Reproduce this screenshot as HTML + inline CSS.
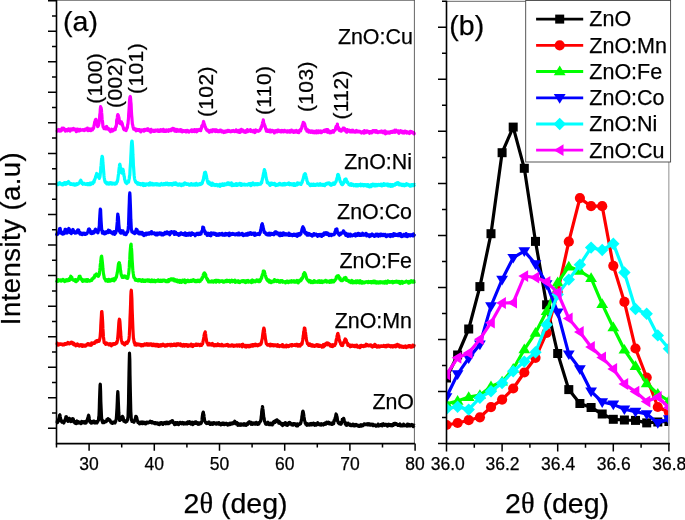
<!DOCTYPE html>
<html><head><meta charset="utf-8"><title>XRD</title>
<style>html,body{margin:0;padding:0;background:#fff;overflow:hidden}svg text{stroke:#000;stroke-width:0.25px}</style></head>
<body>
<svg width="685" height="520" viewBox="0 0 685 520" style="display:block">
<rect width="685" height="520" fill="#fff"/>
<g font-family="Liberation Sans, Arial, Helvetica, sans-serif" fill="#000">
<g fill="none" stroke-width="3.2" stroke-linejoin="round" stroke-linecap="butt">
<path d="M56.5,422.1 L56.8,422.1 L57.0,421.6 L57.3,422.7 L57.5,422.6 L57.8,422.2 L58.1,420.9 L58.3,421.6 L58.6,419.5 L58.8,418.6 L59.1,417.7 L59.4,416.2 L59.6,415.1 L59.9,414.8 L60.2,416.6 L60.4,417.5 L60.7,419.1 L60.9,420.8 L61.2,420.9 L61.5,421.5 L61.7,421.6 L62.0,422.2 L62.2,422.2 L62.5,421.1 L62.8,422.0 L63.0,422.4 L63.3,421.4 L63.5,422.6 L63.8,423.0 L64.1,422.1 L64.3,422.1 L64.6,421.1 L64.8,420.4 L65.1,420.8 L65.4,418.7 L65.6,419.5 L65.9,416.8 L66.1,417.4 L66.4,416.8 L66.7,418.4 L66.9,418.8 L67.2,420.3 L67.5,420.4 L67.7,419.9 L68.0,421.4 L68.2,419.6 L68.5,420.4 L68.8,419.4 L69.0,418.4 L69.3,418.8 L69.5,418.5 L69.8,418.8 L70.1,418.8 L70.3,420.4 L70.6,420.1 L70.8,421.7 L71.1,420.4 L71.4,420.9 L71.6,421.3 L71.9,420.5 L72.1,418.9 L72.4,419.4 L72.7,418.6 L72.9,418.6 L73.2,418.9 L73.5,419.9 L73.7,420.8 L74.0,422.2 L74.2,421.3 L74.5,422.0 L74.8,422.1 L75.0,423.1 L75.3,421.6 L75.5,422.5 L75.8,422.2 L76.1,422.5 L76.3,423.7 L76.6,422.1 L76.8,422.3 L77.1,421.0 L77.4,422.8 L77.6,422.4 L77.9,423.0 L78.1,421.6 L78.4,422.4 L78.7,422.9 L78.9,422.7 L79.2,422.3 L79.5,422.3 L79.7,422.1 L80.0,422.7 L80.2,422.4 L80.5,423.0 L80.8,423.7 L81.0,422.7 L81.3,422.4 L81.5,422.6 L81.8,421.5 L82.1,422.5 L82.3,421.5 L82.6,422.8 L82.8,422.8 L83.1,421.9 L83.4,422.5 L83.6,421.9 L83.9,422.8 L84.1,421.5 L84.4,422.3 L84.7,422.6 L84.9,423.1 L85.2,423.0 L85.4,423.1 L85.7,422.1 L86.0,422.4 L86.2,422.9 L86.5,420.7 L86.8,420.6 L87.0,421.0 L87.3,420.1 L87.5,419.1 L87.8,417.9 L88.1,417.7 L88.3,416.0 L88.6,415.2 L88.8,415.9 L89.1,417.4 L89.4,419.1 L89.6,420.0 L89.9,422.1 L90.1,422.2 L90.4,422.0 L90.7,422.2 L90.9,421.7 L91.2,423.2 L91.4,422.8 L91.7,422.7 L92.0,421.7 L92.2,423.0 L92.5,421.9 L92.8,421.6 L93.0,421.8 L93.3,421.3 L93.5,421.9 L93.8,422.6 L94.1,421.0 L94.3,422.2 L94.6,422.6 L94.8,422.5 L95.1,423.0 L95.4,422.2 L95.6,422.6 L95.9,421.9 L96.1,422.8 L96.4,422.3 L96.7,421.6 L96.9,423.0 L97.2,422.3 L97.4,421.3 L97.7,421.8 L98.0,421.3 L98.2,420.3 L98.5,420.3 L98.7,417.3 L99.0,415.7 L99.3,408.4 L99.5,400.4 L99.8,392.1 L100.1,385.0 L100.3,384.2 L100.6,391.5 L100.8,401.1 L101.1,407.7 L101.4,414.4 L101.6,417.6 L101.9,420.9 L102.1,420.0 L102.4,422.1 L102.7,422.6 L102.9,421.4 L103.2,420.7 L103.4,422.0 L103.7,421.7 L104.0,422.4 L104.2,422.5 L104.5,422.1 L104.7,422.1 L105.0,421.7 L105.3,421.9 L105.5,421.9 L105.8,421.5 L106.1,421.7 L106.3,421.5 L106.6,421.1 L106.8,419.6 L107.1,419.9 L107.4,419.2 L107.6,419.2 L107.9,419.1 L108.1,418.7 L108.4,419.3 L108.7,419.9 L108.9,419.2 L109.2,420.3 L109.4,420.1 L109.7,419.8 L110.0,420.2 L110.2,421.0 L110.5,421.2 L110.7,422.2 L111.0,422.1 L111.3,422.1 L111.5,423.0 L111.8,422.0 L112.1,423.0 L112.3,423.2 L112.6,423.4 L112.8,423.0 L113.1,422.8 L113.4,422.3 L113.6,422.6 L113.9,422.1 L114.1,422.0 L114.4,422.6 L114.7,421.9 L114.9,423.0 L115.2,422.3 L115.4,421.3 L115.7,421.6 L116.0,419.7 L116.2,419.7 L116.5,416.2 L116.7,413.1 L117.0,408.0 L117.3,401.6 L117.5,395.9 L117.8,391.7 L118.0,394.4 L118.3,401.2 L118.6,408.1 L118.8,412.7 L119.1,416.9 L119.4,419.0 L119.6,420.5 L119.9,420.4 L120.1,420.2 L120.4,419.8 L120.7,419.3 L120.9,419.6 L121.2,418.9 L121.4,418.7 L121.7,417.7 L122.0,417.0 L122.2,417.2 L122.5,416.3 L122.7,416.9 L123.0,417.2 L123.3,418.3 L123.5,419.6 L123.8,421.1 L124.0,421.0 L124.3,421.2 L124.6,420.5 L124.8,421.7 L125.1,421.7 L125.4,422.1 L125.6,421.9 L125.9,421.7 L126.1,421.8 L126.4,421.5 L126.7,421.0 L126.9,421.4 L127.2,420.0 L127.4,420.2 L127.7,418.4 L128.0,417.2 L128.2,411.5 L128.5,403.5 L128.7,390.3 L129.0,373.9 L129.3,360.4 L129.5,353.2 L129.8,359.8 L130.0,375.3 L130.3,390.3 L130.6,403.4 L130.8,411.5 L131.1,415.9 L131.3,419.8 L131.6,419.4 L131.9,421.4 L132.1,421.1 L132.4,421.2 L132.7,421.3 L132.9,421.5 L133.2,421.9 L133.4,421.2 L133.7,421.6 L134.0,422.2 L134.2,421.2 L134.5,420.5 L134.7,420.6 L135.0,420.1 L135.3,418.4 L135.5,418.8 L135.8,416.3 L136.0,416.3 L136.3,416.5 L136.6,417.7 L136.8,417.7 L137.1,419.7 L137.3,420.2 L137.6,421.2 L137.9,422.5 L138.1,422.6 L138.4,421.8 L138.7,422.8 L138.9,422.7 L139.2,422.4 L139.4,423.8 L139.7,422.9 L140.0,423.7 L140.2,423.3 L140.5,422.8 L140.7,422.1 L141.0,423.3 L141.3,423.2 L141.5,423.1 L141.8,422.1 L142.0,423.6 L142.3,422.1 L142.6,422.1 L142.8,423.7 L143.1,423.2 L143.3,422.7 L143.6,423.3 L143.9,422.4 L144.1,423.1 L144.4,422.3 L144.7,422.7 L144.9,422.9 L145.2,422.9 L145.4,423.8 L145.7,423.4 L146.0,423.1 L146.2,423.8 L146.5,423.0 L146.7,422.2 L147.0,422.7 L147.3,422.2 L147.5,422.8 L147.8,422.6 L148.0,422.6 L148.3,422.8 L148.6,422.1 L148.8,422.8 L149.1,422.4 L149.3,422.4 L149.6,422.1 L149.9,421.9 L150.1,422.3 L150.4,421.2 L150.6,422.1 L150.9,422.4 L151.2,422.1 L151.4,422.6 L151.7,422.9 L152.0,421.6 L152.2,422.3 L152.5,422.8 L152.7,422.4 L153.0,422.2 L153.3,422.4 L153.5,422.8 L153.8,422.9 L154.0,423.3 L154.3,423.4 L154.6,422.7 L154.8,423.4 L155.1,423.8 L155.3,422.6 L155.6,423.7 L155.9,423.6 L156.1,422.8 L156.4,423.5 L156.6,423.7 L156.9,423.8 L157.2,423.1 L157.4,423.0 L157.7,423.9 L158.0,423.3 L158.2,423.3 L158.5,424.3 L158.7,424.0 L159.0,423.4 L159.3,423.5 L159.5,424.6 L159.8,423.1 L160.0,422.9 L160.3,423.7 L160.6,423.5 L160.8,423.4 L161.1,422.6 L161.3,422.9 L161.6,423.1 L161.9,423.5 L162.1,423.3 L162.4,424.0 L162.6,422.9 L162.9,424.5 L163.2,423.4 L163.4,424.0 L163.7,423.2 L163.9,423.5 L164.2,422.7 L164.5,423.0 L164.7,422.9 L165.0,423.2 L165.3,422.5 L165.5,422.8 L165.8,423.0 L166.0,423.8 L166.3,422.7 L166.6,422.1 L166.8,423.0 L167.1,423.5 L167.3,423.4 L167.6,422.3 L167.9,423.6 L168.1,423.4 L168.4,423.3 L168.6,423.7 L168.9,423.4 L169.2,423.2 L169.4,422.9 L169.7,423.0 L169.9,421.9 L170.2,422.6 L170.5,422.5 L170.7,422.1 L171.0,421.5 L171.3,421.8 L171.5,420.9 L171.8,420.8 L172.0,421.0 L172.3,421.2 L172.6,420.8 L172.8,421.5 L173.1,422.5 L173.3,422.1 L173.6,422.5 L173.9,423.1 L174.1,423.2 L174.4,424.5 L174.6,423.2 L174.9,423.3 L175.2,424.5 L175.4,422.7 L175.7,422.8 L175.9,423.4 L176.2,424.3 L176.5,422.7 L176.7,424.2 L177.0,423.2 L177.3,424.0 L177.5,422.5 L177.8,424.2 L178.0,423.9 L178.3,423.5 L178.6,424.7 L178.8,423.2 L179.1,423.8 L179.3,423.8 L179.6,423.3 L179.9,423.2 L180.1,422.4 L180.4,423.3 L180.6,423.4 L180.9,422.8 L181.2,423.7 L181.4,423.0 L181.7,423.8 L181.9,423.2 L182.2,423.3 L182.5,422.5 L182.7,422.7 L183.0,422.5 L183.2,422.5 L183.5,422.8 L183.8,424.0 L184.0,422.9 L184.3,423.2 L184.6,422.9 L184.8,423.0 L185.1,423.7 L185.3,423.9 L185.6,423.2 L185.9,423.2 L186.1,423.1 L186.4,423.0 L186.6,422.7 L186.9,423.5 L187.2,424.0 L187.4,422.6 L187.7,423.6 L187.9,421.8 L188.2,423.4 L188.5,423.2 L188.7,423.4 L189.0,422.9 L189.2,423.2 L189.5,423.0 L189.8,421.7 L190.0,423.1 L190.3,422.6 L190.6,423.4 L190.8,424.0 L191.1,422.7 L191.3,423.8 L191.6,423.9 L191.9,423.0 L192.1,423.7 L192.4,422.2 L192.6,424.7 L192.9,423.0 L193.2,423.4 L193.4,423.9 L193.7,422.9 L193.9,423.1 L194.2,423.4 L194.5,423.5 L194.7,422.1 L195.0,422.3 L195.2,423.0 L195.5,423.4 L195.8,422.6 L196.0,421.9 L196.3,423.4 L196.5,423.1 L196.8,423.6 L197.1,423.6 L197.3,423.5 L197.6,423.0 L197.9,422.8 L198.1,424.3 L198.4,423.5 L198.6,424.2 L198.9,424.0 L199.2,423.1 L199.4,424.1 L199.7,422.8 L199.9,422.8 L200.2,423.8 L200.5,423.2 L200.7,423.7 L201.0,422.5 L201.2,423.3 L201.5,422.5 L201.8,421.0 L202.0,419.5 L202.3,416.6 L202.5,415.3 L202.8,413.1 L203.1,413.2 L203.3,412.1 L203.6,414.1 L203.9,414.9 L204.1,416.9 L204.4,419.0 L204.6,420.5 L204.9,421.3 L205.2,421.8 L205.4,422.4 L205.7,422.2 L205.9,422.9 L206.2,423.0 L206.5,423.5 L206.7,423.2 L207.0,423.3 L207.2,423.0 L207.5,423.0 L207.8,423.3 L208.0,423.4 L208.3,422.6 L208.5,422.2 L208.8,422.0 L209.1,422.5 L209.3,422.2 L209.6,422.6 L209.9,423.4 L210.1,424.4 L210.4,423.5 L210.6,424.5 L210.9,423.5 L211.2,423.8 L211.4,423.2 L211.7,423.0 L211.9,424.0 L212.2,423.0 L212.5,423.8 L212.7,424.4 L213.0,424.4 L213.2,423.7 L213.5,423.6 L213.8,423.8 L214.0,422.5 L214.3,422.8 L214.5,423.4 L214.8,423.2 L215.1,423.1 L215.3,423.7 L215.6,423.4 L215.8,423.3 L216.1,424.2 L216.4,423.9 L216.6,424.0 L216.9,422.8 L217.2,423.3 L217.4,423.4 L217.7,423.9 L217.9,423.8 L218.2,424.0 L218.5,423.4 L218.7,424.0 L219.0,422.5 L219.2,423.8 L219.5,423.2 L219.8,423.9 L220.0,424.0 L220.3,423.7 L220.5,424.6 L220.8,424.9 L221.1,423.6 L221.3,423.4 L221.6,423.4 L221.8,424.0 L222.1,423.9 L222.4,424.0 L222.6,424.3 L222.9,423.2 L223.2,424.1 L223.4,423.1 L223.7,423.8 L223.9,423.6 L224.2,424.6 L224.5,423.4 L224.7,424.3 L225.0,423.9 L225.2,424.3 L225.5,424.1 L225.8,424.1 L226.0,423.4 L226.3,423.9 L226.5,423.9 L226.8,423.5 L227.1,423.8 L227.3,424.7 L227.6,425.1 L227.8,424.5 L228.1,425.0 L228.4,423.8 L228.6,424.3 L228.9,424.4 L229.1,424.0 L229.4,423.4 L229.7,423.8 L229.9,423.5 L230.2,424.5 L230.5,423.4 L230.7,424.5 L231.0,423.1 L231.2,423.6 L231.5,423.5 L231.8,423.6 L232.0,423.8 L232.3,422.8 L232.5,423.1 L232.8,423.8 L233.1,423.3 L233.3,422.7 L233.6,422.4 L233.8,422.4 L234.1,421.9 L234.4,422.9 L234.6,422.6 L234.9,421.2 L235.1,423.4 L235.4,423.6 L235.7,423.8 L235.9,423.9 L236.2,422.6 L236.5,422.7 L236.7,423.7 L237.0,422.6 L237.2,424.1 L237.5,423.3 L237.8,425.3 L238.0,424.1 L238.3,424.3 L238.5,424.9 L238.8,423.7 L239.1,424.2 L239.3,424.7 L239.6,425.1 L239.8,424.8 L240.1,424.3 L240.4,425.3 L240.6,424.8 L240.9,423.8 L241.1,425.0 L241.4,424.4 L241.7,425.0 L241.9,424.1 L242.2,424.2 L242.5,424.6 L242.7,424.5 L243.0,424.0 L243.2,424.0 L243.5,425.1 L243.8,424.2 L244.0,424.2 L244.3,423.8 L244.5,424.0 L244.8,425.1 L245.1,425.1 L245.3,424.8 L245.6,424.8 L245.8,424.1 L246.1,425.4 L246.4,423.8 L246.6,424.2 L246.9,424.2 L247.1,423.9 L247.4,424.6 L247.7,424.4 L247.9,422.9 L248.2,422.7 L248.4,423.1 L248.7,423.2 L249.0,422.0 L249.2,421.8 L249.5,422.4 L249.8,422.9 L250.0,422.7 L250.3,422.7 L250.5,422.5 L250.8,422.2 L251.1,424.3 L251.3,422.8 L251.6,422.9 L251.8,423.2 L252.1,423.8 L252.4,423.1 L252.6,424.3 L252.9,422.9 L253.1,423.0 L253.4,423.2 L253.7,423.9 L253.9,423.5 L254.2,423.3 L254.4,423.5 L254.7,423.0 L255.0,424.1 L255.2,423.5 L255.5,424.2 L255.8,424.1 L256.0,423.4 L256.3,422.4 L256.5,423.1 L256.8,423.5 L257.1,423.6 L257.3,423.1 L257.6,424.5 L257.8,424.1 L258.1,424.0 L258.4,423.9 L258.6,424.1 L258.9,422.7 L259.1,423.7 L259.4,422.4 L259.7,422.4 L259.9,422.2 L260.2,421.7 L260.4,421.4 L260.7,420.6 L261.0,419.1 L261.2,416.8 L261.5,415.1 L261.7,411.8 L262.0,409.7 L262.3,407.9 L262.5,406.5 L262.8,408.7 L263.1,410.3 L263.3,412.7 L263.6,415.5 L263.8,417.8 L264.1,418.0 L264.4,421.0 L264.6,421.2 L264.9,421.8 L265.1,422.5 L265.4,423.5 L265.7,424.1 L265.9,424.2 L266.2,423.5 L266.4,423.3 L266.7,423.3 L267.0,424.3 L267.2,423.1 L267.5,423.3 L267.7,422.6 L268.0,422.2 L268.3,423.6 L268.5,423.7 L268.8,424.5 L269.1,423.7 L269.3,423.5 L269.6,424.5 L269.8,423.8 L270.1,423.6 L270.4,423.3 L270.6,424.7 L270.9,423.7 L271.1,423.7 L271.4,423.4 L271.7,424.7 L271.9,423.3 L272.2,425.0 L272.4,423.0 L272.7,422.9 L273.0,424.1 L273.2,422.5 L273.5,421.8 L273.7,422.2 L274.0,421.5 L274.3,422.2 L274.5,422.3 L274.8,421.2 L275.1,421.9 L275.3,422.3 L275.6,421.4 L275.8,420.6 L276.1,421.3 L276.4,420.1 L276.6,420.5 L276.9,419.8 L277.1,421.3 L277.4,421.5 L277.7,420.6 L277.9,421.1 L278.2,421.8 L278.4,422.0 L278.7,423.0 L279.0,422.4 L279.2,421.4 L279.5,422.9 L279.7,422.0 L280.0,423.0 L280.3,423.6 L280.5,423.0 L280.8,423.1 L281.0,423.8 L281.3,424.3 L281.6,424.6 L281.8,424.0 L282.1,423.5 L282.4,423.9 L282.6,425.6 L282.9,424.4 L283.1,423.6 L283.4,424.0 L283.7,424.7 L283.9,424.2 L284.2,423.7 L284.4,423.9 L284.7,424.0 L285.0,422.8 L285.2,422.7 L285.5,424.0 L285.7,423.4 L286.0,425.0 L286.3,424.2 L286.5,423.2 L286.8,423.7 L287.0,423.7 L287.3,425.5 L287.6,424.0 L287.8,424.1 L288.1,424.9 L288.4,424.0 L288.6,424.0 L288.9,422.6 L289.1,423.9 L289.4,423.4 L289.7,423.1 L289.9,422.5 L290.2,423.8 L290.4,423.5 L290.7,423.3 L291.0,423.7 L291.2,423.7 L291.5,423.6 L291.7,424.9 L292.0,424.3 L292.3,424.6 L292.5,424.4 L292.8,425.2 L293.0,424.5 L293.3,423.6 L293.6,424.2 L293.8,423.7 L294.1,424.0 L294.3,423.7 L294.6,424.7 L294.9,424.2 L295.1,424.5 L295.4,424.4 L295.7,424.6 L295.9,424.0 L296.2,425.8 L296.4,425.8 L296.7,424.4 L297.0,424.2 L297.2,424.6 L297.5,423.8 L297.7,426.0 L298.0,425.1 L298.3,424.8 L298.5,424.4 L298.8,424.5 L299.0,424.4 L299.3,424.2 L299.6,424.3 L299.8,424.2 L300.1,424.1 L300.3,423.2 L300.6,423.6 L300.9,422.4 L301.1,421.9 L301.4,419.9 L301.7,418.9 L301.9,416.4 L302.2,415.2 L302.4,413.2 L302.7,411.6 L303.0,411.1 L303.2,411.8 L303.5,413.3 L303.7,414.5 L304.0,417.0 L304.3,418.5 L304.5,420.4 L304.8,421.1 L305.0,421.8 L305.3,423.5 L305.6,422.8 L305.8,424.3 L306.1,424.1 L306.3,423.6 L306.6,423.5 L306.9,425.3 L307.1,424.9 L307.4,423.7 L307.7,424.2 L307.9,424.7 L308.2,424.5 L308.4,424.6 L308.7,424.8 L309.0,424.4 L309.2,425.2 L309.5,423.9 L309.7,424.3 L310.0,424.8 L310.3,424.6 L310.5,423.7 L310.8,424.3 L311.0,424.2 L311.3,423.4 L311.6,424.8 L311.8,424.4 L312.1,424.7 L312.3,423.8 L312.6,424.5 L312.9,423.3 L313.1,424.3 L313.4,424.4 L313.6,423.1 L313.9,424.6 L314.2,424.4 L314.4,424.7 L314.7,425.2 L315.0,424.2 L315.2,423.8 L315.5,424.0 L315.7,423.7 L316.0,424.5 L316.3,425.1 L316.5,424.9 L316.8,424.4 L317.0,424.1 L317.3,423.7 L317.6,423.7 L317.8,422.7 L318.1,423.6 L318.3,423.3 L318.6,424.3 L318.9,423.8 L319.1,424.7 L319.4,424.8 L319.6,424.3 L319.9,424.0 L320.2,424.6 L320.4,424.4 L320.7,424.5 L321.0,425.2 L321.2,424.9 L321.5,423.7 L321.7,424.8 L322.0,423.9 L322.3,424.0 L322.5,424.4 L322.8,424.7 L323.0,424.2 L323.3,425.1 L323.6,424.7 L323.8,423.7 L324.1,424.2 L324.3,424.3 L324.6,424.4 L324.9,424.4 L325.1,424.3 L325.4,422.8 L325.6,423.7 L325.9,424.0 L326.2,423.4 L326.4,422.7 L326.7,422.2 L326.9,423.2 L327.2,422.8 L327.5,423.0 L327.7,423.2 L328.0,423.4 L328.3,423.4 L328.5,423.5 L328.8,422.2 L329.0,423.2 L329.3,423.8 L329.6,423.2 L329.8,423.2 L330.1,423.6 L330.3,423.3 L330.6,423.6 L330.9,424.0 L331.1,423.2 L331.4,424.1 L331.6,424.4 L331.9,423.8 L332.2,424.3 L332.4,424.3 L332.7,424.0 L332.9,422.7 L333.2,423.8 L333.5,422.8 L333.7,423.7 L334.0,420.6 L334.3,421.2 L334.5,420.7 L334.8,419.6 L335.0,418.4 L335.3,417.4 L335.6,417.0 L335.8,415.1 L336.1,414.0 L336.3,415.6 L336.6,414.9 L336.9,417.1 L337.1,416.9 L337.4,419.4 L337.6,421.3 L337.9,421.1 L338.2,422.7 L338.4,423.0 L338.7,423.2 L338.9,423.4 L339.2,422.8 L339.5,423.8 L339.7,423.1 L340.0,423.0 L340.3,423.8 L340.5,423.2 L340.8,423.7 L341.0,424.3 L341.3,423.8 L341.6,422.7 L341.8,421.7 L342.1,421.9 L342.3,419.4 L342.6,419.9 L342.9,420.0 L343.1,419.3 L343.4,419.4 L343.6,418.3 L343.9,418.9 L344.2,420.4 L344.4,421.0 L344.7,421.5 L344.9,422.5 L345.2,424.0 L345.5,423.0 L345.7,423.3 L346.0,425.1 L346.2,423.0 L346.5,423.6 L346.8,424.4 L347.0,425.3 L347.3,424.2 L347.6,424.7 L347.8,423.3 L348.1,423.2 L348.3,424.6 L348.6,424.4 L348.9,424.4 L349.1,423.9 L349.4,424.9 L349.6,424.7 L349.9,425.3 L350.2,424.6 L350.4,424.3 L350.7,424.7 L350.9,425.7 L351.2,424.8 L351.5,425.3 L351.7,425.1 L352.0,424.8 L352.2,425.6 L352.5,425.5 L352.8,425.2 L353.0,424.2 L353.3,425.2 L353.6,424.7 L353.8,424.4 L354.1,426.0 L354.3,425.2 L354.6,425.3 L354.9,425.3 L355.1,425.8 L355.4,425.0 L355.6,424.9 L355.9,425.3 L356.2,424.4 L356.4,425.2 L356.7,424.8 L356.9,424.9 L357.2,425.1 L357.5,425.9 L357.7,425.2 L358.0,426.1 L358.2,425.3 L358.5,425.6 L358.8,425.5 L359.0,426.3 L359.3,425.7 L359.5,426.4 L359.8,426.2 L360.1,425.7 L360.3,426.2 L360.6,425.0 L360.9,424.7 L361.1,425.1 L361.4,425.4 L361.6,424.8 L361.9,426.0 L362.2,424.9 L362.4,425.1 L362.7,425.2 L362.9,424.9 L363.2,425.5 L363.5,424.7 L363.7,425.1 L364.0,424.5 L364.2,423.8 L364.5,424.4 L364.8,424.6 L365.0,424.1 L365.3,424.3 L365.5,424.2 L365.8,424.6 L366.1,424.4 L366.3,424.1 L366.6,423.8 L366.9,423.8 L367.1,423.9 L367.4,424.6 L367.6,424.8 L367.9,423.9 L368.2,423.6 L368.4,425.0 L368.7,423.8 L368.9,424.7 L369.2,424.5 L369.5,424.0 L369.7,424.5 L370.0,425.2 L370.2,424.1 L370.5,425.1 L370.8,424.4 L371.0,424.7 L371.3,424.4 L371.5,424.7 L371.8,424.2 L372.1,425.1 L372.3,424.6 L372.6,425.5 L372.9,424.8 L373.1,424.3 L373.4,425.7 L373.6,424.7 L373.9,425.1 L374.2,425.4 L374.4,424.9 L374.7,425.5 L374.9,425.6 L375.2,425.0 L375.5,425.1 L375.7,425.2 L376.0,425.5 L376.2,426.2 L376.5,426.1 L376.8,426.0 L377.0,425.9 L377.3,425.1 L377.5,425.3 L377.8,425.9 L378.1,424.2 L378.3,424.8 L378.6,425.1 L378.8,426.0 L379.1,425.2 L379.4,425.5 L379.6,425.6 L379.9,425.6 L380.2,425.4 L380.4,424.9 L380.7,425.1 L380.9,424.6 L381.2,424.5 L381.5,425.2 L381.7,424.5 L382.0,425.3 L382.2,425.9 L382.5,424.2 L382.8,425.2 L383.0,424.7 L383.3,424.7 L383.5,423.7 L383.8,425.1 L384.1,424.7 L384.3,425.0 L384.6,425.4 L384.8,424.9 L385.1,424.8 L385.4,424.4 L385.6,424.7 L385.9,424.4 L386.2,425.1 L386.4,424.8 L386.7,424.5 L386.9,425.1 L387.2,424.8 L387.5,426.2 L387.7,425.7 L388.0,425.5 L388.2,424.8 L388.5,424.3 L388.8,424.6 L389.0,425.4 L389.3,424.5 L389.5,424.4 L389.8,425.3 L390.1,424.6 L390.3,425.6 L390.6,424.6 L390.8,424.6 L391.1,424.6 L391.4,425.3 L391.6,425.5 L391.9,425.9 L392.1,425.1 L392.4,424.6 L392.7,424.3 L392.9,425.1 L393.2,425.4 L393.5,424.6 L393.7,424.4 L394.0,423.5 L394.2,423.4 L394.5,423.9 L394.8,424.5 L395.0,424.4 L395.3,423.3 L395.5,424.1 L395.8,423.4 L396.1,423.5 L396.3,423.8 L396.6,424.6 L396.8,424.3 L397.1,424.1 L397.4,424.9 L397.6,424.9 L397.9,425.4 L398.1,425.2 L398.4,424.5 L398.7,424.5 L398.9,425.4 L399.2,424.7 L399.5,424.8 L399.7,424.6 L400.0,423.9 L400.2,425.9 L400.5,424.7 L400.8,425.3 L401.0,425.3 L401.3,425.1 L401.5,425.8 L401.8,425.5 L402.1,425.2 L402.3,425.3 L402.6,425.8 L402.8,424.8 L403.1,425.2 L403.4,425.0 L403.6,424.1 L403.9,425.2 L404.1,425.8 L404.4,425.0 L404.7,425.0 L404.9,425.5 L405.2,425.6 L405.5,425.5 L405.7,425.6 L406.0,425.2 L406.2,425.7 L406.5,424.8 L406.8,425.1 L407.0,426.2 L407.3,425.5 L407.5,424.1 L407.8,425.9 L408.1,425.3 L408.3,425.5 L408.6,425.7 L408.8,424.3 L409.1,425.7 L409.4,424.7 L409.6,426.0 L409.9,424.7 L410.1,425.0 L410.4,425.4 L410.7,425.7 L410.9,424.9 L411.2,425.0 L411.4,424.7 L411.7,424.5 L412.0,425.5 L412.2,424.7 L412.5,424.9 L412.8,425.5 L413.0,425.4 L413.3,426.6 L413.5,425.0 L413.8,425.1 L414.1,425.6 L414.3,425.4 L414.6,425.3" stroke="#000000"/>
<path d="M56.5,344.9 L56.8,345.0 L57.0,344.8 L57.3,343.1 L57.5,344.0 L57.8,343.8 L58.1,345.2 L58.3,344.9 L58.6,344.6 L58.8,344.9 L59.1,344.5 L59.4,344.4 L59.6,343.8 L59.9,344.3 L60.2,344.0 L60.4,344.0 L60.7,344.3 L60.9,343.9 L61.2,344.5 L61.5,344.6 L61.7,344.4 L62.0,344.0 L62.2,344.0 L62.5,344.0 L62.8,344.7 L63.0,345.0 L63.3,344.2 L63.5,344.1 L63.8,344.4 L64.1,344.9 L64.3,344.5 L64.6,343.7 L64.8,344.2 L65.1,344.5 L65.4,344.4 L65.6,344.4 L65.9,343.6 L66.1,343.5 L66.4,343.8 L66.7,344.0 L66.9,343.7 L67.2,343.9 L67.5,343.7 L67.7,343.2 L68.0,342.4 L68.2,343.6 L68.5,342.9 L68.8,343.5 L69.0,343.7 L69.3,343.3 L69.5,343.5 L69.8,343.7 L70.1,342.8 L70.3,343.4 L70.6,343.1 L70.8,342.5 L71.1,342.6 L71.4,342.5 L71.6,343.1 L71.9,342.2 L72.1,342.7 L72.4,342.4 L72.7,343.8 L72.9,344.0 L73.2,342.9 L73.5,344.5 L73.7,343.2 L74.0,344.8 L74.2,344.4 L74.5,344.5 L74.8,344.7 L75.0,344.6 L75.3,344.5 L75.5,345.2 L75.8,345.8 L76.1,345.4 L76.3,344.9 L76.6,344.9 L76.8,344.0 L77.1,345.5 L77.4,344.6 L77.6,344.0 L77.9,345.4 L78.1,344.7 L78.4,345.3 L78.7,345.8 L78.9,344.8 L79.2,346.0 L79.5,346.1 L79.7,345.6 L80.0,345.4 L80.2,345.0 L80.5,344.7 L80.8,344.8 L81.0,345.1 L81.3,345.2 L81.5,345.0 L81.8,344.7 L82.1,344.8 L82.3,346.5 L82.6,344.8 L82.8,345.7 L83.1,345.7 L83.4,345.8 L83.6,346.0 L83.9,345.2 L84.1,345.2 L84.4,345.8 L84.7,345.9 L84.9,346.0 L85.2,345.4 L85.4,345.4 L85.7,346.0 L86.0,344.9 L86.2,345.3 L86.5,344.9 L86.8,344.5 L87.0,344.2 L87.3,345.1 L87.5,344.3 L87.8,343.7 L88.1,344.5 L88.3,344.6 L88.6,344.9 L88.8,343.8 L89.1,344.8 L89.4,344.6 L89.6,344.9 L89.9,345.1 L90.1,344.7 L90.4,344.3 L90.7,343.9 L90.9,344.1 L91.2,345.3 L91.4,344.7 L91.7,342.8 L92.0,344.3 L92.2,344.0 L92.5,343.7 L92.8,343.1 L93.0,343.3 L93.3,342.9 L93.5,343.4 L93.8,343.3 L94.1,342.5 L94.3,342.5 L94.6,343.0 L94.8,343.2 L95.1,341.8 L95.4,342.2 L95.6,342.5 L95.9,341.2 L96.1,342.0 L96.4,341.4 L96.7,340.7 L96.9,341.3 L97.2,341.5 L97.4,341.7 L97.7,341.4 L98.0,341.1 L98.2,340.3 L98.5,341.3 L98.7,340.6 L99.0,341.3 L99.3,340.6 L99.5,339.8 L99.8,338.8 L100.1,337.1 L100.3,334.6 L100.6,330.8 L100.8,325.6 L101.1,320.4 L101.4,315.7 L101.6,311.5 L101.9,311.6 L102.1,313.8 L102.4,317.9 L102.7,323.0 L102.9,328.4 L103.2,332.6 L103.4,336.7 L103.7,338.8 L104.0,341.2 L104.2,342.7 L104.5,342.3 L104.7,343.1 L105.0,343.4 L105.3,343.0 L105.5,344.2 L105.8,344.4 L106.1,343.3 L106.3,344.1 L106.6,343.0 L106.8,343.6 L107.1,343.2 L107.4,343.6 L107.6,343.9 L107.9,343.7 L108.1,343.9 L108.4,344.2 L108.7,344.8 L108.9,344.3 L109.2,344.0 L109.4,344.8 L109.7,343.9 L110.0,344.8 L110.2,343.7 L110.5,345.1 L110.7,344.4 L111.0,344.0 L111.3,345.8 L111.5,344.4 L111.8,344.4 L112.1,344.8 L112.3,343.9 L112.6,344.8 L112.8,344.8 L113.1,344.4 L113.4,344.2 L113.6,343.7 L113.9,343.6 L114.1,343.7 L114.4,344.1 L114.7,344.4 L114.9,344.3 L115.2,343.3 L115.4,343.3 L115.7,343.7 L116.0,343.7 L116.2,343.7 L116.5,342.2 L116.7,342.0 L117.0,342.7 L117.3,341.1 L117.5,339.7 L117.8,337.1 L118.0,334.9 L118.3,331.0 L118.6,326.6 L118.8,323.3 L119.1,320.5 L119.4,319.2 L119.6,319.6 L119.9,321.7 L120.1,324.4 L120.4,329.0 L120.7,332.5 L120.9,336.5 L121.2,339.2 L121.4,340.2 L121.7,341.2 L122.0,342.1 L122.2,343.2 L122.5,343.3 L122.7,343.4 L123.0,343.1 L123.3,343.0 L123.5,343.8 L123.8,344.3 L124.0,343.7 L124.3,343.6 L124.6,343.8 L124.8,344.9 L125.1,344.0 L125.4,343.5 L125.6,343.4 L125.9,343.6 L126.1,342.4 L126.4,342.7 L126.7,343.4 L126.9,343.2 L127.2,343.3 L127.4,343.0 L127.7,341.5 L128.0,341.8 L128.2,341.8 L128.5,341.0 L128.7,340.3 L129.0,338.9 L129.3,335.7 L129.5,331.5 L129.8,325.5 L130.0,318.9 L130.3,312.1 L130.6,304.1 L130.8,296.7 L131.1,291.2 L131.3,290.2 L131.6,294.2 L131.9,299.7 L132.1,308.3 L132.4,316.1 L132.7,323.5 L132.9,328.8 L133.2,334.5 L133.4,337.9 L133.7,339.4 L134.0,341.6 L134.2,342.5 L134.5,343.3 L134.7,342.6 L135.0,345.0 L135.3,343.2 L135.5,343.5 L135.8,344.5 L136.0,344.8 L136.3,345.1 L136.6,344.3 L136.8,344.9 L137.1,344.4 L137.3,343.9 L137.6,344.5 L137.9,344.8 L138.1,344.9 L138.4,344.1 L138.7,344.8 L138.9,344.7 L139.2,344.6 L139.4,345.0 L139.7,344.4 L140.0,344.8 L140.2,344.6 L140.5,344.6 L140.7,345.0 L141.0,344.5 L141.3,346.0 L141.5,344.6 L141.8,345.1 L142.0,344.7 L142.3,345.1 L142.6,345.2 L142.8,345.5 L143.1,344.7 L143.3,345.6 L143.6,344.8 L143.9,345.1 L144.1,345.1 L144.4,344.7 L144.7,343.9 L144.9,344.5 L145.2,344.4 L145.4,344.7 L145.7,344.4 L146.0,345.0 L146.2,344.5 L146.5,344.6 L146.7,344.3 L147.0,343.6 L147.3,344.2 L147.5,344.0 L147.8,344.7 L148.0,345.3 L148.3,344.4 L148.6,343.9 L148.8,344.2 L149.1,344.9 L149.3,345.0 L149.6,344.7 L149.9,344.6 L150.1,344.0 L150.4,344.3 L150.6,344.2 L150.9,344.4 L151.2,345.1 L151.4,344.5 L151.7,344.0 L152.0,345.2 L152.2,345.6 L152.5,345.0 L152.7,345.2 L153.0,345.2 L153.3,344.1 L153.5,344.6 L153.8,345.5 L154.0,345.3 L154.3,345.0 L154.6,344.9 L154.8,345.7 L155.1,344.4 L155.3,345.3 L155.6,345.9 L155.9,345.6 L156.1,344.7 L156.4,345.9 L156.6,345.9 L156.9,344.3 L157.2,345.1 L157.4,345.1 L157.7,344.7 L158.0,345.7 L158.2,344.7 L158.5,346.4 L158.7,345.1 L159.0,344.7 L159.3,345.9 L159.5,345.2 L159.8,345.2 L160.0,346.1 L160.3,345.7 L160.6,345.1 L160.8,344.8 L161.1,345.0 L161.3,345.2 L161.6,344.7 L161.9,345.8 L162.1,345.2 L162.4,344.3 L162.6,344.8 L162.9,345.0 L163.2,344.2 L163.4,345.0 L163.7,345.3 L163.9,345.1 L164.2,344.9 L164.5,344.9 L164.7,344.9 L165.0,346.2 L165.3,345.2 L165.5,345.4 L165.8,345.0 L166.0,345.5 L166.3,344.9 L166.6,345.6 L166.8,345.8 L167.1,344.7 L167.3,344.8 L167.6,345.3 L167.9,345.3 L168.1,344.5 L168.4,345.1 L168.6,344.6 L168.9,344.9 L169.2,344.9 L169.4,345.2 L169.7,345.3 L169.9,344.5 L170.2,345.3 L170.5,345.9 L170.7,345.2 L171.0,344.5 L171.3,345.6 L171.5,344.3 L171.8,344.5 L172.0,344.9 L172.3,345.5 L172.6,344.6 L172.8,345.0 L173.1,345.4 L173.3,344.5 L173.6,344.3 L173.9,345.2 L174.1,345.4 L174.4,344.1 L174.6,344.6 L174.9,344.5 L175.2,345.1 L175.4,345.2 L175.7,345.6 L175.9,345.0 L176.2,345.7 L176.5,344.6 L176.7,343.9 L177.0,345.2 L177.3,344.4 L177.5,344.6 L177.8,343.8 L178.0,344.6 L178.3,344.8 L178.6,343.9 L178.8,344.6 L179.1,344.4 L179.3,344.6 L179.6,345.1 L179.9,344.8 L180.1,345.2 L180.4,343.8 L180.6,345.6 L180.9,345.1 L181.2,344.5 L181.4,344.6 L181.7,345.3 L181.9,345.6 L182.2,345.4 L182.5,346.1 L182.7,345.8 L183.0,345.1 L183.2,344.6 L183.5,344.7 L183.8,344.4 L184.0,345.5 L184.3,346.2 L184.6,345.7 L184.8,345.4 L185.1,345.0 L185.3,344.6 L185.6,345.0 L185.9,345.1 L186.1,345.0 L186.4,345.7 L186.6,344.9 L186.9,345.8 L187.2,345.8 L187.4,344.9 L187.7,346.3 L187.9,346.4 L188.2,345.1 L188.5,345.5 L188.7,346.2 L189.0,344.9 L189.2,345.1 L189.5,345.7 L189.8,345.7 L190.0,345.6 L190.3,344.9 L190.6,345.5 L190.8,345.6 L191.1,346.0 L191.3,344.2 L191.6,346.2 L191.9,344.6 L192.1,345.6 L192.4,344.9 L192.6,345.6 L192.9,346.5 L193.2,344.9 L193.4,345.7 L193.7,345.0 L193.9,345.2 L194.2,344.9 L194.5,345.2 L194.7,345.0 L195.0,345.3 L195.2,344.8 L195.5,345.3 L195.8,345.3 L196.0,344.0 L196.3,344.1 L196.5,345.0 L196.8,345.2 L197.1,345.4 L197.3,345.2 L197.6,344.4 L197.9,344.4 L198.1,344.8 L198.4,344.9 L198.6,344.4 L198.9,344.4 L199.2,344.9 L199.4,344.6 L199.7,345.6 L199.9,344.8 L200.2,345.3 L200.5,345.3 L200.7,345.2 L201.0,344.2 L201.2,344.9 L201.5,345.4 L201.8,344.5 L202.0,344.4 L202.3,344.2 L202.5,344.0 L202.8,342.8 L203.1,341.4 L203.3,339.9 L203.6,339.0 L203.9,337.0 L204.1,335.3 L204.4,334.2 L204.6,333.2 L204.9,333.0 L205.2,331.8 L205.4,333.3 L205.7,334.8 L205.9,337.4 L206.2,338.6 L206.5,340.5 L206.7,341.7 L207.0,342.9 L207.2,343.0 L207.5,343.5 L207.8,343.9 L208.0,344.9 L208.3,344.4 L208.5,344.3 L208.8,344.6 L209.1,344.4 L209.3,344.7 L209.6,343.5 L209.9,344.5 L210.1,344.8 L210.4,344.3 L210.6,344.1 L210.9,344.2 L211.2,343.9 L211.4,344.3 L211.7,345.1 L211.9,344.4 L212.2,343.9 L212.5,343.5 L212.7,345.2 L213.0,344.2 L213.2,345.0 L213.5,344.8 L213.8,345.6 L214.0,345.9 L214.3,345.8 L214.5,345.6 L214.8,344.7 L215.1,344.9 L215.3,345.3 L215.6,345.6 L215.8,344.6 L216.1,344.9 L216.4,344.8 L216.6,345.6 L216.9,344.8 L217.2,344.8 L217.4,345.5 L217.7,344.5 L217.9,344.0 L218.2,344.4 L218.5,344.5 L218.7,345.3 L219.0,345.1 L219.2,345.7 L219.5,344.7 L219.8,345.4 L220.0,344.7 L220.3,344.8 L220.5,344.9 L220.8,345.7 L221.1,345.2 L221.3,345.8 L221.6,344.4 L221.8,344.3 L222.1,344.9 L222.4,345.1 L222.6,344.9 L222.9,345.6 L223.2,345.9 L223.4,345.3 L223.7,345.6 L223.9,345.4 L224.2,345.2 L224.5,345.3 L224.7,345.7 L225.0,345.4 L225.2,345.4 L225.5,345.6 L225.8,344.8 L226.0,345.4 L226.3,345.3 L226.5,344.6 L226.8,344.7 L227.1,345.1 L227.3,345.5 L227.6,344.5 L227.8,345.0 L228.1,345.9 L228.4,346.1 L228.6,344.9 L228.9,346.1 L229.1,345.7 L229.4,345.4 L229.7,345.9 L229.9,345.8 L230.2,345.8 L230.5,346.0 L230.7,345.6 L231.0,345.4 L231.2,345.8 L231.5,345.0 L231.8,345.5 L232.0,345.3 L232.3,344.9 L232.5,345.8 L232.8,345.3 L233.1,345.8 L233.3,345.9 L233.6,345.5 L233.8,346.3 L234.1,346.0 L234.4,345.5 L234.6,346.2 L234.9,345.4 L235.1,345.8 L235.4,345.4 L235.7,345.5 L235.9,345.7 L236.2,345.8 L236.5,345.2 L236.7,344.9 L237.0,345.7 L237.2,345.4 L237.5,346.0 L237.8,345.5 L238.0,345.1 L238.3,345.9 L238.5,345.2 L238.8,345.5 L239.1,344.8 L239.3,346.0 L239.6,346.2 L239.8,345.6 L240.1,345.5 L240.4,345.6 L240.6,345.6 L240.9,345.5 L241.1,345.3 L241.4,346.0 L241.7,344.5 L241.9,345.0 L242.2,346.8 L242.5,345.8 L242.7,344.6 L243.0,344.2 L243.2,345.4 L243.5,345.7 L243.8,346.1 L244.0,346.0 L244.3,345.7 L244.5,345.6 L244.8,346.5 L245.1,346.6 L245.3,346.8 L245.6,346.2 L245.8,345.4 L246.1,346.3 L246.4,347.1 L246.6,346.4 L246.9,345.6 L247.1,346.2 L247.4,346.2 L247.7,345.6 L247.9,345.3 L248.2,345.4 L248.4,346.2 L248.7,346.2 L249.0,346.8 L249.2,345.9 L249.5,345.8 L249.8,346.7 L250.0,345.3 L250.3,346.1 L250.5,345.2 L250.8,345.8 L251.1,345.1 L251.3,345.5 L251.6,345.5 L251.8,346.2 L252.1,345.0 L252.4,345.1 L252.6,345.4 L252.9,344.6 L253.1,346.1 L253.4,344.9 L253.7,344.7 L253.9,345.7 L254.2,344.7 L254.4,344.8 L254.7,345.7 L255.0,345.1 L255.2,345.4 L255.5,344.2 L255.8,345.5 L256.0,345.0 L256.3,344.5 L256.5,345.2 L256.8,345.2 L257.1,345.4 L257.3,344.8 L257.6,345.8 L257.8,345.7 L258.1,344.8 L258.4,345.0 L258.6,345.2 L258.9,345.0 L259.1,344.5 L259.4,345.1 L259.7,344.4 L259.9,344.1 L260.2,344.8 L260.4,344.3 L260.7,344.3 L261.0,344.0 L261.2,342.6 L261.5,342.7 L261.7,340.9 L262.0,339.7 L262.3,338.4 L262.5,336.4 L262.8,334.0 L263.1,332.0 L263.3,330.9 L263.6,329.0 L263.8,328.0 L264.1,328.7 L264.4,329.9 L264.6,332.4 L264.9,334.6 L265.1,336.0 L265.4,338.6 L265.7,340.3 L265.9,341.4 L266.2,343.3 L266.4,343.8 L266.7,343.8 L267.0,344.2 L267.2,344.6 L267.5,345.1 L267.7,345.2 L268.0,345.1 L268.3,345.0 L268.5,344.6 L268.8,345.2 L269.1,344.8 L269.3,344.8 L269.6,345.2 L269.8,344.4 L270.1,346.0 L270.4,345.4 L270.6,344.8 L270.9,344.3 L271.1,345.4 L271.4,345.0 L271.7,345.5 L271.9,345.2 L272.2,344.6 L272.4,344.9 L272.7,344.7 L273.0,345.7 L273.2,345.3 L273.5,344.9 L273.7,346.0 L274.0,344.9 L274.3,345.7 L274.5,344.9 L274.8,345.1 L275.1,345.2 L275.3,345.7 L275.6,344.9 L275.8,345.1 L276.1,345.1 L276.4,345.0 L276.6,344.9 L276.9,346.2 L277.1,345.0 L277.4,344.6 L277.7,345.3 L277.9,346.3 L278.2,345.8 L278.4,345.1 L278.7,346.2 L279.0,345.4 L279.2,345.8 L279.5,346.6 L279.7,346.0 L280.0,345.6 L280.3,345.8 L280.5,346.0 L280.8,345.8 L281.0,346.2 L281.3,345.5 L281.6,346.2 L281.8,346.1 L282.1,346.0 L282.4,346.7 L282.6,344.7 L282.9,345.5 L283.1,345.1 L283.4,345.8 L283.7,346.5 L283.9,346.8 L284.2,346.0 L284.4,346.3 L284.7,346.5 L285.0,346.4 L285.2,346.6 L285.5,346.1 L285.7,345.6 L286.0,346.6 L286.3,346.9 L286.5,345.2 L286.8,346.3 L287.0,346.2 L287.3,345.8 L287.6,345.6 L287.8,345.7 L288.1,346.3 L288.4,345.6 L288.6,346.6 L288.9,346.3 L289.1,346.4 L289.4,345.5 L289.7,345.7 L289.9,345.2 L290.2,345.6 L290.4,345.0 L290.7,345.5 L291.0,345.7 L291.2,345.3 L291.5,345.8 L291.7,344.7 L292.0,346.0 L292.3,344.6 L292.5,344.9 L292.8,345.3 L293.0,345.3 L293.3,345.3 L293.6,345.3 L293.8,345.4 L294.1,345.5 L294.3,345.2 L294.6,344.8 L294.9,345.4 L295.1,345.0 L295.4,345.6 L295.7,345.7 L295.9,344.9 L296.2,345.1 L296.4,344.4 L296.7,344.6 L297.0,344.5 L297.2,345.1 L297.5,345.0 L297.7,346.0 L298.0,346.2 L298.3,346.1 L298.5,344.8 L298.8,345.3 L299.0,344.6 L299.3,345.4 L299.6,345.6 L299.8,345.4 L300.1,346.1 L300.3,344.5 L300.6,344.3 L300.9,344.7 L301.1,344.2 L301.4,344.6 L301.7,343.2 L301.9,344.3 L302.2,343.3 L302.4,341.6 L302.7,340.6 L303.0,338.3 L303.2,335.9 L303.5,334.6 L303.7,331.6 L304.0,331.6 L304.3,328.2 L304.5,328.4 L304.8,328.1 L305.0,329.2 L305.3,331.5 L305.6,333.0 L305.8,335.3 L306.1,337.9 L306.3,338.9 L306.6,340.7 L306.9,341.6 L307.1,341.8 L307.4,343.7 L307.7,343.7 L307.9,343.9 L308.2,344.4 L308.4,344.9 L308.7,345.3 L309.0,345.1 L309.2,345.1 L309.5,345.4 L309.7,343.8 L310.0,344.7 L310.3,345.2 L310.5,345.6 L310.8,345.0 L311.0,345.6 L311.3,345.8 L311.6,345.4 L311.8,346.0 L312.1,344.7 L312.3,344.8 L312.6,345.6 L312.9,345.6 L313.1,346.0 L313.4,345.2 L313.6,345.3 L313.9,345.3 L314.2,345.4 L314.4,346.4 L314.7,345.8 L315.0,346.1 L315.2,345.4 L315.5,346.1 L315.7,345.4 L316.0,345.0 L316.3,345.3 L316.5,345.8 L316.8,345.9 L317.0,344.7 L317.3,345.0 L317.6,345.1 L317.8,345.7 L318.1,346.2 L318.3,345.9 L318.6,345.0 L318.9,345.1 L319.1,345.5 L319.4,346.4 L319.6,345.4 L319.9,345.4 L320.2,345.9 L320.4,345.6 L320.7,345.4 L321.0,345.7 L321.2,345.8 L321.5,346.7 L321.7,346.6 L322.0,347.1 L322.3,346.5 L322.5,346.7 L322.8,346.0 L323.0,346.9 L323.3,344.7 L323.6,346.8 L323.8,345.6 L324.1,345.6 L324.3,345.4 L324.6,345.9 L324.9,344.0 L325.1,345.1 L325.4,344.9 L325.6,344.4 L325.9,344.6 L326.2,344.6 L326.4,343.2 L326.7,343.0 L326.9,343.2 L327.2,343.5 L327.5,344.8 L327.7,343.1 L328.0,343.4 L328.3,343.1 L328.5,344.4 L328.8,344.0 L329.0,343.6 L329.3,344.1 L329.6,345.1 L329.8,344.7 L330.1,345.9 L330.3,345.6 L330.6,345.5 L330.9,344.9 L331.1,346.4 L331.4,345.6 L331.6,346.3 L331.9,344.9 L332.2,344.8 L332.4,344.6 L332.7,346.6 L332.9,345.1 L333.2,345.2 L333.5,346.0 L333.7,345.2 L334.0,345.7 L334.3,344.7 L334.5,345.0 L334.8,345.4 L335.0,344.2 L335.3,344.2 L335.6,344.0 L335.8,343.0 L336.1,340.4 L336.3,339.6 L336.6,338.8 L336.9,337.2 L337.1,335.8 L337.4,335.0 L337.6,333.8 L337.9,333.4 L338.2,334.5 L338.4,334.9 L338.7,335.9 L338.9,337.0 L339.2,340.6 L339.5,339.9 L339.7,341.7 L340.0,341.5 L340.3,342.4 L340.5,343.7 L340.8,344.2 L341.0,344.4 L341.3,345.3 L341.6,344.7 L341.8,344.4 L342.1,344.9 L342.3,345.3 L342.6,345.5 L342.9,344.5 L343.1,343.5 L343.4,343.2 L343.6,342.4 L343.9,342.4 L344.2,341.5 L344.4,341.0 L344.7,339.9 L344.9,339.9 L345.2,339.0 L345.5,339.2 L345.7,339.7 L346.0,340.5 L346.2,340.0 L346.5,341.5 L346.8,343.0 L347.0,343.0 L347.3,343.3 L347.6,343.1 L347.8,345.4 L348.1,345.2 L348.3,344.6 L348.6,345.4 L348.9,344.8 L349.1,345.5 L349.4,344.8 L349.6,345.4 L349.9,345.9 L350.2,346.8 L350.4,346.1 L350.7,346.1 L350.9,345.3 L351.2,346.0 L351.5,346.1 L351.7,345.3 L352.0,346.3 L352.2,345.1 L352.5,345.4 L352.8,346.1 L353.0,345.4 L353.3,345.7 L353.6,346.5 L353.8,346.5 L354.1,346.0 L354.3,346.1 L354.6,346.5 L354.9,345.5 L355.1,346.6 L355.4,345.9 L355.6,346.4 L355.9,346.3 L356.2,345.9 L356.4,345.2 L356.7,345.2 L356.9,346.3 L357.2,346.5 L357.5,347.2 L357.7,346.4 L358.0,346.1 L358.2,346.9 L358.5,346.3 L358.8,346.7 L359.0,346.7 L359.3,346.2 L359.5,345.9 L359.8,347.6 L360.1,346.8 L360.3,345.9 L360.6,345.8 L360.9,345.5 L361.1,346.2 L361.4,346.4 L361.6,345.4 L361.9,346.5 L362.2,345.6 L362.4,345.7 L362.7,346.3 L362.9,345.9 L363.2,346.1 L363.5,346.1 L363.7,346.5 L364.0,345.8 L364.2,346.0 L364.5,345.3 L364.8,345.2 L365.0,346.2 L365.3,345.6 L365.5,345.9 L365.8,346.1 L366.1,345.1 L366.3,344.2 L366.6,345.2 L366.9,345.1 L367.1,345.6 L367.4,344.7 L367.6,345.2 L367.9,345.3 L368.2,345.5 L368.4,345.8 L368.7,345.3 L368.9,345.3 L369.2,345.2 L369.5,345.2 L369.7,345.4 L370.0,345.7 L370.2,345.9 L370.5,346.0 L370.8,345.0 L371.0,345.6 L371.3,345.5 L371.5,345.3 L371.8,345.7 L372.1,346.5 L372.3,347.0 L372.6,346.5 L372.9,345.8 L373.1,345.7 L373.4,346.0 L373.6,346.6 L373.9,345.6 L374.2,345.6 L374.4,345.4 L374.7,344.4 L374.9,346.4 L375.2,345.7 L375.5,345.6 L375.7,345.0 L376.0,345.4 L376.2,345.5 L376.5,346.1 L376.8,346.3 L377.0,347.0 L377.3,346.7 L377.5,347.0 L377.8,346.3 L378.1,345.9 L378.3,346.6 L378.6,346.0 L378.8,347.0 L379.1,347.1 L379.4,346.7 L379.6,346.9 L379.9,346.8 L380.2,346.5 L380.4,345.9 L380.7,346.0 L380.9,346.1 L381.2,346.4 L381.5,345.9 L381.7,346.2 L382.0,345.9 L382.2,346.2 L382.5,346.1 L382.8,346.3 L383.0,345.8 L383.3,346.2 L383.5,345.9 L383.8,345.4 L384.1,346.4 L384.3,346.1 L384.6,346.0 L384.8,346.4 L385.1,346.7 L385.4,346.0 L385.6,345.8 L385.9,346.3 L386.2,346.2 L386.4,346.8 L386.7,345.4 L386.9,346.0 L387.2,345.8 L387.5,346.0 L387.7,345.4 L388.0,345.9 L388.2,345.5 L388.5,346.1 L388.8,345.2 L389.0,345.5 L389.3,346.2 L389.5,346.1 L389.8,346.5 L390.1,346.6 L390.3,345.8 L390.6,346.0 L390.8,346.9 L391.1,345.7 L391.4,345.8 L391.6,346.6 L391.9,346.1 L392.1,345.7 L392.4,346.1 L392.7,346.1 L392.9,347.0 L393.2,345.9 L393.5,346.7 L393.7,346.6 L394.0,345.6 L394.2,346.0 L394.5,345.8 L394.8,345.5 L395.0,346.1 L395.3,345.6 L395.5,345.1 L395.8,346.9 L396.1,345.9 L396.3,345.9 L396.6,345.6 L396.8,345.6 L397.1,345.5 L397.4,344.3 L397.6,346.2 L397.9,346.1 L398.1,346.1 L398.4,345.5 L398.7,346.1 L398.9,346.3 L399.2,345.1 L399.5,347.1 L399.7,346.7 L400.0,346.9 L400.2,346.5 L400.5,346.4 L400.8,346.4 L401.0,346.9 L401.3,346.0 L401.5,346.1 L401.8,347.2 L402.1,346.7 L402.3,346.3 L402.6,346.8 L402.8,347.2 L403.1,347.3 L403.4,346.4 L403.6,346.5 L403.9,346.7 L404.1,347.3 L404.4,346.7 L404.7,346.3 L404.9,346.3 L405.2,347.0 L405.5,346.0 L405.7,346.5 L406.0,347.3 L406.2,347.6 L406.5,346.5 L406.8,346.4 L407.0,347.1 L407.3,346.6 L407.5,346.4 L407.8,346.3 L408.1,346.1 L408.3,346.2 L408.6,345.8 L408.8,346.8 L409.1,346.1 L409.4,345.6 L409.6,345.9 L409.9,345.5 L410.1,345.5 L410.4,346.0 L410.7,347.1 L410.9,346.1 L411.2,346.1 L411.4,347.2 L411.7,346.0 L412.0,346.1 L412.2,346.1 L412.5,346.9 L412.8,345.2 L413.0,345.7 L413.3,346.1 L413.5,346.2 L413.8,346.3 L414.1,346.1 L414.3,345.7 L414.6,346.2" stroke="#ff0000"/>
<path d="M56.5,280.4 L56.8,281.3 L57.0,281.0 L57.3,280.5 L57.5,281.0 L57.8,280.1 L58.1,281.3 L58.3,279.7 L58.6,280.4 L58.8,280.0 L59.1,280.1 L59.4,280.7 L59.6,280.4 L59.9,280.6 L60.2,280.2 L60.4,280.5 L60.7,280.8 L60.9,279.8 L61.2,281.2 L61.5,280.1 L61.7,280.0 L62.0,280.0 L62.2,280.0 L62.5,280.0 L62.8,280.7 L63.0,279.4 L63.3,280.7 L63.5,280.1 L63.8,280.9 L64.1,280.1 L64.3,280.1 L64.6,280.8 L64.8,281.5 L65.1,280.8 L65.4,280.2 L65.6,280.5 L65.9,280.6 L66.1,280.9 L66.4,279.8 L66.7,279.6 L66.9,280.5 L67.2,280.7 L67.5,280.0 L67.7,280.6 L68.0,280.2 L68.2,280.7 L68.5,280.6 L68.8,279.6 L69.0,278.9 L69.3,280.5 L69.5,279.1 L69.8,278.5 L70.1,277.6 L70.3,277.5 L70.6,276.9 L70.8,276.2 L71.1,276.6 L71.4,278.0 L71.6,277.6 L71.9,277.4 L72.1,279.5 L72.4,279.2 L72.7,279.5 L72.9,279.8 L73.2,279.6 L73.5,280.1 L73.7,279.9 L74.0,280.4 L74.2,280.5 L74.5,280.4 L74.8,280.1 L75.0,280.7 L75.3,281.2 L75.5,279.6 L75.8,280.3 L76.1,281.7 L76.3,280.1 L76.6,279.9 L76.8,280.7 L77.1,280.7 L77.4,280.7 L77.6,279.7 L77.9,279.3 L78.1,279.7 L78.4,279.2 L78.7,277.9 L78.9,277.8 L79.2,276.3 L79.5,276.4 L79.7,276.4 L80.0,276.1 L80.2,277.3 L80.5,277.4 L80.8,279.0 L81.0,279.0 L81.3,279.6 L81.5,279.7 L81.8,280.1 L82.1,279.2 L82.3,280.8 L82.6,281.4 L82.8,281.2 L83.1,280.3 L83.4,280.1 L83.6,280.4 L83.9,280.2 L84.1,281.0 L84.4,280.2 L84.7,280.9 L84.9,279.8 L85.2,279.8 L85.4,280.5 L85.7,281.0 L86.0,280.7 L86.2,279.8 L86.5,280.5 L86.8,280.0 L87.0,281.3 L87.3,280.6 L87.5,280.4 L87.8,279.6 L88.1,280.5 L88.3,280.6 L88.6,280.8 L88.8,280.5 L89.1,281.1 L89.4,281.1 L89.6,280.9 L89.9,280.7 L90.1,280.9 L90.4,280.3 L90.7,280.6 L90.9,280.4 L91.2,280.3 L91.4,280.1 L91.7,280.4 L92.0,278.8 L92.2,279.6 L92.5,278.9 L92.8,278.7 L93.0,278.2 L93.3,277.9 L93.5,277.5 L93.8,277.5 L94.1,278.0 L94.3,276.5 L94.6,276.8 L94.8,275.2 L95.1,275.2 L95.4,275.3 L95.6,275.6 L95.9,275.5 L96.1,274.3 L96.4,274.0 L96.7,275.0 L96.9,274.5 L97.2,275.5 L97.4,275.2 L97.7,275.0 L98.0,274.8 L98.2,276.3 L98.5,276.2 L98.7,275.0 L99.0,275.2 L99.3,274.4 L99.5,272.1 L99.8,270.2 L100.1,267.7 L100.3,264.7 L100.6,263.0 L100.8,260.6 L101.1,258.1 L101.4,256.4 L101.6,256.1 L101.9,258.2 L102.1,260.0 L102.4,262.7 L102.7,265.6 L102.9,268.8 L103.2,271.4 L103.4,273.4 L103.7,274.7 L104.0,276.3 L104.2,277.9 L104.5,278.5 L104.7,278.6 L105.0,279.3 L105.3,279.6 L105.5,279.4 L105.8,280.9 L106.1,280.0 L106.3,280.4 L106.6,280.1 L106.8,280.8 L107.1,279.7 L107.4,280.3 L107.6,280.7 L107.9,281.3 L108.1,281.1 L108.4,281.2 L108.7,280.6 L108.9,279.4 L109.2,280.7 L109.4,280.4 L109.7,280.9 L110.0,279.8 L110.2,279.9 L110.5,281.0 L110.7,279.8 L111.0,280.6 L111.3,280.5 L111.5,279.6 L111.8,279.4 L112.1,280.5 L112.3,279.3 L112.6,279.7 L112.8,280.3 L113.1,279.8 L113.4,279.0 L113.6,279.7 L113.9,279.1 L114.1,280.9 L114.4,278.6 L114.7,279.0 L114.9,279.4 L115.2,279.5 L115.4,279.3 L115.7,277.6 L116.0,277.5 L116.2,277.6 L116.5,276.8 L116.7,275.3 L117.0,274.0 L117.3,272.7 L117.5,271.6 L117.8,269.4 L118.0,267.7 L118.3,265.1 L118.6,263.7 L118.8,263.3 L119.1,262.6 L119.4,262.8 L119.6,263.9 L119.9,265.0 L120.1,266.7 L120.4,269.8 L120.7,271.0 L120.9,273.1 L121.2,274.7 L121.4,274.9 L121.7,276.2 L122.0,276.4 L122.2,277.3 L122.5,277.2 L122.7,277.0 L123.0,277.1 L123.3,276.8 L123.5,277.4 L123.8,277.1 L124.0,276.6 L124.3,275.9 L124.6,276.1 L124.8,276.0 L125.1,276.1 L125.4,276.2 L125.6,277.3 L125.9,277.3 L126.1,277.5 L126.4,277.0 L126.7,277.8 L126.9,278.2 L127.2,277.3 L127.4,277.7 L127.7,278.3 L128.0,277.3 L128.2,275.6 L128.5,274.4 L128.7,273.4 L129.0,270.4 L129.3,267.4 L129.5,262.0 L129.8,259.4 L130.0,253.9 L130.3,250.1 L130.6,246.3 L130.8,244.8 L131.1,244.2 L131.3,247.2 L131.6,249.8 L131.9,254.7 L132.1,259.5 L132.4,263.7 L132.7,268.5 L132.9,270.9 L133.2,273.2 L133.4,274.3 L133.7,276.8 L134.0,277.7 L134.2,277.7 L134.5,277.9 L134.7,278.3 L135.0,279.0 L135.3,280.0 L135.5,279.8 L135.8,279.2 L136.0,280.3 L136.3,279.7 L136.6,280.2 L136.8,279.9 L137.1,279.9 L137.3,280.3 L137.6,280.2 L137.9,280.8 L138.1,280.8 L138.4,280.6 L138.7,279.6 L138.9,279.8 L139.2,280.7 L139.4,280.6 L139.7,280.2 L140.0,279.6 L140.2,280.8 L140.5,280.5 L140.7,280.5 L141.0,280.4 L141.3,280.9 L141.5,280.1 L141.8,281.4 L142.0,279.9 L142.3,280.7 L142.6,280.5 L142.8,279.7 L143.1,280.9 L143.3,281.2 L143.6,280.1 L143.9,281.1 L144.1,281.3 L144.4,280.5 L144.7,280.3 L144.9,280.1 L145.2,280.1 L145.4,281.3 L145.7,280.9 L146.0,280.7 L146.2,281.0 L146.5,280.7 L146.7,280.5 L147.0,280.7 L147.3,279.8 L147.5,280.8 L147.8,280.2 L148.0,281.2 L148.3,280.8 L148.6,281.1 L148.8,280.5 L149.1,279.9 L149.3,281.4 L149.6,280.6 L149.9,281.4 L150.1,280.3 L150.4,281.2 L150.6,280.6 L150.9,281.6 L151.2,280.5 L151.4,280.7 L151.7,280.9 L152.0,280.0 L152.2,280.9 L152.5,281.4 L152.7,280.9 L153.0,281.5 L153.3,281.2 L153.5,280.5 L153.8,281.2 L154.0,280.5 L154.3,280.3 L154.6,281.1 L154.8,281.5 L155.1,280.7 L155.3,281.5 L155.6,281.7 L155.9,280.6 L156.1,280.6 L156.4,281.1 L156.6,281.1 L156.9,280.7 L157.2,280.8 L157.4,280.3 L157.7,280.2 L158.0,281.2 L158.2,279.9 L158.5,281.0 L158.7,281.0 L159.0,281.4 L159.3,281.3 L159.5,280.5 L159.8,280.9 L160.0,280.8 L160.3,280.7 L160.6,280.3 L160.8,281.5 L161.1,281.1 L161.3,281.1 L161.6,280.5 L161.9,280.9 L162.1,281.3 L162.4,280.2 L162.6,280.8 L162.9,280.9 L163.2,280.8 L163.4,281.0 L163.7,280.9 L163.9,280.2 L164.2,280.7 L164.5,280.2 L164.7,280.7 L165.0,280.7 L165.3,281.2 L165.5,280.6 L165.8,281.2 L166.0,281.6 L166.3,281.1 L166.6,281.1 L166.8,281.2 L167.1,281.5 L167.3,280.9 L167.6,280.5 L167.9,281.7 L168.1,281.0 L168.4,280.4 L168.6,279.6 L168.9,281.3 L169.2,280.3 L169.4,280.4 L169.7,280.1 L169.9,279.8 L170.2,280.0 L170.5,279.2 L170.7,279.4 L171.0,279.4 L171.3,278.8 L171.5,279.4 L171.8,278.8 L172.0,280.0 L172.3,279.2 L172.6,280.1 L172.8,280.1 L173.1,279.6 L173.3,279.8 L173.6,279.0 L173.9,280.2 L174.1,279.1 L174.4,280.8 L174.6,281.0 L174.9,281.0 L175.2,280.5 L175.4,280.9 L175.7,280.0 L175.9,281.1 L176.2,280.8 L176.5,281.2 L176.7,280.0 L177.0,280.6 L177.3,281.5 L177.5,280.0 L177.8,282.0 L178.0,281.2 L178.3,280.9 L178.6,281.3 L178.8,281.0 L179.1,280.7 L179.3,280.5 L179.6,282.3 L179.9,280.7 L180.1,280.5 L180.4,281.3 L180.6,282.0 L180.9,282.4 L181.2,281.2 L181.4,282.5 L181.7,281.5 L181.9,280.9 L182.2,281.0 L182.5,281.5 L182.7,280.2 L183.0,280.9 L183.2,281.2 L183.5,281.2 L183.8,281.7 L184.0,281.1 L184.3,281.5 L184.6,280.6 L184.8,280.0 L185.1,281.5 L185.3,282.7 L185.6,282.3 L185.9,281.6 L186.1,281.9 L186.4,280.6 L186.6,281.6 L186.9,281.3 L187.2,281.5 L187.4,281.2 L187.7,280.6 L187.9,280.2 L188.2,280.5 L188.5,281.4 L188.7,281.5 L189.0,281.1 L189.2,281.0 L189.5,281.6 L189.8,281.5 L190.0,280.7 L190.3,280.7 L190.6,281.3 L190.8,280.3 L191.1,281.3 L191.3,281.3 L191.6,281.1 L191.9,281.0 L192.1,280.6 L192.4,280.1 L192.6,280.0 L192.9,281.2 L193.2,280.1 L193.4,279.7 L193.7,280.3 L193.9,280.2 L194.2,280.1 L194.5,280.5 L194.7,280.5 L195.0,281.1 L195.2,281.7 L195.5,280.6 L195.8,280.5 L196.0,280.9 L196.3,281.5 L196.5,280.8 L196.8,280.8 L197.1,281.5 L197.3,280.9 L197.6,280.4 L197.9,280.2 L198.1,281.0 L198.4,281.3 L198.6,281.3 L198.9,281.5 L199.2,280.5 L199.4,281.5 L199.7,281.6 L199.9,280.4 L200.2,281.3 L200.5,280.1 L200.7,279.7 L201.0,280.2 L201.2,279.8 L201.5,279.7 L201.8,278.8 L202.0,278.0 L202.3,278.6 L202.5,277.3 L202.8,277.4 L203.1,276.0 L203.3,274.8 L203.6,274.2 L203.9,274.0 L204.1,273.0 L204.4,272.9 L204.6,273.4 L204.9,273.4 L205.2,274.0 L205.4,275.0 L205.7,274.7 L205.9,276.7 L206.2,277.6 L206.5,277.9 L206.7,278.7 L207.0,278.8 L207.2,279.6 L207.5,279.0 L207.8,280.6 L208.0,280.1 L208.3,280.7 L208.5,282.0 L208.8,281.0 L209.1,281.0 L209.3,281.7 L209.6,281.4 L209.9,281.7 L210.1,281.5 L210.4,282.0 L210.6,282.0 L210.9,281.3 L211.2,281.8 L211.4,281.8 L211.7,281.8 L211.9,281.0 L212.2,281.2 L212.5,281.6 L212.7,281.4 L213.0,281.6 L213.2,281.0 L213.5,282.1 L213.8,281.2 L214.0,281.7 L214.3,281.4 L214.5,280.9 L214.8,281.4 L215.1,281.4 L215.3,281.3 L215.6,280.3 L215.8,280.8 L216.1,282.2 L216.4,281.7 L216.6,281.0 L216.9,280.3 L217.2,281.4 L217.4,280.7 L217.7,280.9 L217.9,281.3 L218.2,281.4 L218.5,280.7 L218.7,280.5 L219.0,281.5 L219.2,282.0 L219.5,281.6 L219.8,281.7 L220.0,281.3 L220.3,281.2 L220.5,281.3 L220.8,280.9 L221.1,281.0 L221.3,280.9 L221.6,281.4 L221.8,281.1 L222.1,280.9 L222.4,280.9 L222.6,281.3 L222.9,281.0 L223.2,282.0 L223.4,281.2 L223.7,281.1 L223.9,281.3 L224.2,282.0 L224.5,281.1 L224.7,281.1 L225.0,280.9 L225.2,281.2 L225.5,280.9 L225.8,280.9 L226.0,280.6 L226.3,281.6 L226.5,280.4 L226.8,281.1 L227.1,280.5 L227.3,281.5 L227.6,280.9 L227.8,281.5 L228.1,280.5 L228.4,281.1 L228.6,281.2 L228.9,281.4 L229.1,281.3 L229.4,281.3 L229.7,280.5 L229.9,280.6 L230.2,282.2 L230.5,281.5 L230.7,280.8 L231.0,281.3 L231.2,281.1 L231.5,281.4 L231.8,281.0 L232.0,280.2 L232.3,281.4 L232.5,281.7 L232.8,280.7 L233.1,281.2 L233.3,281.4 L233.6,281.2 L233.8,280.6 L234.1,281.0 L234.4,281.3 L234.6,280.6 L234.9,280.1 L235.1,282.4 L235.4,281.1 L235.7,281.3 L235.9,280.9 L236.2,281.4 L236.5,281.9 L236.7,281.5 L237.0,281.9 L237.2,281.3 L237.5,281.2 L237.8,282.1 L238.0,280.8 L238.3,281.2 L238.5,280.9 L238.8,282.3 L239.1,281.6 L239.3,281.9 L239.6,282.0 L239.8,282.5 L240.1,281.9 L240.4,281.6 L240.6,281.6 L240.9,281.2 L241.1,281.2 L241.4,281.0 L241.7,281.1 L241.9,280.9 L242.2,280.7 L242.5,281.7 L242.7,280.9 L243.0,281.6 L243.2,281.3 L243.5,280.6 L243.8,281.0 L244.0,281.3 L244.3,281.6 L244.5,280.9 L244.8,282.1 L245.1,281.1 L245.3,281.5 L245.6,282.5 L245.8,281.0 L246.1,282.4 L246.4,281.3 L246.6,281.6 L246.9,280.5 L247.1,280.5 L247.4,281.6 L247.7,281.9 L247.9,281.1 L248.2,280.4 L248.4,282.2 L248.7,281.5 L249.0,282.0 L249.2,281.8 L249.5,281.2 L249.8,281.8 L250.0,281.6 L250.3,281.8 L250.5,281.4 L250.8,281.7 L251.1,282.4 L251.3,280.7 L251.6,282.6 L251.8,281.1 L252.1,280.1 L252.4,281.1 L252.6,281.4 L252.9,280.2 L253.1,281.6 L253.4,281.9 L253.7,281.0 L253.9,281.7 L254.2,281.5 L254.4,280.8 L254.7,281.5 L255.0,281.1 L255.2,281.4 L255.5,281.8 L255.8,281.2 L256.0,281.1 L256.3,281.0 L256.5,280.8 L256.8,279.8 L257.1,281.0 L257.3,280.8 L257.6,281.1 L257.8,281.4 L258.1,280.9 L258.4,281.5 L258.6,280.9 L258.9,281.0 L259.1,281.5 L259.4,279.9 L259.7,281.6 L259.9,280.5 L260.2,281.0 L260.4,280.2 L260.7,279.1 L261.0,278.9 L261.2,279.1 L261.5,277.1 L261.7,277.9 L262.0,276.3 L262.3,274.8 L262.5,274.5 L262.8,273.9 L263.1,273.0 L263.3,271.0 L263.6,271.3 L263.8,271.1 L264.1,271.1 L264.4,271.6 L264.6,272.9 L264.9,273.4 L265.1,274.8 L265.4,275.9 L265.7,276.0 L265.9,277.4 L266.2,278.3 L266.4,278.0 L266.7,279.2 L267.0,280.1 L267.2,279.9 L267.5,280.4 L267.7,280.7 L268.0,281.1 L268.3,281.1 L268.5,280.6 L268.8,279.9 L269.1,282.1 L269.3,280.9 L269.6,281.2 L269.8,281.3 L270.1,280.6 L270.4,281.1 L270.6,281.2 L270.9,281.1 L271.1,282.7 L271.4,282.1 L271.7,281.9 L271.9,282.1 L272.2,281.6 L272.4,281.4 L272.7,281.5 L273.0,281.6 L273.2,280.8 L273.5,281.3 L273.7,281.2 L274.0,281.7 L274.3,281.1 L274.5,279.6 L274.8,280.8 L275.1,280.9 L275.3,280.7 L275.6,280.6 L275.8,281.0 L276.1,280.7 L276.4,281.5 L276.6,280.7 L276.9,280.9 L277.1,280.3 L277.4,280.5 L277.7,280.7 L277.9,280.9 L278.2,280.5 L278.4,281.3 L278.7,281.1 L279.0,282.0 L279.2,281.0 L279.5,281.5 L279.7,281.5 L280.0,281.5 L280.3,281.2 L280.5,282.2 L280.8,280.7 L281.0,281.7 L281.3,281.4 L281.6,281.5 L281.8,280.7 L282.1,281.0 L282.4,280.8 L282.6,281.5 L282.9,282.3 L283.1,281.7 L283.4,281.8 L283.7,281.8 L283.9,281.6 L284.2,281.8 L284.4,281.8 L284.7,281.8 L285.0,281.7 L285.2,281.7 L285.5,282.9 L285.7,281.8 L286.0,282.2 L286.3,282.2 L286.5,282.2 L286.8,282.0 L287.0,281.2 L287.3,282.2 L287.6,281.2 L287.8,281.2 L288.1,281.5 L288.4,282.6 L288.6,282.1 L288.9,282.3 L289.1,281.9 L289.4,282.2 L289.7,282.0 L289.9,281.0 L290.2,281.9 L290.4,281.7 L290.7,281.7 L291.0,281.9 L291.2,282.1 L291.5,281.3 L291.7,280.7 L292.0,281.6 L292.3,281.3 L292.5,281.6 L292.8,282.0 L293.0,282.0 L293.3,281.9 L293.6,281.0 L293.8,281.7 L294.1,280.8 L294.3,282.2 L294.6,281.7 L294.9,281.2 L295.1,282.0 L295.4,281.1 L295.7,282.1 L295.9,281.3 L296.2,280.9 L296.4,282.2 L296.7,281.0 L297.0,280.4 L297.2,281.2 L297.5,281.5 L297.7,280.8 L298.0,280.9 L298.3,282.9 L298.5,281.1 L298.8,280.6 L299.0,281.3 L299.3,280.8 L299.6,280.3 L299.8,280.8 L300.1,280.6 L300.3,281.1 L300.6,280.5 L300.9,280.1 L301.1,280.4 L301.4,278.7 L301.7,279.5 L301.9,279.0 L302.2,277.9 L302.4,278.4 L302.7,277.6 L303.0,276.5 L303.2,276.5 L303.5,274.0 L303.7,273.9 L304.0,273.9 L304.3,274.5 L304.5,272.5 L304.8,274.0 L305.0,273.2 L305.3,274.2 L305.6,274.8 L305.8,276.0 L306.1,276.5 L306.3,277.6 L306.6,278.4 L306.9,279.3 L307.1,279.4 L307.4,279.8 L307.7,280.4 L307.9,280.5 L308.2,280.9 L308.4,280.8 L308.7,280.8 L309.0,281.8 L309.2,280.4 L309.5,281.8 L309.7,281.3 L310.0,281.7 L310.3,281.6 L310.5,280.8 L310.8,282.1 L311.0,282.5 L311.3,281.9 L311.6,282.2 L311.8,281.3 L312.1,281.5 L312.3,281.5 L312.6,281.5 L312.9,282.7 L313.1,281.9 L313.4,281.4 L313.6,282.0 L313.9,282.1 L314.2,280.7 L314.4,282.2 L314.7,282.3 L315.0,281.0 L315.2,282.1 L315.5,282.0 L315.7,281.7 L316.0,281.7 L316.3,282.0 L316.5,281.9 L316.8,281.8 L317.0,282.1 L317.3,282.1 L317.6,281.6 L317.8,281.1 L318.1,282.3 L318.3,281.4 L318.6,282.0 L318.9,281.8 L319.1,282.1 L319.4,280.7 L319.6,282.4 L319.9,282.2 L320.2,281.5 L320.4,282.1 L320.7,281.8 L321.0,282.2 L321.2,280.9 L321.5,281.6 L321.7,281.9 L322.0,281.7 L322.3,282.6 L322.5,282.3 L322.8,281.8 L323.0,281.2 L323.3,281.6 L323.6,281.9 L323.8,281.5 L324.1,281.9 L324.3,281.7 L324.6,281.0 L324.9,281.4 L325.1,280.8 L325.4,281.4 L325.6,280.3 L325.9,281.3 L326.2,281.1 L326.4,280.8 L326.7,282.1 L326.9,281.5 L327.2,281.8 L327.5,281.3 L327.7,281.7 L328.0,281.3 L328.3,281.6 L328.5,281.4 L328.8,281.9 L329.0,281.7 L329.3,282.1 L329.6,282.4 L329.8,281.2 L330.1,280.8 L330.3,281.8 L330.6,281.6 L330.9,281.2 L331.1,281.6 L331.4,282.2 L331.6,280.4 L331.9,280.3 L332.2,280.8 L332.4,281.4 L332.7,281.9 L332.9,281.8 L333.2,281.7 L333.5,280.8 L333.7,281.9 L334.0,281.2 L334.3,280.6 L334.5,280.1 L334.8,280.8 L335.0,280.1 L335.3,279.7 L335.6,279.5 L335.8,279.1 L336.1,279.0 L336.3,276.9 L336.6,277.5 L336.9,276.6 L337.1,276.8 L337.4,275.8 L337.6,276.3 L337.9,276.3 L338.2,275.9 L338.4,275.7 L338.7,276.3 L338.9,276.8 L339.2,276.9 L339.5,278.4 L339.7,279.2 L340.0,277.7 L340.3,279.0 L340.5,279.5 L340.8,280.4 L341.0,280.5 L341.3,280.0 L341.6,280.2 L341.8,280.4 L342.1,280.3 L342.3,280.7 L342.6,280.2 L342.9,280.2 L343.1,280.2 L343.4,280.0 L343.6,278.8 L343.9,279.4 L344.2,278.6 L344.4,277.8 L344.7,277.9 L344.9,277.9 L345.2,277.7 L345.5,277.5 L345.7,277.8 L346.0,277.8 L346.2,279.0 L346.5,280.5 L346.8,279.8 L347.0,280.3 L347.3,280.2 L347.6,280.1 L347.8,280.7 L348.1,281.1 L348.3,280.8 L348.6,281.1 L348.9,281.2 L349.1,281.8 L349.4,280.8 L349.6,281.6 L349.9,281.2 L350.2,281.1 L350.4,281.8 L350.7,281.5 L350.9,282.6 L351.2,282.0 L351.5,281.4 L351.7,281.6 L352.0,280.5 L352.2,281.7 L352.5,281.7 L352.8,282.9 L353.0,282.1 L353.3,282.6 L353.6,281.6 L353.8,281.5 L354.1,282.4 L354.3,281.7 L354.6,281.7 L354.9,281.5 L355.1,282.6 L355.4,281.5 L355.6,282.1 L355.9,281.7 L356.2,281.0 L356.4,282.4 L356.7,282.8 L356.9,281.9 L357.2,281.4 L357.5,281.7 L357.7,280.8 L358.0,281.6 L358.2,281.2 L358.5,281.7 L358.8,281.8 L359.0,282.1 L359.3,282.9 L359.5,281.6 L359.8,282.2 L360.1,281.4 L360.3,280.7 L360.6,281.9 L360.9,281.7 L361.1,282.5 L361.4,282.1 L361.6,283.1 L361.9,282.9 L362.2,283.0 L362.4,282.6 L362.7,281.7 L362.9,282.0 L363.2,282.0 L363.5,282.5 L363.7,282.9 L364.0,282.3 L364.2,282.6 L364.5,282.3 L364.8,282.7 L365.0,282.0 L365.3,282.0 L365.5,282.0 L365.8,282.0 L366.1,281.6 L366.3,281.8 L366.6,281.8 L366.9,282.2 L367.1,282.2 L367.4,281.8 L367.6,282.3 L367.9,282.1 L368.2,282.6 L368.4,281.8 L368.7,282.2 L368.9,281.5 L369.2,281.7 L369.5,282.4 L369.7,282.4 L370.0,281.8 L370.2,281.9 L370.5,281.5 L370.8,281.5 L371.0,282.0 L371.3,281.6 L371.5,282.9 L371.8,282.3 L372.1,281.6 L372.3,282.7 L372.6,282.2 L372.9,281.3 L373.1,281.5 L373.4,281.4 L373.6,282.6 L373.9,281.0 L374.2,281.8 L374.4,282.1 L374.7,282.5 L374.9,281.9 L375.2,282.8 L375.5,281.4 L375.7,282.5 L376.0,282.3 L376.2,282.8 L376.5,282.9 L376.8,282.3 L377.0,283.0 L377.3,282.9 L377.5,281.9 L377.8,282.2 L378.1,282.7 L378.3,282.1 L378.6,283.0 L378.8,282.7 L379.1,281.8 L379.4,282.4 L379.6,282.2 L379.9,282.1 L380.2,282.5 L380.4,281.7 L380.7,282.8 L380.9,282.0 L381.2,282.6 L381.5,282.1 L381.7,282.2 L382.0,282.1 L382.2,282.7 L382.5,282.5 L382.8,282.8 L383.0,281.8 L383.3,282.6 L383.5,281.9 L383.8,282.7 L384.1,281.9 L384.3,282.1 L384.6,283.2 L384.8,281.8 L385.1,281.7 L385.4,282.1 L385.6,281.4 L385.9,281.6 L386.2,282.0 L386.4,282.5 L386.7,282.9 L386.9,283.1 L387.2,282.3 L387.5,282.1 L387.7,281.7 L388.0,281.0 L388.2,281.5 L388.5,281.6 L388.8,282.0 L389.0,281.4 L389.3,281.7 L389.5,281.6 L389.8,282.4 L390.1,282.4 L390.3,282.2 L390.6,282.0 L390.8,281.9 L391.1,281.6 L391.4,281.7 L391.6,281.7 L391.9,281.7 L392.1,282.2 L392.4,281.9 L392.7,281.5 L392.9,283.0 L393.2,281.7 L393.5,282.1 L393.7,282.0 L394.0,282.4 L394.2,281.6 L394.5,281.7 L394.8,281.9 L395.0,282.0 L395.3,281.7 L395.5,282.2 L395.8,281.5 L396.1,281.2 L396.3,281.5 L396.6,282.0 L396.8,281.8 L397.1,281.3 L397.4,282.1 L397.6,281.8 L397.9,282.2 L398.1,281.7 L398.4,281.8 L398.7,281.7 L398.9,281.4 L399.2,282.8 L399.5,282.6 L399.7,282.9 L400.0,281.6 L400.2,283.6 L400.5,282.5 L400.8,282.4 L401.0,282.3 L401.3,282.7 L401.5,282.9 L401.8,282.2 L402.1,281.4 L402.3,282.7 L402.6,283.2 L402.8,281.8 L403.1,282.6 L403.4,282.5 L403.6,282.1 L403.9,282.3 L404.1,282.3 L404.4,282.4 L404.7,281.8 L404.9,281.8 L405.2,281.7 L405.5,282.1 L405.7,281.9 L406.0,281.4 L406.2,281.6 L406.5,281.3 L406.8,281.8 L407.0,281.4 L407.3,281.5 L407.5,282.0 L407.8,282.2 L408.1,282.3 L408.3,281.9 L408.6,283.1 L408.8,281.8 L409.1,281.4 L409.4,281.7 L409.6,282.4 L409.9,282.8 L410.1,282.2 L410.4,281.5 L410.7,281.9 L410.9,281.9 L411.2,281.8 L411.4,280.7 L411.7,281.9 L412.0,282.0 L412.2,281.2 L412.5,281.0 L412.8,281.1 L413.0,281.7 L413.3,282.1 L413.5,281.3 L413.8,280.9 L414.1,282.1 L414.3,281.9 L414.6,281.5" stroke="#00ff00"/>
<path d="M56.5,233.5 L56.8,234.6 L57.0,233.7 L57.3,233.5 L57.5,233.1 L57.8,234.1 L58.1,233.1 L58.3,233.3 L58.6,233.3 L58.8,231.9 L59.1,230.6 L59.4,229.5 L59.6,228.6 L59.9,229.1 L60.2,228.5 L60.4,230.2 L60.7,231.1 L60.9,232.0 L61.2,232.9 L61.5,233.4 L61.7,233.1 L62.0,233.6 L62.2,233.2 L62.5,233.0 L62.8,234.1 L63.0,232.3 L63.3,233.6 L63.5,233.4 L63.8,233.2 L64.1,233.7 L64.3,233.6 L64.6,231.9 L64.8,231.3 L65.1,229.3 L65.4,229.5 L65.6,229.7 L65.9,229.4 L66.1,229.6 L66.4,230.0 L66.7,231.7 L66.9,231.8 L67.2,233.0 L67.5,232.2 L67.7,230.9 L68.0,231.8 L68.2,230.4 L68.5,229.5 L68.8,228.5 L69.0,228.7 L69.3,229.1 L69.5,230.4 L69.8,231.2 L70.1,232.6 L70.3,232.5 L70.6,232.8 L70.8,232.3 L71.1,232.5 L71.4,233.6 L71.6,232.3 L71.9,231.4 L72.1,231.5 L72.4,230.8 L72.7,229.6 L72.9,229.4 L73.2,230.6 L73.5,230.3 L73.7,232.5 L74.0,232.0 L74.2,231.7 L74.5,232.5 L74.8,232.8 L75.0,233.0 L75.3,231.9 L75.5,232.9 L75.8,232.2 L76.1,232.3 L76.3,231.8 L76.6,232.9 L76.8,232.0 L77.1,231.8 L77.4,230.9 L77.6,230.1 L77.9,231.3 L78.1,229.9 L78.4,231.1 L78.7,230.1 L78.9,231.0 L79.2,232.3 L79.5,233.4 L79.7,232.6 L80.0,232.4 L80.2,234.2 L80.5,233.2 L80.8,233.2 L81.0,233.6 L81.3,233.8 L81.5,234.2 L81.8,233.4 L82.1,233.4 L82.3,234.7 L82.6,233.4 L82.8,233.4 L83.1,233.3 L83.4,234.2 L83.6,233.2 L83.9,233.4 L84.1,233.8 L84.4,233.3 L84.7,234.4 L84.9,233.6 L85.2,233.5 L85.4,234.1 L85.7,233.7 L86.0,234.2 L86.2,233.6 L86.5,233.7 L86.8,233.7 L87.0,233.3 L87.3,233.0 L87.5,232.5 L87.8,232.1 L88.1,230.9 L88.3,230.1 L88.6,229.2 L88.8,229.0 L89.1,228.9 L89.4,229.3 L89.6,229.5 L89.9,230.1 L90.1,231.2 L90.4,231.2 L90.7,233.4 L90.9,233.0 L91.2,232.0 L91.4,233.6 L91.7,231.9 L92.0,232.8 L92.2,232.4 L92.5,232.8 L92.8,233.2 L93.0,232.8 L93.3,231.7 L93.5,233.2 L93.8,232.3 L94.1,231.8 L94.3,232.4 L94.6,230.9 L94.8,231.5 L95.1,229.7 L95.4,229.8 L95.6,229.2 L95.9,231.7 L96.1,229.9 L96.4,231.1 L96.7,230.9 L96.9,231.2 L97.2,230.8 L97.4,230.9 L97.7,232.8 L98.0,232.8 L98.2,231.6 L98.5,230.6 L98.7,230.4 L99.0,227.3 L99.3,226.2 L99.5,221.4 L99.8,216.0 L100.1,211.7 L100.3,209.1 L100.6,209.9 L100.8,215.0 L101.1,221.4 L101.4,225.6 L101.6,228.5 L101.9,230.3 L102.1,231.5 L102.4,233.1 L102.7,232.5 L102.9,232.4 L103.2,233.2 L103.4,233.3 L103.7,231.7 L104.0,233.1 L104.2,232.6 L104.5,233.9 L104.7,232.6 L105.0,232.4 L105.3,232.5 L105.5,233.6 L105.8,233.5 L106.1,231.8 L106.3,232.8 L106.6,231.8 L106.8,232.6 L107.1,232.5 L107.4,232.3 L107.6,231.8 L107.9,231.7 L108.1,232.6 L108.4,230.2 L108.7,231.5 L108.9,231.1 L109.2,231.1 L109.4,231.1 L109.7,231.9 L110.0,230.7 L110.2,232.1 L110.5,232.5 L110.7,232.6 L111.0,231.8 L111.3,231.8 L111.5,232.7 L111.8,232.7 L112.1,233.2 L112.3,233.3 L112.6,233.7 L112.8,232.5 L113.1,232.9 L113.4,232.7 L113.6,233.9 L113.9,232.9 L114.1,231.6 L114.4,233.6 L114.7,234.3 L114.9,232.2 L115.2,233.3 L115.4,231.9 L115.7,233.2 L116.0,231.7 L116.2,231.6 L116.5,230.1 L116.7,228.1 L117.0,225.0 L117.3,221.7 L117.5,217.5 L117.8,214.0 L118.0,215.8 L118.3,216.6 L118.6,220.7 L118.8,224.1 L119.1,226.9 L119.4,229.6 L119.6,231.7 L119.9,231.4 L120.1,232.5 L120.4,232.4 L120.7,231.6 L120.9,233.2 L121.2,231.1 L121.4,232.2 L121.7,230.7 L122.0,230.9 L122.2,230.9 L122.5,231.0 L122.7,231.0 L123.0,230.9 L123.3,232.4 L123.5,232.1 L123.8,233.6 L124.0,234.2 L124.3,233.2 L124.6,232.9 L124.8,233.8 L125.1,233.3 L125.4,233.7 L125.6,234.7 L125.9,233.3 L126.1,234.6 L126.4,233.2 L126.7,233.4 L126.9,232.3 L127.2,232.6 L127.4,232.0 L127.7,231.9 L128.0,230.4 L128.2,228.6 L128.5,225.4 L128.7,220.0 L129.0,210.1 L129.3,202.6 L129.5,195.8 L129.8,192.9 L130.0,195.6 L130.3,203.4 L130.6,211.4 L130.8,219.2 L131.1,224.6 L131.3,228.8 L131.6,230.3 L131.9,231.9 L132.1,231.6 L132.4,231.5 L132.7,231.9 L132.9,232.5 L133.2,232.4 L133.4,232.8 L133.7,232.3 L134.0,232.2 L134.2,232.9 L134.5,232.8 L134.7,233.7 L135.0,232.3 L135.3,232.0 L135.5,231.6 L135.8,232.2 L136.0,230.4 L136.3,229.2 L136.6,230.0 L136.8,230.5 L137.1,229.8 L137.3,230.8 L137.6,233.1 L137.9,232.4 L138.1,232.3 L138.4,231.9 L138.7,232.1 L138.9,232.4 L139.2,234.0 L139.4,233.0 L139.7,233.6 L140.0,233.2 L140.2,232.2 L140.5,234.0 L140.7,232.5 L141.0,233.0 L141.3,233.3 L141.5,232.7 L141.8,232.9 L142.0,232.3 L142.3,233.5 L142.6,233.0 L142.8,234.8 L143.1,233.0 L143.3,233.8 L143.6,233.5 L143.9,235.6 L144.1,233.6 L144.4,234.5 L144.7,233.8 L144.9,234.7 L145.2,234.4 L145.4,234.0 L145.7,234.1 L146.0,234.9 L146.2,233.2 L146.5,234.6 L146.7,234.3 L147.0,234.0 L147.3,234.1 L147.5,233.2 L147.8,233.7 L148.0,233.5 L148.3,234.2 L148.6,234.1 L148.8,233.6 L149.1,233.0 L149.3,234.2 L149.6,233.9 L149.9,233.2 L150.1,232.7 L150.4,233.1 L150.6,233.2 L150.9,233.0 L151.2,231.9 L151.4,233.8 L151.7,231.6 L152.0,233.0 L152.2,233.3 L152.5,232.9 L152.7,233.6 L153.0,233.1 L153.3,233.2 L153.5,233.1 L153.8,233.4 L154.0,232.9 L154.3,232.8 L154.6,232.9 L154.8,234.0 L155.1,234.3 L155.3,233.4 L155.6,233.8 L155.9,234.8 L156.1,234.4 L156.4,233.2 L156.6,235.0 L156.9,233.6 L157.2,235.0 L157.4,233.2 L157.7,234.5 L158.0,233.8 L158.2,234.3 L158.5,233.9 L158.7,233.3 L159.0,233.4 L159.3,233.6 L159.5,234.1 L159.8,233.0 L160.0,233.8 L160.3,233.0 L160.6,233.4 L160.8,233.2 L161.1,233.2 L161.3,233.2 L161.6,234.9 L161.9,233.6 L162.1,233.4 L162.4,234.8 L162.6,234.3 L162.9,234.6 L163.2,234.9 L163.4,233.6 L163.7,233.6 L163.9,234.4 L164.2,233.5 L164.5,232.9 L164.7,233.3 L165.0,232.3 L165.3,232.5 L165.5,233.9 L165.8,233.6 L166.0,232.9 L166.3,233.4 L166.6,233.1 L166.8,233.4 L167.1,231.8 L167.3,233.1 L167.6,233.6 L167.9,232.3 L168.1,233.4 L168.4,233.5 L168.6,232.6 L168.9,232.6 L169.2,232.7 L169.4,232.3 L169.7,234.9 L169.9,233.3 L170.2,232.7 L170.5,232.8 L170.7,232.3 L171.0,232.8 L171.3,233.0 L171.5,231.7 L171.8,232.3 L172.0,231.9 L172.3,232.7 L172.6,232.3 L172.8,232.4 L173.1,232.3 L173.3,232.4 L173.6,232.9 L173.9,231.9 L174.1,231.6 L174.4,234.5 L174.6,232.6 L174.9,234.1 L175.2,233.1 L175.4,232.8 L175.7,232.2 L175.9,234.2 L176.2,233.4 L176.5,233.9 L176.7,233.8 L177.0,234.2 L177.3,233.9 L177.5,233.6 L177.8,233.7 L178.0,234.6 L178.3,233.8 L178.6,234.8 L178.8,235.3 L179.1,233.9 L179.3,233.9 L179.6,234.6 L179.9,234.8 L180.1,233.8 L180.4,233.1 L180.6,233.3 L180.9,232.9 L181.2,233.8 L181.4,233.0 L181.7,233.5 L181.9,233.6 L182.2,233.4 L182.5,234.4 L182.7,234.2 L183.0,234.3 L183.2,233.9 L183.5,233.6 L183.8,234.3 L184.0,234.1 L184.3,235.0 L184.6,234.2 L184.8,233.7 L185.1,232.8 L185.3,234.7 L185.6,234.8 L185.9,234.3 L186.1,235.4 L186.4,233.5 L186.6,234.1 L186.9,234.3 L187.2,234.2 L187.4,235.1 L187.7,233.7 L187.9,234.9 L188.2,234.3 L188.5,235.0 L188.7,233.4 L189.0,233.1 L189.2,234.8 L189.5,233.6 L189.8,233.4 L190.0,233.9 L190.3,234.3 L190.6,233.5 L190.8,235.3 L191.1,234.0 L191.3,234.6 L191.6,233.9 L191.9,232.9 L192.1,234.3 L192.4,234.4 L192.6,234.1 L192.9,234.4 L193.2,233.5 L193.4,234.0 L193.7,233.7 L193.9,234.3 L194.2,234.5 L194.5,234.6 L194.7,234.9 L195.0,234.7 L195.2,235.8 L195.5,235.3 L195.8,234.4 L196.0,234.6 L196.3,233.8 L196.5,234.8 L196.8,233.3 L197.1,234.2 L197.3,233.9 L197.6,234.1 L197.9,234.4 L198.1,233.3 L198.4,233.8 L198.6,234.5 L198.9,234.0 L199.2,233.1 L199.4,234.4 L199.7,234.5 L199.9,234.3 L200.2,234.0 L200.5,232.8 L200.7,232.6 L201.0,234.0 L201.2,232.6 L201.5,232.3 L201.8,231.1 L202.0,230.8 L202.3,230.5 L202.5,230.0 L202.8,227.0 L203.1,227.9 L203.3,228.3 L203.6,227.5 L203.9,229.4 L204.1,230.8 L204.4,230.4 L204.6,231.7 L204.9,231.1 L205.2,233.6 L205.4,232.9 L205.7,233.9 L205.9,233.5 L206.2,234.0 L206.5,232.9 L206.7,234.1 L207.0,234.2 L207.2,235.4 L207.5,234.1 L207.8,234.6 L208.0,234.0 L208.3,233.7 L208.5,233.4 L208.8,234.6 L209.1,233.5 L209.3,235.4 L209.6,233.9 L209.9,234.2 L210.1,234.8 L210.4,234.7 L210.6,234.2 L210.9,235.8 L211.2,232.9 L211.4,233.9 L211.7,234.1 L211.9,233.4 L212.2,233.1 L212.5,233.6 L212.7,233.6 L213.0,233.6 L213.2,233.8 L213.5,234.1 L213.8,233.2 L214.0,234.2 L214.3,233.2 L214.5,234.3 L214.8,234.4 L215.1,234.1 L215.3,234.2 L215.6,233.4 L215.8,234.1 L216.1,235.1 L216.4,233.8 L216.6,234.1 L216.9,235.4 L217.2,234.4 L217.4,234.3 L217.7,234.2 L217.9,234.4 L218.2,235.2 L218.5,233.9 L218.7,234.7 L219.0,235.2 L219.2,234.5 L219.5,234.9 L219.8,233.6 L220.0,234.8 L220.3,233.9 L220.5,234.5 L220.8,234.7 L221.1,234.7 L221.3,234.1 L221.6,234.6 L221.8,234.1 L222.1,233.3 L222.4,235.1 L222.6,234.2 L222.9,234.3 L223.2,235.2 L223.4,234.2 L223.7,234.1 L223.9,234.4 L224.2,234.4 L224.5,234.6 L224.7,234.9 L225.0,235.3 L225.2,234.2 L225.5,233.4 L225.8,234.2 L226.0,234.3 L226.3,233.7 L226.5,234.3 L226.8,234.9 L227.1,233.7 L227.3,234.2 L227.6,233.9 L227.8,234.0 L228.1,234.8 L228.4,234.9 L228.6,233.9 L228.9,235.1 L229.1,235.7 L229.4,233.1 L229.7,234.4 L229.9,234.2 L230.2,234.6 L230.5,235.0 L230.7,233.8 L231.0,233.9 L231.2,234.1 L231.5,233.7 L231.8,234.1 L232.0,234.4 L232.3,234.2 L232.5,234.0 L232.8,233.4 L233.1,234.2 L233.3,234.1 L233.6,234.3 L233.8,233.9 L234.1,234.1 L234.4,234.0 L234.6,234.6 L234.9,234.4 L235.1,234.9 L235.4,234.0 L235.7,233.9 L235.9,234.3 L236.2,234.6 L236.5,234.7 L236.7,233.7 L237.0,233.8 L237.2,234.8 L237.5,234.8 L237.8,234.9 L238.0,234.2 L238.3,234.0 L238.5,233.1 L238.8,234.6 L239.1,233.7 L239.3,233.2 L239.6,234.9 L239.8,234.1 L240.1,234.4 L240.4,234.6 L240.6,234.2 L240.9,234.3 L241.1,234.5 L241.4,234.1 L241.7,234.1 L241.9,234.6 L242.2,233.4 L242.5,234.6 L242.7,234.4 L243.0,233.9 L243.2,235.6 L243.5,235.1 L243.8,234.7 L244.0,234.3 L244.3,235.3 L244.5,234.6 L244.8,235.0 L245.1,234.9 L245.3,234.4 L245.6,235.0 L245.8,234.0 L246.1,234.7 L246.4,233.7 L246.6,234.7 L246.9,235.1 L247.1,234.7 L247.4,233.8 L247.7,235.2 L247.9,234.1 L248.2,233.2 L248.4,234.1 L248.7,233.7 L249.0,233.6 L249.2,234.5 L249.5,234.0 L249.8,232.9 L250.0,233.6 L250.3,233.0 L250.5,232.7 L250.8,233.7 L251.1,234.0 L251.3,233.2 L251.6,234.4 L251.8,234.0 L252.1,233.5 L252.4,234.1 L252.6,233.5 L252.9,233.8 L253.1,233.4 L253.4,234.1 L253.7,234.4 L253.9,233.1 L254.2,234.8 L254.4,233.5 L254.7,235.4 L255.0,234.5 L255.2,233.2 L255.5,234.8 L255.8,234.3 L256.0,234.0 L256.3,234.8 L256.5,234.4 L256.8,234.6 L257.1,234.1 L257.3,234.2 L257.6,234.3 L257.8,234.0 L258.1,233.8 L258.4,233.5 L258.6,234.2 L258.9,233.8 L259.1,233.8 L259.4,234.7 L259.7,233.4 L259.9,233.3 L260.2,233.1 L260.4,231.8 L260.7,229.8 L261.0,229.2 L261.2,227.3 L261.5,226.1 L261.7,224.6 L262.0,224.3 L262.3,223.6 L262.5,225.4 L262.8,225.5 L263.1,227.0 L263.3,228.2 L263.6,229.0 L263.8,230.6 L264.1,232.5 L264.4,232.5 L264.6,232.6 L264.9,232.6 L265.1,232.2 L265.4,233.0 L265.7,233.6 L265.9,234.1 L266.2,234.0 L266.4,234.5 L266.7,234.1 L267.0,234.6 L267.2,234.1 L267.5,234.3 L267.7,234.0 L268.0,233.9 L268.3,235.0 L268.5,233.3 L268.8,233.4 L269.1,234.8 L269.3,233.5 L269.6,233.3 L269.8,234.3 L270.1,235.0 L270.4,233.9 L270.6,234.5 L270.9,234.3 L271.1,233.4 L271.4,234.0 L271.7,234.2 L271.9,233.8 L272.2,234.2 L272.4,234.1 L272.7,233.7 L273.0,234.3 L273.2,233.9 L273.5,234.1 L273.7,233.3 L274.0,234.8 L274.3,232.8 L274.5,232.8 L274.8,232.3 L275.1,232.9 L275.3,231.8 L275.6,232.7 L275.8,232.6 L276.1,233.1 L276.4,232.0 L276.6,233.1 L276.9,233.8 L277.1,232.6 L277.4,233.2 L277.7,232.9 L277.9,233.0 L278.2,233.1 L278.4,233.7 L278.7,233.8 L279.0,235.2 L279.2,233.6 L279.5,234.2 L279.7,235.1 L280.0,235.7 L280.3,233.1 L280.5,234.9 L280.8,234.3 L281.0,234.6 L281.3,233.8 L281.6,234.1 L281.8,233.9 L282.1,233.4 L282.4,235.4 L282.6,233.2 L282.9,234.6 L283.1,234.4 L283.4,234.0 L283.7,233.8 L283.9,233.0 L284.2,235.0 L284.4,233.6 L284.7,233.9 L285.0,234.1 L285.2,234.6 L285.5,233.8 L285.7,234.1 L286.0,233.6 L286.3,234.8 L286.5,234.0 L286.8,234.1 L287.0,234.9 L287.3,234.9 L287.6,234.6 L287.8,233.9 L288.1,233.8 L288.4,234.0 L288.6,235.3 L288.9,233.1 L289.1,234.8 L289.4,234.5 L289.7,234.1 L289.9,234.7 L290.2,235.4 L290.4,234.0 L290.7,234.8 L291.0,234.9 L291.2,235.1 L291.5,234.6 L291.7,234.6 L292.0,235.5 L292.3,235.7 L292.5,235.2 L292.8,234.8 L293.0,235.4 L293.3,234.3 L293.6,234.6 L293.8,234.2 L294.1,235.4 L294.3,235.4 L294.6,234.8 L294.9,234.4 L295.1,235.5 L295.4,234.5 L295.7,234.7 L295.9,235.7 L296.2,234.9 L296.4,235.3 L296.7,235.1 L297.0,234.1 L297.2,236.3 L297.5,234.4 L297.7,234.2 L298.0,235.2 L298.3,235.0 L298.5,235.4 L298.8,234.7 L299.0,233.6 L299.3,234.4 L299.6,235.2 L299.8,233.9 L300.1,234.3 L300.3,234.7 L300.6,234.2 L300.9,233.9 L301.1,232.7 L301.4,231.7 L301.7,231.0 L301.9,229.7 L302.2,228.6 L302.4,228.4 L302.7,227.2 L303.0,226.8 L303.2,227.8 L303.5,227.9 L303.7,228.2 L304.0,228.9 L304.3,229.8 L304.5,232.5 L304.8,233.0 L305.0,233.1 L305.3,232.9 L305.6,232.7 L305.8,234.0 L306.1,232.4 L306.3,233.9 L306.6,233.5 L306.9,234.2 L307.1,235.1 L307.4,234.9 L307.7,234.2 L307.9,233.5 L308.2,235.0 L308.4,235.1 L308.7,234.0 L309.0,233.5 L309.2,234.7 L309.5,234.1 L309.7,234.2 L310.0,235.0 L310.3,234.2 L310.5,234.5 L310.8,234.8 L311.0,235.3 L311.3,234.7 L311.6,235.6 L311.8,234.7 L312.1,235.1 L312.3,236.1 L312.6,235.2 L312.9,235.3 L313.1,235.3 L313.4,235.3 L313.6,235.1 L313.9,233.5 L314.2,234.3 L314.4,233.9 L314.7,235.1 L315.0,234.6 L315.2,234.7 L315.5,234.5 L315.7,234.9 L316.0,234.1 L316.3,234.5 L316.5,234.9 L316.8,235.1 L317.0,234.8 L317.3,235.7 L317.6,236.3 L317.8,234.9 L318.1,234.6 L318.3,235.9 L318.6,234.7 L318.9,235.2 L319.1,235.0 L319.4,234.5 L319.6,235.4 L319.9,235.1 L320.2,235.8 L320.4,235.8 L320.7,235.7 L321.0,234.5 L321.2,235.4 L321.5,236.1 L321.7,236.3 L322.0,234.5 L322.3,234.2 L322.5,235.3 L322.8,234.4 L323.0,235.5 L323.3,235.4 L323.6,234.9 L323.8,233.7 L324.1,234.5 L324.3,232.8 L324.6,234.5 L324.9,233.3 L325.1,233.3 L325.4,232.9 L325.6,232.9 L325.9,233.1 L326.2,232.8 L326.4,233.3 L326.7,233.2 L326.9,234.4 L327.2,233.3 L327.5,233.0 L327.7,233.4 L328.0,234.1 L328.3,234.5 L328.5,234.5 L328.8,234.0 L329.0,235.6 L329.3,234.2 L329.6,234.1 L329.8,234.8 L330.1,234.5 L330.3,234.8 L330.6,234.8 L330.9,235.1 L331.1,235.0 L331.4,235.6 L331.6,234.3 L331.9,235.0 L332.2,234.7 L332.4,234.7 L332.7,234.7 L332.9,234.9 L333.2,234.7 L333.5,234.2 L333.7,234.6 L334.0,234.5 L334.3,234.6 L334.5,233.5 L334.8,232.9 L335.0,231.6 L335.3,231.2 L335.6,230.6 L335.8,229.3 L336.1,229.5 L336.3,229.8 L336.6,229.5 L336.9,228.9 L337.1,231.1 L337.4,232.9 L337.6,232.0 L337.9,233.4 L338.2,233.1 L338.4,234.1 L338.7,234.1 L338.9,233.8 L339.2,234.7 L339.5,235.2 L339.7,234.3 L340.0,233.8 L340.3,234.6 L340.5,233.1 L340.8,234.0 L341.0,234.1 L341.3,233.1 L341.6,233.3 L341.8,233.2 L342.1,232.9 L342.3,232.8 L342.6,232.3 L342.9,232.1 L343.1,231.7 L343.4,230.8 L343.6,232.7 L343.9,231.2 L344.2,232.8 L344.4,233.3 L344.7,233.5 L344.9,233.0 L345.2,233.4 L345.5,233.7 L345.7,235.4 L346.0,234.2 L346.2,233.4 L346.5,235.3 L346.8,235.2 L347.0,235.3 L347.3,234.4 L347.6,234.8 L347.8,236.4 L348.1,236.2 L348.3,234.1 L348.6,235.4 L348.9,235.7 L349.1,234.8 L349.4,234.7 L349.6,234.9 L349.9,236.1 L350.2,236.2 L350.4,234.1 L350.7,234.7 L350.9,234.7 L351.2,235.1 L351.5,234.7 L351.7,235.3 L352.0,235.8 L352.2,235.9 L352.5,235.4 L352.8,235.5 L353.0,235.2 L353.3,235.0 L353.6,235.3 L353.8,234.8 L354.1,234.4 L354.3,235.0 L354.6,234.8 L354.9,234.1 L355.1,235.2 L355.4,235.1 L355.6,236.0 L355.9,233.8 L356.2,234.7 L356.4,234.5 L356.7,234.5 L356.9,234.4 L357.2,234.9 L357.5,234.5 L357.7,235.4 L358.0,234.1 L358.2,233.4 L358.5,234.3 L358.8,233.9 L359.0,234.5 L359.3,234.8 L359.5,235.3 L359.8,233.9 L360.1,234.1 L360.3,235.2 L360.6,234.1 L360.9,235.5 L361.1,234.1 L361.4,235.3 L361.6,235.0 L361.9,234.5 L362.2,234.0 L362.4,234.6 L362.7,233.2 L362.9,234.0 L363.2,235.1 L363.5,234.2 L363.7,235.0 L364.0,235.2 L364.2,234.8 L364.5,234.3 L364.8,234.8 L365.0,234.2 L365.3,234.9 L365.5,234.5 L365.8,235.2 L366.1,233.3 L366.3,234.6 L366.6,235.9 L366.9,234.5 L367.1,235.1 L367.4,234.3 L367.6,235.7 L367.9,235.7 L368.2,235.0 L368.4,235.4 L368.7,235.2 L368.9,235.7 L369.2,235.5 L369.5,236.6 L369.7,234.9 L370.0,235.1 L370.2,234.8 L370.5,234.8 L370.8,235.1 L371.0,234.9 L371.3,235.8 L371.5,235.1 L371.8,234.4 L372.1,234.0 L372.3,235.4 L372.6,234.5 L372.9,235.0 L373.1,235.2 L373.4,235.5 L373.6,235.2 L373.9,235.0 L374.2,235.1 L374.4,236.4 L374.7,235.5 L374.9,236.0 L375.2,236.0 L375.5,235.9 L375.7,235.7 L376.0,235.8 L376.2,234.0 L376.5,235.4 L376.8,235.0 L377.0,234.7 L377.3,235.4 L377.5,235.3 L377.8,235.7 L378.1,234.2 L378.3,235.0 L378.6,236.3 L378.8,235.2 L379.1,235.2 L379.4,235.4 L379.6,234.5 L379.9,235.6 L380.2,235.3 L380.4,234.0 L380.7,235.8 L380.9,235.4 L381.2,234.7 L381.5,234.1 L381.7,234.9 L382.0,234.8 L382.2,235.3 L382.5,235.2 L382.8,234.8 L383.0,235.6 L383.3,234.3 L383.5,235.2 L383.8,234.5 L384.1,235.2 L384.3,235.3 L384.6,235.3 L384.8,235.5 L385.1,234.3 L385.4,235.0 L385.6,235.0 L385.9,236.0 L386.2,236.7 L386.4,235.7 L386.7,235.9 L386.9,235.7 L387.2,235.7 L387.5,236.1 L387.7,234.9 L388.0,235.4 L388.2,235.7 L388.5,235.3 L388.8,234.9 L389.0,235.0 L389.3,235.0 L389.5,235.5 L389.8,235.4 L390.1,234.6 L390.3,236.6 L390.6,236.0 L390.8,235.0 L391.1,235.4 L391.4,234.6 L391.6,235.5 L391.9,235.1 L392.1,234.7 L392.4,236.2 L392.7,235.9 L392.9,235.3 L393.2,236.0 L393.5,234.9 L393.7,233.7 L394.0,235.2 L394.2,234.9 L394.5,233.8 L394.8,234.8 L395.0,235.4 L395.3,234.0 L395.5,234.4 L395.8,234.3 L396.1,234.4 L396.3,235.3 L396.6,234.8 L396.8,235.3 L397.1,234.5 L397.4,234.4 L397.6,234.6 L397.9,235.7 L398.1,234.9 L398.4,234.4 L398.7,234.9 L398.9,233.8 L399.2,235.6 L399.5,233.7 L399.7,235.4 L400.0,235.1 L400.2,235.4 L400.5,233.5 L400.8,235.8 L401.0,235.9 L401.3,236.4 L401.5,235.4 L401.8,236.6 L402.1,235.1 L402.3,236.1 L402.6,235.7 L402.8,236.3 L403.1,235.8 L403.4,235.3 L403.6,235.7 L403.9,234.3 L404.1,235.4 L404.4,235.7 L404.7,235.2 L404.9,235.2 L405.2,235.3 L405.5,236.2 L405.7,235.6 L406.0,234.9 L406.2,233.6 L406.5,235.8 L406.8,235.5 L407.0,235.4 L407.3,236.6 L407.5,235.3 L407.8,236.2 L408.1,235.4 L408.3,236.2 L408.6,235.5 L408.8,234.6 L409.1,235.4 L409.4,235.4 L409.6,235.6 L409.9,235.2 L410.1,235.5 L410.4,235.8 L410.7,234.8 L410.9,234.6 L411.2,235.0 L411.4,235.4 L411.7,235.3 L412.0,235.1 L412.2,234.6 L412.5,235.3 L412.8,235.9 L413.0,235.9 L413.3,234.4 L413.5,234.0 L413.8,235.8 L414.1,235.0 L414.3,235.0 L414.6,234.0" stroke="#0000ff"/>
<path d="M56.5,184.0 L56.8,184.4 L57.0,184.6 L57.3,184.2 L57.5,183.8 L57.8,184.0 L58.1,184.6 L58.3,184.5 L58.6,183.1 L58.8,183.6 L59.1,183.7 L59.4,183.2 L59.6,183.3 L59.9,182.8 L60.2,183.6 L60.4,183.8 L60.7,183.6 L60.9,184.0 L61.2,183.9 L61.5,184.6 L61.7,184.5 L62.0,183.9 L62.2,184.6 L62.5,184.5 L62.8,184.8 L63.0,184.4 L63.3,183.3 L63.5,183.5 L63.8,184.0 L64.1,184.2 L64.3,182.8 L64.6,183.7 L64.8,182.6 L65.1,183.9 L65.4,183.1 L65.6,183.6 L65.9,184.3 L66.1,183.0 L66.4,182.6 L66.7,183.2 L66.9,183.8 L67.2,182.8 L67.5,182.3 L67.7,182.4 L68.0,182.0 L68.2,182.0 L68.5,181.5 L68.8,182.0 L69.0,182.1 L69.3,183.1 L69.5,182.9 L69.8,183.8 L70.1,184.0 L70.3,184.3 L70.6,183.5 L70.8,184.3 L71.1,183.7 L71.4,183.7 L71.6,183.9 L71.9,184.4 L72.1,184.3 L72.4,184.5 L72.7,184.3 L72.9,184.1 L73.2,184.6 L73.5,183.8 L73.7,184.4 L74.0,184.5 L74.2,184.1 L74.5,185.1 L74.8,184.2 L75.0,185.2 L75.3,184.3 L75.5,184.5 L75.8,184.1 L76.1,184.9 L76.3,184.8 L76.6,183.7 L76.8,184.6 L77.1,184.2 L77.4,184.3 L77.6,183.9 L77.9,184.1 L78.1,183.9 L78.4,183.9 L78.7,183.0 L78.9,183.0 L79.2,183.0 L79.5,183.0 L79.7,182.4 L80.0,181.4 L80.2,181.1 L80.5,180.8 L80.8,180.1 L81.0,180.9 L81.3,181.3 L81.5,181.8 L81.8,183.0 L82.1,183.7 L82.3,183.7 L82.6,183.7 L82.8,184.3 L83.1,183.4 L83.4,183.4 L83.6,183.2 L83.9,183.9 L84.1,183.3 L84.4,183.7 L84.7,184.1 L84.9,183.7 L85.2,184.0 L85.4,184.4 L85.7,184.1 L86.0,184.0 L86.2,184.0 L86.5,184.1 L86.8,184.1 L87.0,183.8 L87.3,184.7 L87.5,183.5 L87.8,183.5 L88.1,183.6 L88.3,184.5 L88.6,184.0 L88.8,184.1 L89.1,184.0 L89.4,183.7 L89.6,184.5 L89.9,184.1 L90.1,183.1 L90.4,183.5 L90.7,184.5 L90.9,184.1 L91.2,183.2 L91.4,183.8 L91.7,182.8 L92.0,183.6 L92.2,183.4 L92.5,183.2 L92.8,183.6 L93.0,182.9 L93.3,182.1 L93.5,182.5 L93.8,181.2 L94.1,182.2 L94.3,180.1 L94.6,180.1 L94.8,179.5 L95.1,178.6 L95.4,177.9 L95.6,176.6 L95.9,176.9 L96.1,175.5 L96.4,174.5 L96.7,173.5 L96.9,174.2 L97.2,173.9 L97.4,175.4 L97.7,175.4 L98.0,175.1 L98.2,175.8 L98.5,177.1 L98.7,177.3 L99.0,177.6 L99.3,178.4 L99.5,177.4 L99.8,177.1 L100.1,175.6 L100.3,173.8 L100.6,171.1 L100.8,167.8 L101.1,165.4 L101.4,161.6 L101.6,158.8 L101.9,157.4 L102.1,156.3 L102.4,156.8 L102.7,159.0 L102.9,162.8 L103.2,165.4 L103.4,168.5 L103.7,172.0 L104.0,175.9 L104.2,177.7 L104.5,179.4 L104.7,180.3 L105.0,181.6 L105.3,182.3 L105.5,182.4 L105.8,182.8 L106.1,182.4 L106.3,182.2 L106.6,183.8 L106.8,183.6 L107.1,183.2 L107.4,183.8 L107.6,182.9 L107.9,183.7 L108.1,183.7 L108.4,183.5 L108.7,183.4 L108.9,184.2 L109.2,183.7 L109.4,182.8 L109.7,183.0 L110.0,183.9 L110.2,183.7 L110.5,182.7 L110.7,183.4 L111.0,183.5 L111.3,183.2 L111.5,182.8 L111.8,182.9 L112.1,184.1 L112.3,183.2 L112.6,183.2 L112.8,183.5 L113.1,183.4 L113.4,183.8 L113.6,183.3 L113.9,183.9 L114.1,184.0 L114.4,184.1 L114.7,184.1 L114.9,183.3 L115.2,184.0 L115.4,183.1 L115.7,183.8 L116.0,183.6 L116.2,183.7 L116.5,183.0 L116.7,182.1 L117.0,182.1 L117.3,181.6 L117.5,180.7 L117.8,179.5 L118.0,177.9 L118.3,175.5 L118.6,173.5 L118.8,171.4 L119.1,168.7 L119.4,166.5 L119.6,164.7 L119.9,164.3 L120.1,165.9 L120.4,167.5 L120.7,169.1 L120.9,170.7 L121.2,171.5 L121.4,172.2 L121.7,173.0 L122.0,172.6 L122.2,171.4 L122.5,170.7 L122.7,170.7 L123.0,169.2 L123.3,170.8 L123.5,172.2 L123.8,173.9 L124.0,176.0 L124.3,176.3 L124.6,179.4 L124.8,179.7 L125.1,180.9 L125.4,182.0 L125.6,182.6 L125.9,182.5 L126.1,182.6 L126.4,182.9 L126.7,183.5 L126.9,182.2 L127.2,183.1 L127.4,182.5 L127.7,181.5 L128.0,181.5 L128.2,182.3 L128.5,182.2 L128.7,181.1 L129.0,179.4 L129.3,178.5 L129.5,176.1 L129.8,175.3 L130.0,170.7 L130.3,166.2 L130.6,162.5 L130.8,157.3 L131.1,151.8 L131.3,147.1 L131.6,142.3 L131.9,141.1 L132.1,141.2 L132.4,144.4 L132.7,149.1 L132.9,154.7 L133.2,159.7 L133.4,165.1 L133.7,168.9 L134.0,173.2 L134.2,175.9 L134.5,178.3 L134.7,179.2 L135.0,180.2 L135.3,181.1 L135.5,181.8 L135.8,182.0 L136.0,182.6 L136.3,182.4 L136.6,182.9 L136.8,183.2 L137.1,182.4 L137.3,183.0 L137.6,184.1 L137.9,183.7 L138.1,183.0 L138.4,183.5 L138.7,184.1 L138.9,183.2 L139.2,184.2 L139.4,184.4 L139.7,184.0 L140.0,183.5 L140.2,184.0 L140.5,184.1 L140.7,183.6 L141.0,184.8 L141.3,183.7 L141.5,184.3 L141.8,184.6 L142.0,184.5 L142.3,183.7 L142.6,184.1 L142.8,184.5 L143.1,183.5 L143.3,185.6 L143.6,185.0 L143.9,184.6 L144.1,184.8 L144.4,185.3 L144.7,183.9 L144.9,185.0 L145.2,184.3 L145.4,185.5 L145.7,184.4 L146.0,184.7 L146.2,184.8 L146.5,184.7 L146.7,184.0 L147.0,184.6 L147.3,184.4 L147.5,184.2 L147.8,184.2 L148.0,184.2 L148.3,184.3 L148.6,183.7 L148.8,185.1 L149.1,184.2 L149.3,183.7 L149.6,184.4 L149.9,183.9 L150.1,182.8 L150.4,184.8 L150.6,184.4 L150.9,183.2 L151.2,183.6 L151.4,183.7 L151.7,184.4 L152.0,184.7 L152.2,183.3 L152.5,184.8 L152.7,184.5 L153.0,184.7 L153.3,183.9 L153.5,184.9 L153.8,183.9 L154.0,184.1 L154.3,184.8 L154.6,184.1 L154.8,183.9 L155.1,183.9 L155.3,184.6 L155.6,184.1 L155.9,183.9 L156.1,184.4 L156.4,183.7 L156.6,184.9 L156.9,184.2 L157.2,184.8 L157.4,184.4 L157.7,184.0 L158.0,184.8 L158.2,184.0 L158.5,184.5 L158.7,184.4 L159.0,185.2 L159.3,184.9 L159.5,184.7 L159.8,184.1 L160.0,185.2 L160.3,184.8 L160.6,184.8 L160.8,184.5 L161.1,184.6 L161.3,184.7 L161.6,183.5 L161.9,184.7 L162.1,184.6 L162.4,184.7 L162.6,184.2 L162.9,184.9 L163.2,184.5 L163.4,184.0 L163.7,183.6 L163.9,183.6 L164.2,184.0 L164.5,184.7 L164.7,183.5 L165.0,184.3 L165.3,184.5 L165.5,183.4 L165.8,183.1 L166.0,184.2 L166.3,184.1 L166.6,183.6 L166.8,183.5 L167.1,184.4 L167.3,183.1 L167.6,184.7 L167.9,184.1 L168.1,183.9 L168.4,184.3 L168.6,183.6 L168.9,185.0 L169.2,183.5 L169.4,184.1 L169.7,184.1 L169.9,184.4 L170.2,183.7 L170.5,184.5 L170.7,183.5 L171.0,184.0 L171.3,184.5 L171.5,183.6 L171.8,184.2 L172.0,184.0 L172.3,185.2 L172.6,184.1 L172.8,183.7 L173.1,184.1 L173.3,184.3 L173.6,183.1 L173.9,184.0 L174.1,183.5 L174.4,184.4 L174.6,183.1 L174.9,183.7 L175.2,183.6 L175.4,183.0 L175.7,183.6 L175.9,184.3 L176.2,183.1 L176.5,184.6 L176.7,184.0 L177.0,184.7 L177.3,184.2 L177.5,184.4 L177.8,185.2 L178.0,184.6 L178.3,184.2 L178.6,185.2 L178.8,184.3 L179.1,184.4 L179.3,184.7 L179.6,183.8 L179.9,184.1 L180.1,184.2 L180.4,184.2 L180.6,184.9 L180.9,184.8 L181.2,184.6 L181.4,185.7 L181.7,184.2 L181.9,184.5 L182.2,184.3 L182.5,185.2 L182.7,184.3 L183.0,184.7 L183.2,184.3 L183.5,185.1 L183.8,184.0 L184.0,183.4 L184.3,184.0 L184.6,183.4 L184.8,184.1 L185.1,183.0 L185.3,183.3 L185.6,183.9 L185.9,183.7 L186.1,184.3 L186.4,184.3 L186.6,184.4 L186.9,183.8 L187.2,184.3 L187.4,184.4 L187.7,183.9 L187.9,184.4 L188.2,183.9 L188.5,184.5 L188.7,184.6 L189.0,184.6 L189.2,185.1 L189.5,185.0 L189.8,185.2 L190.0,185.1 L190.3,184.4 L190.6,184.8 L190.8,183.8 L191.1,184.3 L191.3,183.6 L191.6,184.6 L191.9,184.8 L192.1,184.2 L192.4,184.1 L192.6,184.5 L192.9,185.1 L193.2,184.5 L193.4,184.1 L193.7,184.8 L193.9,184.4 L194.2,184.6 L194.5,184.9 L194.7,184.0 L195.0,185.0 L195.2,184.2 L195.5,184.9 L195.8,185.0 L196.0,184.1 L196.3,183.3 L196.5,183.6 L196.8,183.8 L197.1,184.6 L197.3,184.4 L197.6,185.1 L197.9,185.1 L198.1,184.4 L198.4,184.4 L198.6,184.3 L198.9,184.0 L199.2,184.3 L199.4,183.9 L199.7,184.7 L199.9,183.7 L200.2,183.4 L200.5,184.4 L200.7,184.3 L201.0,183.6 L201.2,183.4 L201.5,184.0 L201.8,183.6 L202.0,183.6 L202.3,183.0 L202.5,181.8 L202.8,181.2 L203.1,180.0 L203.3,180.2 L203.6,178.1 L203.9,176.0 L204.1,176.1 L204.4,173.6 L204.6,172.7 L204.9,172.4 L205.2,172.4 L205.4,172.2 L205.7,173.0 L205.9,174.0 L206.2,175.5 L206.5,176.2 L206.7,178.5 L207.0,178.8 L207.2,180.1 L207.5,181.7 L207.8,181.3 L208.0,183.1 L208.3,182.5 L208.5,183.1 L208.8,183.6 L209.1,182.8 L209.3,182.0 L209.6,183.8 L209.9,183.4 L210.1,184.5 L210.4,183.8 L210.6,184.1 L210.9,184.4 L211.2,185.2 L211.4,184.3 L211.7,185.4 L211.9,185.3 L212.2,183.1 L212.5,184.0 L212.7,185.1 L213.0,184.8 L213.2,185.1 L213.5,184.7 L213.8,184.6 L214.0,184.3 L214.3,184.8 L214.5,185.2 L214.8,184.7 L215.1,185.6 L215.3,184.7 L215.6,184.7 L215.8,184.7 L216.1,185.0 L216.4,184.9 L216.6,184.8 L216.9,184.5 L217.2,184.7 L217.4,185.0 L217.7,185.9 L217.9,185.0 L218.2,185.6 L218.5,185.6 L218.7,184.9 L219.0,185.2 L219.2,184.9 L219.5,185.1 L219.8,184.5 L220.0,186.3 L220.3,184.4 L220.5,185.1 L220.8,185.4 L221.1,185.6 L221.3,184.8 L221.6,184.5 L221.8,185.0 L222.1,184.5 L222.4,183.8 L222.6,185.3 L222.9,185.0 L223.2,184.8 L223.4,184.3 L223.7,185.4 L223.9,184.3 L224.2,184.0 L224.5,183.8 L224.7,184.0 L225.0,185.0 L225.2,183.9 L225.5,184.0 L225.8,184.3 L226.0,184.1 L226.3,184.7 L226.5,184.0 L226.8,183.7 L227.1,184.6 L227.3,183.1 L227.6,183.7 L227.8,182.9 L228.1,184.1 L228.4,184.2 L228.6,183.9 L228.9,183.8 L229.1,183.0 L229.4,184.6 L229.7,184.5 L229.9,183.6 L230.2,184.1 L230.5,184.4 L230.7,184.9 L231.0,183.7 L231.2,184.8 L231.5,182.9 L231.8,184.9 L232.0,185.6 L232.3,184.8 L232.5,184.3 L232.8,184.1 L233.1,184.9 L233.3,185.4 L233.6,185.3 L233.8,184.3 L234.1,185.4 L234.4,184.7 L234.6,184.7 L234.9,184.8 L235.1,184.9 L235.4,184.8 L235.7,183.9 L235.9,185.4 L236.2,185.1 L236.5,184.5 L236.7,183.7 L237.0,185.5 L237.2,183.8 L237.5,184.4 L237.8,184.8 L238.0,184.4 L238.3,184.9 L238.5,184.7 L238.8,184.7 L239.1,184.6 L239.3,184.1 L239.6,183.3 L239.8,184.8 L240.1,183.7 L240.4,184.9 L240.6,184.7 L240.9,185.2 L241.1,183.5 L241.4,185.3 L241.7,184.6 L241.9,184.8 L242.2,184.6 L242.5,184.8 L242.7,184.4 L243.0,184.1 L243.2,184.5 L243.5,184.5 L243.8,184.5 L244.0,184.8 L244.3,184.3 L244.5,184.5 L244.8,184.4 L245.1,185.0 L245.3,184.5 L245.6,184.7 L245.8,184.7 L246.1,184.9 L246.4,184.7 L246.6,184.6 L246.9,184.7 L247.1,184.3 L247.4,185.0 L247.7,184.8 L247.9,184.6 L248.2,184.4 L248.4,184.0 L248.7,184.2 L249.0,183.7 L249.2,184.8 L249.5,184.1 L249.8,183.7 L250.0,184.5 L250.3,184.5 L250.5,185.0 L250.8,185.6 L251.1,183.9 L251.3,183.4 L251.6,185.1 L251.8,183.7 L252.1,183.5 L252.4,184.2 L252.6,183.7 L252.9,183.6 L253.1,183.0 L253.4,183.5 L253.7,184.6 L253.9,184.3 L254.2,184.7 L254.4,183.8 L254.7,184.0 L255.0,184.8 L255.2,183.9 L255.5,184.2 L255.8,184.5 L256.0,183.6 L256.3,183.6 L256.5,183.8 L256.8,183.9 L257.1,184.8 L257.3,184.8 L257.6,184.3 L257.8,183.6 L258.1,183.8 L258.4,184.2 L258.6,184.1 L258.9,184.5 L259.1,184.2 L259.4,184.2 L259.7,184.2 L259.9,183.9 L260.2,184.1 L260.4,184.2 L260.7,183.3 L261.0,183.5 L261.2,182.2 L261.5,181.7 L261.7,182.7 L262.0,180.8 L262.3,179.8 L262.5,178.3 L262.8,177.6 L263.1,176.2 L263.3,174.6 L263.6,173.0 L263.8,172.6 L264.1,171.2 L264.4,169.6 L264.6,170.9 L264.9,170.9 L265.1,171.9 L265.4,172.8 L265.7,174.8 L265.9,176.6 L266.2,177.5 L266.4,179.1 L266.7,179.9 L267.0,180.9 L267.2,182.6 L267.5,182.8 L267.7,182.0 L268.0,183.0 L268.3,183.0 L268.5,183.1 L268.8,183.7 L269.1,183.1 L269.3,184.4 L269.6,183.9 L269.8,183.5 L270.1,185.5 L270.4,183.9 L270.6,184.3 L270.9,184.4 L271.1,183.1 L271.4,184.1 L271.7,184.1 L271.9,184.3 L272.2,184.4 L272.4,183.4 L272.7,183.9 L273.0,184.1 L273.2,184.3 L273.5,183.6 L273.7,183.7 L274.0,184.5 L274.3,183.9 L274.5,183.3 L274.8,183.6 L275.1,185.0 L275.3,184.8 L275.6,184.8 L275.8,185.5 L276.1,184.8 L276.4,185.4 L276.6,184.9 L276.9,185.2 L277.1,184.3 L277.4,184.7 L277.7,184.8 L277.9,184.6 L278.2,185.0 L278.4,184.3 L278.7,184.2 L279.0,184.4 L279.2,183.6 L279.5,184.2 L279.7,183.4 L280.0,183.9 L280.3,184.6 L280.5,184.5 L280.8,184.4 L281.0,184.6 L281.3,184.9 L281.6,184.5 L281.8,184.3 L282.1,184.9 L282.4,183.8 L282.6,184.7 L282.9,184.3 L283.1,185.0 L283.4,183.5 L283.7,184.5 L283.9,184.8 L284.2,184.6 L284.4,183.7 L284.7,184.6 L285.0,183.5 L285.2,184.8 L285.5,184.2 L285.7,184.6 L286.0,184.3 L286.3,184.0 L286.5,184.2 L286.8,184.3 L287.0,183.5 L287.3,183.5 L287.6,183.9 L287.8,183.5 L288.1,183.6 L288.4,184.3 L288.6,183.1 L288.9,183.9 L289.1,183.1 L289.4,184.3 L289.7,184.7 L289.9,183.5 L290.2,184.4 L290.4,184.6 L290.7,183.6 L291.0,184.2 L291.2,184.1 L291.5,184.2 L291.7,184.8 L292.0,184.8 L292.3,184.4 L292.5,184.6 L292.8,184.2 L293.0,184.3 L293.3,183.6 L293.6,184.8 L293.8,185.4 L294.1,184.4 L294.3,184.7 L294.6,183.7 L294.9,184.3 L295.1,184.8 L295.4,185.4 L295.7,184.4 L295.9,184.2 L296.2,185.1 L296.4,184.2 L296.7,184.0 L297.0,183.5 L297.2,184.8 L297.5,182.9 L297.7,184.2 L298.0,183.8 L298.3,183.9 L298.5,184.1 L298.8,183.5 L299.0,183.1 L299.3,183.5 L299.6,183.8 L299.8,183.7 L300.1,183.4 L300.3,183.5 L300.6,183.1 L300.9,184.5 L301.1,184.2 L301.4,182.8 L301.7,183.1 L301.9,182.4 L302.2,182.2 L302.4,180.6 L302.7,180.2 L303.0,179.8 L303.2,178.4 L303.5,177.8 L303.7,177.0 L304.0,175.2 L304.3,174.4 L304.5,174.3 L304.8,174.0 L305.0,173.7 L305.3,173.9 L305.6,174.6 L305.8,175.6 L306.1,176.8 L306.3,178.5 L306.6,178.4 L306.9,180.7 L307.1,181.0 L307.4,181.4 L307.7,183.3 L307.9,183.2 L308.2,182.9 L308.4,183.5 L308.7,184.0 L309.0,184.0 L309.2,184.1 L309.5,184.7 L309.7,184.7 L310.0,184.5 L310.3,185.6 L310.5,184.7 L310.8,185.2 L311.0,184.3 L311.3,185.3 L311.6,184.5 L311.8,185.2 L312.1,184.5 L312.3,185.0 L312.6,185.3 L312.9,184.5 L313.1,185.1 L313.4,184.4 L313.6,184.5 L313.9,184.2 L314.2,185.4 L314.4,185.2 L314.7,184.7 L315.0,184.6 L315.2,184.8 L315.5,185.4 L315.7,185.1 L316.0,184.5 L316.3,184.8 L316.5,185.1 L316.8,184.9 L317.0,184.1 L317.3,184.4 L317.6,184.0 L317.8,184.3 L318.1,185.0 L318.3,185.2 L318.6,184.4 L318.9,185.0 L319.1,184.1 L319.4,184.1 L319.6,184.1 L319.9,184.4 L320.2,184.8 L320.4,183.7 L320.7,185.2 L321.0,184.9 L321.2,184.3 L321.5,184.6 L321.7,185.0 L322.0,184.8 L322.3,184.6 L322.5,184.4 L322.8,184.5 L323.0,185.5 L323.3,184.5 L323.6,185.0 L323.8,185.2 L324.1,185.2 L324.3,184.4 L324.6,185.7 L324.9,185.3 L325.1,184.7 L325.4,184.6 L325.6,184.3 L325.9,183.7 L326.2,183.8 L326.4,184.3 L326.7,184.1 L326.9,183.7 L327.2,183.1 L327.5,183.2 L327.7,183.6 L328.0,183.7 L328.3,183.4 L328.5,183.1 L328.8,183.9 L329.0,182.8 L329.3,183.2 L329.6,183.6 L329.8,183.5 L330.1,184.3 L330.3,184.8 L330.6,184.6 L330.9,183.8 L331.1,185.3 L331.4,185.2 L331.6,185.2 L331.9,184.9 L332.2,183.8 L332.4,184.3 L332.7,184.2 L332.9,184.1 L333.2,184.3 L333.5,183.0 L333.7,183.6 L334.0,183.7 L334.3,183.4 L334.5,184.3 L334.8,183.7 L335.0,183.3 L335.3,182.5 L335.6,182.4 L335.8,182.0 L336.1,181.5 L336.3,180.4 L336.6,179.4 L336.9,178.3 L337.1,177.6 L337.4,177.6 L337.6,174.9 L337.9,175.7 L338.2,174.5 L338.4,175.1 L338.7,175.4 L338.9,177.1 L339.2,177.5 L339.5,178.2 L339.7,179.9 L340.0,180.6 L340.3,181.9 L340.5,181.4 L340.8,182.7 L341.0,182.7 L341.3,184.0 L341.6,182.8 L341.8,183.5 L342.1,184.6 L342.3,184.0 L342.6,184.6 L342.9,184.0 L343.1,183.2 L343.4,182.6 L343.6,183.2 L343.9,182.6 L344.2,181.5 L344.4,180.3 L344.7,180.5 L344.9,179.4 L345.2,179.4 L345.5,179.8 L345.7,179.4 L346.0,179.0 L346.2,179.7 L346.5,181.4 L346.8,180.8 L347.0,181.8 L347.3,182.6 L347.6,182.7 L347.8,182.2 L348.1,183.5 L348.3,183.5 L348.6,184.2 L348.9,184.6 L349.1,184.6 L349.4,184.4 L349.6,185.1 L349.9,185.1 L350.2,184.7 L350.4,184.5 L350.7,184.4 L350.9,184.9 L351.2,183.7 L351.5,185.4 L351.7,183.9 L352.0,184.0 L352.2,185.0 L352.5,184.9 L352.8,184.3 L353.0,185.2 L353.3,184.9 L353.6,184.7 L353.8,185.8 L354.1,185.2 L354.3,185.7 L354.6,185.1 L354.9,184.9 L355.1,185.6 L355.4,185.5 L355.6,184.6 L355.9,185.9 L356.2,185.5 L356.4,184.6 L356.7,185.1 L356.9,185.7 L357.2,185.1 L357.5,184.8 L357.7,186.0 L358.0,186.0 L358.2,185.3 L358.5,184.9 L358.8,184.6 L359.0,185.5 L359.3,184.7 L359.5,184.6 L359.8,185.2 L360.1,184.5 L360.3,184.7 L360.6,184.3 L360.9,184.9 L361.1,185.8 L361.4,184.5 L361.6,184.8 L361.9,185.1 L362.2,185.1 L362.4,184.6 L362.7,185.0 L362.9,184.4 L363.2,185.6 L363.5,185.8 L363.7,185.1 L364.0,184.7 L364.2,184.9 L364.5,184.7 L364.8,184.6 L365.0,185.7 L365.3,185.3 L365.5,185.1 L365.8,184.9 L366.1,184.7 L366.3,184.8 L366.6,185.5 L366.9,186.1 L367.1,185.1 L367.4,185.0 L367.6,185.3 L367.9,184.7 L368.2,186.4 L368.4,185.5 L368.7,185.8 L368.9,185.2 L369.2,185.2 L369.5,187.0 L369.7,185.4 L370.0,185.9 L370.2,185.6 L370.5,186.0 L370.8,185.5 L371.0,186.7 L371.3,184.7 L371.5,185.2 L371.8,185.9 L372.1,185.9 L372.3,185.3 L372.6,185.4 L372.9,184.0 L373.1,185.1 L373.4,184.8 L373.6,185.6 L373.9,185.4 L374.2,185.0 L374.4,185.9 L374.7,185.5 L374.9,184.3 L375.2,185.3 L375.5,184.8 L375.7,186.0 L376.0,185.8 L376.2,185.2 L376.5,184.8 L376.8,184.5 L377.0,184.7 L377.3,185.7 L377.5,185.0 L377.8,184.9 L378.1,184.7 L378.3,185.3 L378.6,184.5 L378.8,185.0 L379.1,184.9 L379.4,184.9 L379.6,185.1 L379.9,185.3 L380.2,185.2 L380.4,184.3 L380.7,185.1 L380.9,184.5 L381.2,184.3 L381.5,185.1 L381.7,185.9 L382.0,185.0 L382.2,184.9 L382.5,185.5 L382.8,185.0 L383.0,185.3 L383.3,184.6 L383.5,185.4 L383.8,183.6 L384.1,185.4 L384.3,184.9 L384.6,185.1 L384.8,184.5 L385.1,185.2 L385.4,184.4 L385.6,184.1 L385.9,184.4 L386.2,184.4 L386.4,184.8 L386.7,184.8 L386.9,184.1 L387.2,185.3 L387.5,184.1 L387.7,185.5 L388.0,184.9 L388.2,185.8 L388.5,184.3 L388.8,184.7 L389.0,184.8 L389.3,185.8 L389.5,185.6 L389.8,185.9 L390.1,185.2 L390.3,184.5 L390.6,185.4 L390.8,186.4 L391.1,184.9 L391.4,185.4 L391.6,185.7 L391.9,184.5 L392.1,184.5 L392.4,184.6 L392.7,186.1 L392.9,185.1 L393.2,185.4 L393.5,185.6 L393.7,185.3 L394.0,185.1 L394.2,185.0 L394.5,184.4 L394.8,185.2 L395.0,184.3 L395.3,184.3 L395.5,183.6 L395.8,184.1 L396.1,184.1 L396.3,184.3 L396.6,183.3 L396.8,183.0 L397.1,183.5 L397.4,183.8 L397.6,184.0 L397.9,184.0 L398.1,182.7 L398.4,184.1 L398.7,183.1 L398.9,184.6 L399.2,184.8 L399.5,183.9 L399.7,183.7 L400.0,184.5 L400.2,184.2 L400.5,184.9 L400.8,184.9 L401.0,185.0 L401.3,184.8 L401.5,184.2 L401.8,185.4 L402.1,185.2 L402.3,185.5 L402.6,185.2 L402.8,184.4 L403.1,185.0 L403.4,185.0 L403.6,185.6 L403.9,184.9 L404.1,184.5 L404.4,185.3 L404.7,185.7 L404.9,184.8 L405.2,185.6 L405.5,185.1 L405.7,185.2 L406.0,185.2 L406.2,184.5 L406.5,183.7 L406.8,185.0 L407.0,184.9 L407.3,184.8 L407.5,184.1 L407.8,184.6 L408.1,184.8 L408.3,184.4 L408.6,185.0 L408.8,185.3 L409.1,185.0 L409.4,185.1 L409.6,185.1 L409.9,186.0 L410.1,185.2 L410.4,186.2 L410.7,185.2 L410.9,185.5 L411.2,185.3 L411.4,184.6 L411.7,185.8 L412.0,185.6 L412.2,184.6 L412.5,185.6 L412.8,185.3 L413.0,185.3 L413.3,185.5 L413.5,184.7 L413.8,185.6 L414.1,185.4 L414.3,184.4 L414.6,184.8" stroke="#00ffff"/>
<path d="M56.5,129.9 L56.8,129.9 L57.0,130.4 L57.3,131.2 L57.5,130.6 L57.8,129.8 L58.1,130.0 L58.3,129.7 L58.6,129.8 L58.8,129.5 L59.1,130.5 L59.4,130.8 L59.6,131.1 L59.9,131.2 L60.2,130.0 L60.4,130.6 L60.7,130.6 L60.9,130.7 L61.2,130.9 L61.5,129.2 L61.7,129.2 L62.0,129.4 L62.2,128.1 L62.5,129.3 L62.8,128.7 L63.0,129.5 L63.3,128.9 L63.5,129.1 L63.8,128.2 L64.1,129.4 L64.3,129.9 L64.6,129.6 L64.8,129.2 L65.1,129.7 L65.4,131.1 L65.6,129.5 L65.9,129.7 L66.1,129.7 L66.4,130.4 L66.7,130.1 L66.9,129.6 L67.2,130.5 L67.5,130.0 L67.7,130.8 L68.0,130.3 L68.2,130.0 L68.5,128.9 L68.8,129.8 L69.0,130.4 L69.3,129.8 L69.5,129.4 L69.8,130.5 L70.1,131.1 L70.3,129.0 L70.6,129.1 L70.8,129.5 L71.1,129.0 L71.4,129.4 L71.6,130.0 L71.9,130.0 L72.1,130.0 L72.4,130.0 L72.7,129.9 L72.9,128.5 L73.2,128.6 L73.5,128.4 L73.7,128.8 L74.0,128.8 L74.2,129.2 L74.5,129.8 L74.8,129.8 L75.0,129.5 L75.3,129.5 L75.5,129.7 L75.8,129.1 L76.1,130.6 L76.3,131.6 L76.6,130.7 L76.8,130.6 L77.1,131.2 L77.4,130.0 L77.6,129.1 L77.9,129.8 L78.1,130.9 L78.4,130.9 L78.7,130.4 L78.9,130.9 L79.2,129.5 L79.5,130.9 L79.7,129.9 L80.0,129.3 L80.2,130.3 L80.5,129.6 L80.8,130.3 L81.0,130.0 L81.3,130.1 L81.5,130.0 L81.8,129.9 L82.1,130.0 L82.3,129.8 L82.6,130.1 L82.8,129.8 L83.1,129.7 L83.4,130.0 L83.6,130.3 L83.9,130.5 L84.1,130.3 L84.4,129.4 L84.7,129.3 L84.9,130.2 L85.2,129.3 L85.4,129.3 L85.7,130.1 L86.0,129.2 L86.2,128.9 L86.5,128.6 L86.8,129.9 L87.0,129.5 L87.3,130.2 L87.5,128.1 L87.8,129.1 L88.1,130.6 L88.3,129.8 L88.6,128.9 L88.8,129.6 L89.1,129.8 L89.4,129.3 L89.6,128.9 L89.9,130.3 L90.1,129.7 L90.4,129.3 L90.7,130.7 L90.9,130.0 L91.2,129.5 L91.4,130.2 L91.7,130.0 L92.0,129.5 L92.2,129.5 L92.5,129.9 L92.8,128.2 L93.0,128.8 L93.3,127.9 L93.5,128.3 L93.8,126.9 L94.1,125.2 L94.3,124.8 L94.6,122.6 L94.8,121.6 L95.1,121.0 L95.4,119.9 L95.6,120.5 L95.9,119.4 L96.1,119.9 L96.4,121.9 L96.7,121.5 L96.9,123.8 L97.2,124.8 L97.4,125.4 L97.7,126.5 L98.0,126.2 L98.2,125.8 L98.5,125.4 L98.7,124.1 L99.0,123.5 L99.3,120.2 L99.5,118.6 L99.8,114.6 L100.1,113.0 L100.3,109.1 L100.6,106.7 L100.8,107.9 L101.1,107.9 L101.4,109.6 L101.6,112.4 L101.9,115.5 L102.1,119.2 L102.4,120.8 L102.7,123.5 L102.9,125.6 L103.2,127.2 L103.4,127.1 L103.7,127.9 L104.0,128.6 L104.2,128.3 L104.5,127.8 L104.7,128.2 L105.0,128.1 L105.3,128.7 L105.5,128.8 L105.8,128.9 L106.1,126.9 L106.3,126.7 L106.6,126.5 L106.8,127.6 L107.1,127.8 L107.4,127.7 L107.6,128.0 L107.9,129.1 L108.1,128.9 L108.4,128.7 L108.7,128.6 L108.9,129.3 L109.2,130.0 L109.4,130.4 L109.7,130.2 L110.0,130.6 L110.2,131.2 L110.5,131.5 L110.7,130.4 L111.0,130.9 L111.3,130.3 L111.5,130.8 L111.8,129.2 L112.1,130.4 L112.3,130.6 L112.6,131.0 L112.8,130.8 L113.1,130.3 L113.4,129.9 L113.6,130.0 L113.9,129.7 L114.1,129.1 L114.4,129.8 L114.7,129.2 L114.9,129.6 L115.2,129.7 L115.4,128.3 L115.7,126.7 L116.0,126.9 L116.2,126.6 L116.5,124.2 L116.7,119.9 L117.0,119.9 L117.3,117.7 L117.5,115.7 L117.8,114.6 L118.0,114.9 L118.3,115.4 L118.6,116.4 L118.8,117.0 L119.1,118.8 L119.4,121.3 L119.6,123.1 L119.9,123.3 L120.1,123.3 L120.4,123.3 L120.7,123.9 L120.9,122.9 L121.2,123.1 L121.4,121.9 L121.7,123.0 L122.0,123.0 L122.2,123.7 L122.5,125.0 L122.7,125.9 L123.0,126.6 L123.3,127.2 L123.5,128.6 L123.8,129.1 L124.0,129.5 L124.3,130.0 L124.6,130.0 L124.8,129.0 L125.1,129.9 L125.4,130.0 L125.6,130.0 L125.9,129.0 L126.1,130.6 L126.4,129.2 L126.7,128.9 L126.9,127.6 L127.2,127.8 L127.4,127.3 L127.7,124.5 L128.0,123.8 L128.2,121.2 L128.5,118.1 L128.7,113.8 L129.0,110.2 L129.3,105.5 L129.5,101.1 L129.8,98.2 L130.0,97.0 L130.3,96.5 L130.6,98.6 L130.8,101.6 L131.1,104.3 L131.3,109.4 L131.6,114.6 L131.9,117.8 L132.1,120.7 L132.4,124.1 L132.7,125.0 L132.9,126.3 L133.2,127.6 L133.4,128.0 L133.7,129.1 L134.0,128.9 L134.2,128.1 L134.5,129.3 L134.7,129.0 L135.0,129.6 L135.3,129.4 L135.5,129.3 L135.8,129.3 L136.0,130.8 L136.3,129.5 L136.6,130.0 L136.8,129.3 L137.1,130.2 L137.3,129.7 L137.6,130.4 L137.9,130.3 L138.1,129.7 L138.4,130.4 L138.7,129.6 L138.9,129.7 L139.2,130.1 L139.4,130.0 L139.7,130.9 L140.0,129.7 L140.2,130.4 L140.5,130.1 L140.7,131.9 L141.0,130.0 L141.3,130.0 L141.5,130.7 L141.8,130.8 L142.0,130.0 L142.3,130.1 L142.6,130.4 L142.8,130.2 L143.1,130.5 L143.3,130.6 L143.6,129.7 L143.9,131.2 L144.1,130.5 L144.4,129.6 L144.7,129.7 L144.9,129.3 L145.2,129.4 L145.4,130.0 L145.7,129.7 L146.0,130.2 L146.2,129.7 L146.5,129.7 L146.7,129.3 L147.0,129.6 L147.3,128.9 L147.5,129.6 L147.8,130.3 L148.0,128.8 L148.3,129.8 L148.6,130.5 L148.8,130.0 L149.1,129.6 L149.3,130.5 L149.6,130.3 L149.9,130.3 L150.1,130.7 L150.4,129.9 L150.6,132.2 L150.9,130.4 L151.2,129.4 L151.4,131.0 L151.7,130.3 L152.0,130.9 L152.2,131.1 L152.5,130.9 L152.7,131.0 L153.0,130.7 L153.3,131.2 L153.5,130.5 L153.8,130.3 L154.0,131.5 L154.3,131.1 L154.6,131.4 L154.8,130.9 L155.1,131.3 L155.3,130.2 L155.6,130.1 L155.9,130.2 L156.1,130.8 L156.4,130.7 L156.6,130.7 L156.9,130.4 L157.2,130.5 L157.4,131.0 L157.7,130.0 L158.0,130.6 L158.2,131.0 L158.5,131.3 L158.7,131.0 L159.0,130.1 L159.3,130.5 L159.5,130.3 L159.8,131.4 L160.0,130.2 L160.3,130.6 L160.6,130.0 L160.8,129.6 L161.1,130.0 L161.3,130.5 L161.6,129.8 L161.9,130.9 L162.1,131.1 L162.4,130.5 L162.6,129.5 L162.9,130.8 L163.2,130.1 L163.4,129.4 L163.7,131.3 L163.9,130.8 L164.2,131.0 L164.5,130.6 L164.7,130.4 L165.0,131.1 L165.3,131.3 L165.5,131.1 L165.8,130.1 L166.0,131.4 L166.3,130.7 L166.6,129.9 L166.8,130.3 L167.1,130.4 L167.3,130.4 L167.6,130.2 L167.9,131.0 L168.1,130.7 L168.4,131.3 L168.6,130.2 L168.9,130.9 L169.2,129.7 L169.4,130.6 L169.7,130.3 L169.9,130.5 L170.2,130.6 L170.5,130.6 L170.7,130.0 L171.0,129.3 L171.3,130.6 L171.5,129.0 L171.8,129.9 L172.0,128.9 L172.3,129.3 L172.6,129.6 L172.8,128.3 L173.1,129.3 L173.3,129.5 L173.6,129.6 L173.9,129.6 L174.1,130.1 L174.4,128.9 L174.6,131.1 L174.9,130.0 L175.2,129.5 L175.4,129.4 L175.7,131.0 L175.9,130.5 L176.2,131.4 L176.5,130.3 L176.7,130.1 L177.0,129.5 L177.3,131.2 L177.5,129.5 L177.8,130.2 L178.0,130.1 L178.3,130.7 L178.6,130.7 L178.8,130.2 L179.1,130.4 L179.3,131.2 L179.6,129.9 L179.9,130.0 L180.1,130.4 L180.4,130.0 L180.6,129.8 L180.9,131.3 L181.2,131.1 L181.4,129.9 L181.7,130.0 L181.9,131.1 L182.2,131.9 L182.5,130.5 L182.7,130.8 L183.0,131.0 L183.2,130.7 L183.5,130.7 L183.8,131.4 L184.0,131.3 L184.3,130.8 L184.6,131.1 L184.8,131.4 L185.1,130.8 L185.3,130.7 L185.6,131.6 L185.9,131.8 L186.1,130.6 L186.4,131.5 L186.6,131.4 L186.9,131.8 L187.2,130.4 L187.4,131.2 L187.7,131.2 L187.9,131.1 L188.2,130.7 L188.5,131.7 L188.7,131.4 L189.0,132.0 L189.2,131.4 L189.5,131.4 L189.8,131.1 L190.0,131.2 L190.3,131.0 L190.6,130.9 L190.8,131.0 L191.1,130.4 L191.3,131.0 L191.6,129.9 L191.9,130.6 L192.1,131.7 L192.4,131.4 L192.6,130.1 L192.9,130.1 L193.2,131.3 L193.4,130.6 L193.7,130.9 L193.9,130.8 L194.2,130.9 L194.5,131.5 L194.7,129.5 L195.0,130.7 L195.2,130.6 L195.5,130.8 L195.8,130.1 L196.0,131.0 L196.3,129.9 L196.5,130.7 L196.8,131.8 L197.1,129.6 L197.3,130.8 L197.6,130.5 L197.9,130.3 L198.1,130.5 L198.4,130.6 L198.6,129.9 L198.9,130.2 L199.2,130.3 L199.4,129.3 L199.7,130.4 L199.9,130.3 L200.2,130.3 L200.5,129.2 L200.7,130.7 L201.0,128.7 L201.2,128.6 L201.5,128.5 L201.8,125.9 L202.0,125.6 L202.3,126.5 L202.5,125.1 L202.8,125.1 L203.1,124.0 L203.3,122.5 L203.6,121.5 L203.9,122.9 L204.1,124.8 L204.4,124.1 L204.6,124.7 L204.9,126.4 L205.2,126.9 L205.4,126.9 L205.7,128.0 L205.9,128.7 L206.2,128.8 L206.5,129.7 L206.7,130.2 L207.0,130.1 L207.2,130.2 L207.5,130.7 L207.8,129.9 L208.0,130.4 L208.3,130.3 L208.5,131.0 L208.8,131.8 L209.1,131.3 L209.3,132.3 L209.6,131.5 L209.9,131.0 L210.1,130.8 L210.4,130.4 L210.6,131.2 L210.9,130.6 L211.2,131.7 L211.4,131.4 L211.7,130.0 L211.9,131.0 L212.2,131.7 L212.5,129.9 L212.7,130.5 L213.0,130.6 L213.2,129.9 L213.5,130.7 L213.8,130.6 L214.0,130.4 L214.3,130.3 L214.5,129.8 L214.8,130.1 L215.1,130.0 L215.3,131.6 L215.6,130.2 L215.8,131.3 L216.1,130.9 L216.4,129.9 L216.6,131.3 L216.9,130.5 L217.2,131.0 L217.4,130.4 L217.7,131.7 L217.9,130.9 L218.2,131.0 L218.5,130.9 L218.7,131.7 L219.0,131.3 L219.2,130.9 L219.5,130.4 L219.8,130.5 L220.0,131.2 L220.3,130.6 L220.5,130.1 L220.8,130.9 L221.1,130.9 L221.3,131.7 L221.6,131.9 L221.8,131.1 L222.1,131.5 L222.4,131.8 L222.6,130.9 L222.9,131.3 L223.2,131.5 L223.4,131.7 L223.7,132.6 L223.9,131.9 L224.2,132.4 L224.5,131.6 L224.7,131.8 L225.0,131.2 L225.2,132.1 L225.5,131.9 L225.8,131.2 L226.0,132.0 L226.3,131.0 L226.5,131.2 L226.8,131.3 L227.1,131.1 L227.3,131.5 L227.6,131.3 L227.8,130.5 L228.1,130.6 L228.4,130.7 L228.6,131.0 L228.9,130.4 L229.1,131.3 L229.4,131.0 L229.7,131.4 L229.9,131.2 L230.2,131.2 L230.5,131.7 L230.7,131.1 L231.0,130.9 L231.2,131.7 L231.5,131.2 L231.8,130.9 L232.0,131.0 L232.3,131.4 L232.5,131.3 L232.8,130.7 L233.1,130.5 L233.3,131.2 L233.6,131.3 L233.8,131.2 L234.1,131.4 L234.4,131.1 L234.6,131.7 L234.9,130.9 L235.1,131.1 L235.4,131.4 L235.7,130.4 L235.9,131.3 L236.2,129.9 L236.5,130.9 L236.7,130.5 L237.0,130.7 L237.2,130.6 L237.5,131.8 L237.8,131.4 L238.0,131.0 L238.3,131.0 L238.5,131.6 L238.8,130.5 L239.1,132.3 L239.3,131.2 L239.6,130.2 L239.8,131.7 L240.1,131.7 L240.4,132.2 L240.6,131.9 L240.9,131.3 L241.1,130.8 L241.4,129.4 L241.7,130.8 L241.9,130.9 L242.2,130.7 L242.5,130.4 L242.7,130.6 L243.0,130.7 L243.2,130.2 L243.5,131.8 L243.8,131.1 L244.0,131.4 L244.3,132.0 L244.5,132.0 L244.8,131.4 L245.1,131.2 L245.3,132.5 L245.6,131.1 L245.8,132.1 L246.1,132.2 L246.4,131.4 L246.6,130.3 L246.9,131.4 L247.1,131.0 L247.4,129.6 L247.7,131.6 L247.9,131.1 L248.2,130.2 L248.4,130.8 L248.7,130.6 L249.0,130.7 L249.2,130.5 L249.5,130.4 L249.8,130.8 L250.0,131.0 L250.3,131.4 L250.5,129.7 L250.8,131.2 L251.1,131.0 L251.3,131.2 L251.6,131.0 L251.8,130.9 L252.1,131.3 L252.4,131.6 L252.6,131.1 L252.9,130.7 L253.1,131.5 L253.4,131.8 L253.7,130.3 L253.9,131.3 L254.2,131.9 L254.4,131.5 L254.7,131.3 L255.0,132.5 L255.2,131.8 L255.5,130.7 L255.8,129.9 L256.0,130.4 L256.3,131.0 L256.5,131.1 L256.8,131.1 L257.1,130.6 L257.3,130.5 L257.6,130.6 L257.8,130.9 L258.1,130.8 L258.4,131.2 L258.6,131.0 L258.9,130.7 L259.1,130.8 L259.4,130.6 L259.7,130.2 L259.9,130.3 L260.2,129.5 L260.4,128.8 L260.7,128.7 L261.0,128.7 L261.2,126.8 L261.5,126.5 L261.7,126.9 L262.0,125.4 L262.3,124.0 L262.5,122.8 L262.8,122.0 L263.1,121.6 L263.3,119.9 L263.6,122.2 L263.8,122.9 L264.1,123.8 L264.4,124.7 L264.6,125.3 L264.9,125.6 L265.1,126.7 L265.4,127.3 L265.7,129.0 L265.9,128.6 L266.2,130.2 L266.4,131.2 L266.7,130.7 L267.0,130.3 L267.2,130.4 L267.5,131.4 L267.7,130.1 L268.0,131.1 L268.3,130.8 L268.5,131.0 L268.8,130.6 L269.1,130.9 L269.3,131.7 L269.6,130.0 L269.8,130.6 L270.1,131.8 L270.4,131.2 L270.6,130.0 L270.9,132.0 L271.1,131.3 L271.4,130.9 L271.7,130.9 L271.9,130.7 L272.2,130.4 L272.4,130.4 L272.7,131.4 L273.0,130.8 L273.2,131.3 L273.5,131.4 L273.7,130.8 L274.0,131.1 L274.3,133.0 L274.5,131.8 L274.8,131.3 L275.1,132.3 L275.3,131.2 L275.6,131.1 L275.8,130.8 L276.1,131.7 L276.4,131.5 L276.6,130.6 L276.9,131.0 L277.1,132.0 L277.4,130.9 L277.7,130.1 L277.9,130.2 L278.2,131.1 L278.4,130.1 L278.7,130.8 L279.0,131.2 L279.2,131.0 L279.5,130.9 L279.7,130.8 L280.0,131.7 L280.3,131.2 L280.5,130.7 L280.8,131.9 L281.0,130.8 L281.3,131.9 L281.6,131.7 L281.8,131.3 L282.1,130.4 L282.4,131.2 L282.6,131.1 L282.9,131.6 L283.1,131.3 L283.4,131.8 L283.7,131.6 L283.9,131.4 L284.2,130.8 L284.4,130.3 L284.7,130.8 L285.0,131.6 L285.2,131.0 L285.5,130.6 L285.7,131.5 L286.0,131.1 L286.3,131.2 L286.5,131.5 L286.8,131.7 L287.0,132.1 L287.3,132.1 L287.6,130.9 L287.8,131.4 L288.1,131.0 L288.4,131.2 L288.6,131.6 L288.9,131.8 L289.1,131.6 L289.4,132.0 L289.7,131.6 L289.9,130.7 L290.2,131.0 L290.4,131.0 L290.7,132.0 L291.0,131.1 L291.2,131.3 L291.5,130.1 L291.7,130.6 L292.0,131.7 L292.3,130.7 L292.5,130.8 L292.8,131.2 L293.0,131.6 L293.3,131.1 L293.6,132.5 L293.8,131.1 L294.1,131.3 L294.3,131.9 L294.6,131.1 L294.9,132.2 L295.1,131.5 L295.4,130.7 L295.7,130.5 L295.9,130.6 L296.2,130.9 L296.4,130.5 L296.7,131.8 L297.0,131.8 L297.2,132.2 L297.5,132.4 L297.7,131.8 L298.0,131.4 L298.3,131.7 L298.5,131.5 L298.8,132.7 L299.0,130.6 L299.3,130.3 L299.6,130.5 L299.8,131.1 L300.1,130.8 L300.3,130.5 L300.6,130.9 L300.9,129.0 L301.1,129.2 L301.4,128.3 L301.7,128.4 L301.9,126.8 L302.2,125.5 L302.4,125.4 L302.7,125.1 L303.0,123.7 L303.2,122.4 L303.5,122.9 L303.7,123.3 L304.0,122.8 L304.3,123.4 L304.5,124.2 L304.8,124.3 L305.0,126.5 L305.3,126.3 L305.6,127.6 L305.8,129.4 L306.1,128.2 L306.3,129.5 L306.6,129.8 L306.9,131.2 L307.1,130.4 L307.4,130.3 L307.7,129.7 L307.9,131.0 L308.2,130.7 L308.4,131.0 L308.7,132.1 L309.0,130.6 L309.2,131.1 L309.5,131.6 L309.7,130.8 L310.0,131.1 L310.3,131.5 L310.5,131.4 L310.8,132.4 L311.0,131.9 L311.3,131.1 L311.6,131.0 L311.8,131.7 L312.1,131.9 L312.3,131.7 L312.6,131.8 L312.9,131.4 L313.1,132.7 L313.4,132.0 L313.6,131.5 L313.9,132.0 L314.2,132.2 L314.4,131.3 L314.7,132.8 L315.0,131.9 L315.2,131.7 L315.5,132.5 L315.7,132.1 L316.0,132.3 L316.3,132.9 L316.5,130.8 L316.8,132.1 L317.0,131.7 L317.3,131.9 L317.6,132.6 L317.8,131.2 L318.1,130.9 L318.3,131.6 L318.6,132.6 L318.9,131.9 L319.1,131.0 L319.4,131.1 L319.6,131.2 L319.9,131.2 L320.2,131.0 L320.4,132.0 L320.7,131.2 L321.0,132.7 L321.2,131.9 L321.5,132.6 L321.7,131.6 L322.0,131.2 L322.3,131.6 L322.5,131.7 L322.8,131.7 L323.0,131.5 L323.3,131.1 L323.6,130.7 L323.8,131.4 L324.1,130.5 L324.3,131.3 L324.6,130.1 L324.9,131.6 L325.1,131.0 L325.4,130.9 L325.6,131.1 L325.9,130.8 L326.2,130.5 L326.4,129.6 L326.7,129.8 L326.9,130.8 L327.2,130.7 L327.5,132.3 L327.7,129.5 L328.0,130.6 L328.3,132.0 L328.5,131.4 L328.8,131.9 L329.0,131.3 L329.3,131.0 L329.6,132.0 L329.8,132.8 L330.1,131.8 L330.3,131.8 L330.6,132.0 L330.9,132.8 L331.1,132.4 L331.4,132.4 L331.6,132.2 L331.9,131.5 L332.2,132.1 L332.4,131.1 L332.7,131.8 L332.9,130.5 L333.2,131.2 L333.5,132.2 L333.7,131.5 L334.0,131.1 L334.3,130.6 L334.5,130.3 L334.8,130.4 L335.0,130.3 L335.3,129.9 L335.6,128.0 L335.8,127.9 L336.1,126.4 L336.3,126.2 L336.6,126.8 L336.9,126.2 L337.1,126.2 L337.4,124.1 L337.6,127.0 L337.9,128.2 L338.2,127.5 L338.4,129.2 L338.7,127.5 L338.9,129.8 L339.2,130.4 L339.5,129.8 L339.7,130.6 L340.0,130.3 L340.3,129.5 L340.5,130.6 L340.8,131.0 L341.0,130.3 L341.3,131.2 L341.6,130.0 L341.8,130.6 L342.1,130.2 L342.3,129.9 L342.6,129.2 L342.9,130.2 L343.1,128.2 L343.4,128.2 L343.6,128.3 L343.9,128.8 L344.2,128.2 L344.4,129.1 L344.7,128.6 L344.9,129.1 L345.2,130.0 L345.5,131.2 L345.7,131.3 L346.0,129.7 L346.2,130.0 L346.5,131.2 L346.8,132.2 L347.0,131.6 L347.3,129.6 L347.6,130.4 L347.8,131.1 L348.1,131.0 L348.3,130.9 L348.6,131.1 L348.9,131.0 L349.1,130.4 L349.4,131.3 L349.6,130.2 L349.9,131.8 L350.2,131.0 L350.4,132.0 L350.7,131.1 L350.9,131.5 L351.2,131.0 L351.5,131.9 L351.7,130.3 L352.0,132.0 L352.2,131.6 L352.5,131.8 L352.8,130.6 L353.0,130.3 L353.3,130.6 L353.6,131.3 L353.8,131.8 L354.1,131.2 L354.3,131.2 L354.6,132.0 L354.9,131.5 L355.1,131.7 L355.4,132.1 L355.6,131.5 L355.9,131.2 L356.2,130.7 L356.4,130.5 L356.7,131.8 L356.9,130.7 L357.2,131.0 L357.5,131.8 L357.7,131.3 L358.0,131.4 L358.2,131.9 L358.5,131.8 L358.8,131.6 L359.0,131.2 L359.3,131.5 L359.5,132.0 L359.8,132.1 L360.1,132.1 L360.3,131.5 L360.6,132.1 L360.9,131.9 L361.1,132.2 L361.4,133.0 L361.6,132.1 L361.9,132.6 L362.2,132.6 L362.4,132.1 L362.7,132.4 L362.9,131.9 L363.2,131.3 L363.5,132.3 L363.7,132.1 L364.0,133.1 L364.2,132.5 L364.5,130.6 L364.8,132.6 L365.0,132.5 L365.3,132.2 L365.5,131.6 L365.8,132.6 L366.1,131.6 L366.3,132.3 L366.6,132.0 L366.9,130.8 L367.1,132.1 L367.4,131.7 L367.6,131.1 L367.9,131.4 L368.2,131.8 L368.4,132.0 L368.7,131.6 L368.9,131.6 L369.2,132.3 L369.5,132.5 L369.7,133.3 L370.0,131.6 L370.2,131.8 L370.5,131.8 L370.8,132.5 L371.0,131.7 L371.3,132.6 L371.5,132.6 L371.8,132.8 L372.1,131.9 L372.3,131.7 L372.6,131.0 L372.9,131.9 L373.1,130.7 L373.4,131.7 L373.6,131.7 L373.9,131.1 L374.2,131.1 L374.4,131.8 L374.7,131.9 L374.9,130.6 L375.2,131.1 L375.5,131.2 L375.7,131.4 L376.0,132.3 L376.2,130.6 L376.5,131.3 L376.8,131.3 L377.0,132.0 L377.3,132.0 L377.5,131.3 L377.8,132.6 L378.1,132.4 L378.3,131.7 L378.6,132.1 L378.8,132.0 L379.1,132.1 L379.4,132.2 L379.6,131.9 L379.9,132.0 L380.2,131.3 L380.4,131.7 L380.7,131.7 L380.9,131.7 L381.2,131.3 L381.5,132.1 L381.7,131.1 L382.0,131.6 L382.2,132.3 L382.5,132.3 L382.8,132.6 L383.0,132.0 L383.3,131.5 L383.5,132.1 L383.8,131.4 L384.1,132.8 L384.3,132.2 L384.6,132.7 L384.8,131.6 L385.1,131.0 L385.4,133.8 L385.6,132.5 L385.9,132.3 L386.2,131.8 L386.4,133.3 L386.7,132.8 L386.9,132.3 L387.2,132.5 L387.5,133.0 L387.7,132.0 L388.0,132.6 L388.2,132.2 L388.5,132.2 L388.8,133.1 L389.0,132.5 L389.3,133.1 L389.5,133.2 L389.8,132.2 L390.1,132.5 L390.3,132.1 L390.6,132.4 L390.8,131.6 L391.1,131.8 L391.4,132.0 L391.6,131.8 L391.9,132.4 L392.1,131.4 L392.4,132.2 L392.7,132.3 L392.9,131.6 L393.2,131.1 L393.5,130.9 L393.7,131.8 L394.0,131.7 L394.2,132.0 L394.5,130.8 L394.8,130.2 L395.0,132.4 L395.3,131.3 L395.5,130.8 L395.8,130.4 L396.1,130.2 L396.3,131.1 L396.6,131.0 L396.8,131.2 L397.1,131.1 L397.4,132.0 L397.6,131.1 L397.9,131.8 L398.1,132.1 L398.4,131.0 L398.7,131.2 L398.9,133.4 L399.2,131.1 L399.5,132.1 L399.7,132.3 L400.0,132.2 L400.2,131.3 L400.5,131.3 L400.8,130.8 L401.0,132.2 L401.3,131.1 L401.5,131.9 L401.8,131.5 L402.1,131.7 L402.3,132.8 L402.6,131.3 L402.8,131.7 L403.1,132.1 L403.4,132.0 L403.6,132.9 L403.9,132.5 L404.1,133.0 L404.4,131.7 L404.7,131.8 L404.9,131.1 L405.2,131.1 L405.5,132.4 L405.7,132.2 L406.0,132.0 L406.2,132.1 L406.5,131.8 L406.8,133.0 L407.0,131.8 L407.3,132.4 L407.5,132.3 L407.8,132.0 L408.1,132.4 L408.3,132.8 L408.6,132.7 L408.8,133.0 L409.1,133.3 L409.4,133.5 L409.6,133.1 L409.9,132.7 L410.1,133.0 L410.4,131.3 L410.7,132.7 L410.9,132.1 L411.2,131.8 L411.4,132.5 L411.7,132.1 L412.0,131.9 L412.2,132.2 L412.5,132.3 L412.8,132.5 L413.0,133.0 L413.3,132.5 L413.5,133.3 L413.8,132.7 L414.1,133.9 L414.3,132.6 L414.6,132.6" stroke="#ff00ff"/>
</g>
<path d="M56.5,0.5 H414.4" fill="none" stroke="#888" stroke-width="1"/>
<path d="M414.4,0 V443.6" fill="none" stroke="#222" stroke-width="0.7"/>
<path d="M56.5,0 V443.6 H414.9" fill="none" stroke="#000" stroke-width="1.6"/>
<path d="M48.0,0.65 H56.5 M52.0,15.93 H56.5 M48.0,31.20 H56.5 M52.0,46.48 H56.5 M48.0,61.75 H56.5 M52.0,77.03 H56.5 M48.0,92.30 H56.5 M52.0,107.58 H56.5 M48.0,122.85 H56.5 M52.0,138.12 H56.5 M48.0,153.40 H56.5 M52.0,168.68 H56.5 M48.0,183.95 H56.5 M52.0,199.23 H56.5 M48.0,214.50 H56.5 M52.0,229.78 H56.5 M48.0,245.05 H56.5 M52.0,260.33 H56.5 M48.0,275.60 H56.5 M52.0,290.88 H56.5 M48.0,306.15 H56.5 M52.0,321.43 H56.5 M48.0,336.70 H56.5 M52.0,351.98 H56.5 M48.0,367.25 H56.5 M52.0,382.53 H56.5 M48.0,397.80 H56.5 M52.0,413.08 H56.5 M48.0,428.35 H56.5" stroke="#000" stroke-width="1.5" fill="none"/>
<path d="M56.50,443.6 V447.6 M89.10,443.6 V450.8 M121.70,443.6 V447.6 M154.30,443.6 V450.8 M186.90,443.6 V447.6 M219.50,443.6 V450.8 M252.10,443.6 V447.6 M284.70,443.6 V450.8 M317.30,443.6 V447.6 M349.90,443.6 V450.8 M382.50,443.6 V447.6 M415.10,443.6 V450.8" stroke="#000" stroke-width="1.5" fill="none"/>
<text x="89.1" y="469.8" font-size="17.5" text-anchor="middle">30</text>
<text x="154.3" y="469.8" font-size="17.5" text-anchor="middle">40</text>
<text x="219.5" y="469.8" font-size="17.5" text-anchor="middle">50</text>
<text x="284.7" y="469.8" font-size="17.5" text-anchor="middle">60</text>
<text x="349.9" y="469.8" font-size="17.5" text-anchor="middle">70</text>
<text x="415.1" y="469.8" font-size="17.5" text-anchor="middle">80</text>
<text x="235.5" y="513.3" font-size="28.5" text-anchor="middle">2<tspan font-family="Liberation Serif, serif">θ</tspan> (deg)</text>
<text transform="translate(20.3,238.5) rotate(-90)" font-size="27.5" letter-spacing="0.45" text-anchor="middle">Intensity (a.u)</text>
<text x="63.1" y="30.8" font-size="28.5" >(a)</text>
<text x="412.8" y="44.2" font-size="21.4" text-anchor="end">ZnO:Cu</text>
<text x="412" y="168.7" font-size="21.4" text-anchor="end">ZnO:Ni</text>
<text x="412" y="218.6" font-size="21.4" text-anchor="end">ZnO:Co</text>
<text x="412" y="267.7" font-size="21.4" text-anchor="end">ZnO:Fe</text>
<text x="412" y="327.6" font-size="21.4" text-anchor="end">ZnO:Mn</text>
<text x="414" y="409.3" font-size="21.4" text-anchor="end">ZnO</text>
<text transform="translate(102.4,103.8) rotate(-90)" font-size="21" letter-spacing="0.4">(100)</text>
<text transform="translate(121.6,107.9) rotate(-90)" font-size="21" letter-spacing="0.4">(002)</text>
<text transform="translate(143.2,94) rotate(-90)" font-size="21" letter-spacing="0.4">(101)</text>
<text transform="translate(212.7,117.1) rotate(-90)" font-size="21" letter-spacing="0.4">(102)</text>
<text transform="translate(270.7,115.1) rotate(-90)" font-size="21" letter-spacing="0.4">(110)</text>
<text transform="translate(312.7,112.1) rotate(-90)" font-size="21" letter-spacing="0.4">(103)</text>
<text transform="translate(348.2,119.6) rotate(-90)" font-size="21" letter-spacing="0.4">(112)</text>
<clipPath id="cb"><rect x="446.5" y="0" width="222.70000000000005" height="443.6"/></clipPath>
<g clip-path="url(#cb)">
<path d="M446.5,378.0 L457.6,355.0 L468.7,329.0 L479.9,286.6 L491.0,233.7 L502.1,152.7 L513.2,127.1 L524.3,168.3 L535.5,241.4 L546.6,304.8 L557.7,353.5 L568.8,389.6 L579.9,403.5 L591.1,407.5 L602.2,414.0 L613.3,419.3 L624.4,420.0 L635.5,420.4 L646.7,422.9 L657.8,422.0 L668.9,421.5" fill="none" stroke="#000000" stroke-width="3.2" stroke-linejoin="round"/>
<rect x="442.0" y="373.5" width="9.0" height="9.0" fill="#000000"/>
<rect x="453.1" y="350.5" width="9.0" height="9.0" fill="#000000"/>
<rect x="464.2" y="324.5" width="9.0" height="9.0" fill="#000000"/>
<rect x="475.4" y="282.1" width="9.0" height="9.0" fill="#000000"/>
<rect x="486.5" y="229.2" width="9.0" height="9.0" fill="#000000"/>
<rect x="497.6" y="148.2" width="9.0" height="9.0" fill="#000000"/>
<rect x="508.7" y="122.6" width="9.0" height="9.0" fill="#000000"/>
<rect x="519.8" y="163.8" width="9.0" height="9.0" fill="#000000"/>
<rect x="531.0" y="236.9" width="9.0" height="9.0" fill="#000000"/>
<rect x="542.1" y="300.3" width="9.0" height="9.0" fill="#000000"/>
<rect x="553.2" y="349.0" width="9.0" height="9.0" fill="#000000"/>
<rect x="564.3" y="385.1" width="9.0" height="9.0" fill="#000000"/>
<rect x="575.4" y="399.0" width="9.0" height="9.0" fill="#000000"/>
<rect x="586.6" y="403.0" width="9.0" height="9.0" fill="#000000"/>
<rect x="597.7" y="409.5" width="9.0" height="9.0" fill="#000000"/>
<rect x="608.8" y="414.8" width="9.0" height="9.0" fill="#000000"/>
<rect x="619.9" y="415.5" width="9.0" height="9.0" fill="#000000"/>
<rect x="631.0" y="415.9" width="9.0" height="9.0" fill="#000000"/>
<rect x="642.2" y="418.4" width="9.0" height="9.0" fill="#000000"/>
<rect x="653.3" y="417.5" width="9.0" height="9.0" fill="#000000"/>
<rect x="664.4" y="417.0" width="9.0" height="9.0" fill="#000000"/>
<path d="M446.5,425.0 L457.6,423.0 L468.7,420.2 L479.9,417.3 L491.0,407.1 L502.1,399.6 L513.2,388.5 L524.3,372.5 L535.5,357.8 L546.6,332.9 L557.7,292.0 L568.8,241.7 L579.9,198.1 L591.1,206.2 L602.2,206.2 L613.3,265.8 L624.4,301.9 L635.5,348.5 L646.7,377.5 L657.8,407.0 L668.9,412.3" fill="none" stroke="#ff0000" stroke-width="3.2" stroke-linejoin="round"/>
<circle cx="446.5" cy="425.0" r="5.1" fill="#ff0000"/>
<circle cx="457.6" cy="423.0" r="5.1" fill="#ff0000"/>
<circle cx="468.7" cy="420.2" r="5.1" fill="#ff0000"/>
<circle cx="479.9" cy="417.3" r="5.1" fill="#ff0000"/>
<circle cx="491.0" cy="407.1" r="5.1" fill="#ff0000"/>
<circle cx="502.1" cy="399.6" r="5.1" fill="#ff0000"/>
<circle cx="513.2" cy="388.5" r="5.1" fill="#ff0000"/>
<circle cx="524.3" cy="372.5" r="5.1" fill="#ff0000"/>
<circle cx="535.5" cy="357.8" r="5.1" fill="#ff0000"/>
<circle cx="546.6" cy="332.9" r="5.1" fill="#ff0000"/>
<circle cx="557.7" cy="292.0" r="5.1" fill="#ff0000"/>
<circle cx="568.8" cy="241.7" r="5.1" fill="#ff0000"/>
<circle cx="579.9" cy="198.1" r="5.1" fill="#ff0000"/>
<circle cx="591.1" cy="206.2" r="5.1" fill="#ff0000"/>
<circle cx="602.2" cy="206.2" r="5.1" fill="#ff0000"/>
<circle cx="613.3" cy="265.8" r="5.1" fill="#ff0000"/>
<circle cx="624.4" cy="301.9" r="5.1" fill="#ff0000"/>
<circle cx="635.5" cy="348.5" r="5.1" fill="#ff0000"/>
<circle cx="646.7" cy="377.5" r="5.1" fill="#ff0000"/>
<circle cx="657.8" cy="407.0" r="5.1" fill="#ff0000"/>
<circle cx="668.9" cy="412.3" r="5.1" fill="#ff0000"/>
<path d="M446.5,403.8 L457.6,401.0 L468.7,397.1 L479.9,395.2 L491.0,386.5 L502.1,381.7 L513.2,369.0 L524.3,349.5 L535.5,332.9 L546.6,311.3 L557.7,282.5 L568.8,266.6 L579.9,271.0 L591.1,278.2 L602.2,304.1 L613.3,327.5 L624.4,349.8 L635.5,366.2 L646.7,383.5 L657.8,394.0 L668.9,400.8" fill="none" stroke="#00ff00" stroke-width="3.2" stroke-linejoin="round"/>
<path d="M446.5,397.9 L452.4,407.6 H440.6 Z" fill="#00ff00"/>
<path d="M457.6,395.1 L463.5,404.8 H451.7 Z" fill="#00ff00"/>
<path d="M468.7,391.2 L474.6,400.9 H462.8 Z" fill="#00ff00"/>
<path d="M479.9,389.3 L485.8,399.0 H474.0 Z" fill="#00ff00"/>
<path d="M491.0,380.6 L496.9,390.3 H485.1 Z" fill="#00ff00"/>
<path d="M502.1,375.8 L508.0,385.5 H496.2 Z" fill="#00ff00"/>
<path d="M513.2,363.1 L519.1,372.8 H507.3 Z" fill="#00ff00"/>
<path d="M524.3,343.6 L530.2,353.3 H518.4 Z" fill="#00ff00"/>
<path d="M535.5,327.0 L541.4,336.7 H529.6 Z" fill="#00ff00"/>
<path d="M546.6,305.4 L552.5,315.1 H540.7 Z" fill="#00ff00"/>
<path d="M557.7,276.6 L563.6,286.3 H551.8 Z" fill="#00ff00"/>
<path d="M568.8,260.7 L574.7,270.4 H562.9 Z" fill="#00ff00"/>
<path d="M579.9,265.1 L585.8,274.8 H574.0 Z" fill="#00ff00"/>
<path d="M591.1,272.3 L597.0,282.0 H585.2 Z" fill="#00ff00"/>
<path d="M602.2,298.2 L608.1,307.9 H596.3 Z" fill="#00ff00"/>
<path d="M613.3,321.6 L619.2,331.3 H607.4 Z" fill="#00ff00"/>
<path d="M624.4,343.9 L630.3,353.6 H618.5 Z" fill="#00ff00"/>
<path d="M635.5,360.3 L641.4,370.0 H629.6 Z" fill="#00ff00"/>
<path d="M646.7,377.6 L652.6,387.3 H640.8 Z" fill="#00ff00"/>
<path d="M657.8,388.1 L663.7,397.8 H651.9 Z" fill="#00ff00"/>
<path d="M668.9,394.9 L674.8,404.6 H663.0 Z" fill="#00ff00"/>
<path d="M446.5,397.0 L457.6,374.1 L468.7,358.2 L479.9,344.4 L491.0,306.0 L502.1,279.5 L513.2,257.7 L524.3,251.1 L535.5,264.0 L546.6,284.0 L557.7,312.3 L568.8,354.2 L579.9,369.0 L591.1,391.3 L602.2,402.0 L613.3,404.4 L624.4,409.2 L635.5,411.6 L646.7,414.0 L657.8,422.9 L668.9,419.0" fill="none" stroke="#0000ff" stroke-width="3.2" stroke-linejoin="round"/>
<path d="M446.5,402.9 L452.4,393.2 H440.6 Z" fill="#0000ff"/>
<path d="M457.6,380.0 L463.5,370.3 H451.7 Z" fill="#0000ff"/>
<path d="M468.7,364.1 L474.6,354.4 H462.8 Z" fill="#0000ff"/>
<path d="M479.9,350.3 L485.8,340.6 H474.0 Z" fill="#0000ff"/>
<path d="M491.0,311.9 L496.9,302.2 H485.1 Z" fill="#0000ff"/>
<path d="M502.1,285.4 L508.0,275.7 H496.2 Z" fill="#0000ff"/>
<path d="M513.2,263.6 L519.1,253.9 H507.3 Z" fill="#0000ff"/>
<path d="M524.3,257.0 L530.2,247.3 H518.4 Z" fill="#0000ff"/>
<path d="M535.5,269.9 L541.4,260.2 H529.6 Z" fill="#0000ff"/>
<path d="M546.6,289.9 L552.5,280.2 H540.7 Z" fill="#0000ff"/>
<path d="M557.7,318.2 L563.6,308.5 H551.8 Z" fill="#0000ff"/>
<path d="M568.8,360.1 L574.7,350.4 H562.9 Z" fill="#0000ff"/>
<path d="M579.9,374.9 L585.8,365.2 H574.0 Z" fill="#0000ff"/>
<path d="M591.1,397.2 L597.0,387.5 H585.2 Z" fill="#0000ff"/>
<path d="M602.2,407.9 L608.1,398.2 H596.3 Z" fill="#0000ff"/>
<path d="M613.3,410.3 L619.2,400.6 H607.4 Z" fill="#0000ff"/>
<path d="M624.4,415.1 L630.3,405.4 H618.5 Z" fill="#0000ff"/>
<path d="M635.5,417.5 L641.4,407.8 H629.6 Z" fill="#0000ff"/>
<path d="M646.7,419.9 L652.6,410.2 H640.8 Z" fill="#0000ff"/>
<path d="M657.8,428.8 L663.7,419.1 H651.9 Z" fill="#0000ff"/>
<path d="M668.9,424.9 L674.8,415.2 H663.0 Z" fill="#0000ff"/>
<path d="M446.5,408.7 L457.6,406.7 L468.7,409.6 L479.9,397.7 L491.0,391.3 L502.1,383.1 L513.2,371.2 L524.3,361.6 L535.5,352.2 L546.6,324.7 L557.7,294.4 L568.8,279.6 L579.9,264.7 L591.1,247.6 L602.2,250.0 L613.3,243.7 L624.4,272.5 L635.5,309.0 L646.7,313.8 L657.8,335.4 L668.9,348.8" fill="none" stroke="#00ffff" stroke-width="3.2" stroke-linejoin="round"/>
<path d="M446.5,402.5 L452.7,408.7 L446.5,414.9 L440.3,408.7 Z" fill="#00ffff"/>
<path d="M457.6,400.5 L463.8,406.7 L457.6,412.9 L451.4,406.7 Z" fill="#00ffff"/>
<path d="M468.7,403.4 L474.9,409.6 L468.7,415.8 L462.5,409.6 Z" fill="#00ffff"/>
<path d="M479.9,391.5 L486.1,397.7 L479.9,403.9 L473.7,397.7 Z" fill="#00ffff"/>
<path d="M491.0,385.1 L497.2,391.3 L491.0,397.5 L484.8,391.3 Z" fill="#00ffff"/>
<path d="M502.1,376.9 L508.3,383.1 L502.1,389.3 L495.9,383.1 Z" fill="#00ffff"/>
<path d="M513.2,365.0 L519.4,371.2 L513.2,377.4 L507.0,371.2 Z" fill="#00ffff"/>
<path d="M524.3,355.4 L530.5,361.6 L524.3,367.8 L518.1,361.6 Z" fill="#00ffff"/>
<path d="M535.5,346.0 L541.7,352.2 L535.5,358.4 L529.3,352.2 Z" fill="#00ffff"/>
<path d="M546.6,318.5 L552.8,324.7 L546.6,330.9 L540.4,324.7 Z" fill="#00ffff"/>
<path d="M557.7,288.2 L563.9,294.4 L557.7,300.6 L551.5,294.4 Z" fill="#00ffff"/>
<path d="M568.8,273.4 L575.0,279.6 L568.8,285.8 L562.6,279.6 Z" fill="#00ffff"/>
<path d="M579.9,258.5 L586.1,264.7 L579.9,270.9 L573.7,264.7 Z" fill="#00ffff"/>
<path d="M591.1,241.4 L597.3,247.6 L591.1,253.8 L584.9,247.6 Z" fill="#00ffff"/>
<path d="M602.2,243.8 L608.4,250.0 L602.2,256.2 L596.0,250.0 Z" fill="#00ffff"/>
<path d="M613.3,237.5 L619.5,243.7 L613.3,249.9 L607.1,243.7 Z" fill="#00ffff"/>
<path d="M624.4,266.3 L630.6,272.5 L624.4,278.7 L618.2,272.5 Z" fill="#00ffff"/>
<path d="M635.5,302.8 L641.7,309.0 L635.5,315.2 L629.3,309.0 Z" fill="#00ffff"/>
<path d="M646.7,307.6 L652.9,313.8 L646.7,320.0 L640.5,313.8 Z" fill="#00ffff"/>
<path d="M657.8,329.2 L664.0,335.4 L657.8,341.6 L651.6,335.4 Z" fill="#00ffff"/>
<path d="M668.9,342.6 L675.1,348.8 L668.9,355.0 L662.7,348.8 Z" fill="#00ffff"/>
<path d="M446.5,374.5 L457.6,357.8 L468.7,353.0 L479.9,339.2 L491.0,322.7 L502.1,303.0 L513.2,302.7 L524.3,276.1 L535.5,277.5 L546.6,281.8 L557.7,292.6 L568.8,318.5 L579.9,332.0 L591.1,347.0 L602.2,357.5 L613.3,369.0 L624.4,384.0 L635.5,391.6 L646.7,401.5 L657.8,397.0 L668.9,407.5" fill="none" stroke="#ff00ff" stroke-width="3.2" stroke-linejoin="round"/>
<path d="M440.6,374.5 L450.3,368.6 V380.4 Z" fill="#ff00ff"/>
<path d="M451.7,357.8 L461.4,351.9 V363.7 Z" fill="#ff00ff"/>
<path d="M462.8,353.0 L472.5,347.1 V358.9 Z" fill="#ff00ff"/>
<path d="M474.0,339.2 L483.6,333.3 V345.1 Z" fill="#ff00ff"/>
<path d="M485.1,322.7 L494.8,316.8 V328.6 Z" fill="#ff00ff"/>
<path d="M496.2,303.0 L505.9,297.1 V308.9 Z" fill="#ff00ff"/>
<path d="M507.3,302.7 L517.0,296.8 V308.6 Z" fill="#ff00ff"/>
<path d="M518.4,276.1 L528.1,270.2 V282.0 Z" fill="#ff00ff"/>
<path d="M529.6,277.5 L539.2,271.6 V283.4 Z" fill="#ff00ff"/>
<path d="M540.7,281.8 L550.4,275.9 V287.7 Z" fill="#ff00ff"/>
<path d="M551.8,292.6 L561.5,286.7 V298.5 Z" fill="#ff00ff"/>
<path d="M562.9,318.5 L572.6,312.6 V324.4 Z" fill="#ff00ff"/>
<path d="M574.0,332.0 L583.7,326.1 V337.9 Z" fill="#ff00ff"/>
<path d="M585.2,347.0 L594.8,341.1 V352.9 Z" fill="#ff00ff"/>
<path d="M596.3,357.5 L606.0,351.6 V363.4 Z" fill="#ff00ff"/>
<path d="M607.4,369.0 L617.1,363.1 V374.9 Z" fill="#ff00ff"/>
<path d="M618.5,384.0 L628.2,378.1 V389.9 Z" fill="#ff00ff"/>
<path d="M629.6,391.6 L639.3,385.7 V397.5 Z" fill="#ff00ff"/>
<path d="M640.8,401.5 L650.4,395.6 V407.4 Z" fill="#ff00ff"/>
<path d="M651.9,397.0 L661.6,391.1 V402.9 Z" fill="#ff00ff"/>
<path d="M663.0,407.5 L672.7,401.6 V413.4 Z" fill="#ff00ff"/>
</g>
<path d="M446.5,1.3 H669.2" fill="none" stroke="#555" stroke-width="0.9"/>
<path d="M668.8000000000001,0 V443.6" fill="none" stroke="#b0b0b0" stroke-width="1.4"/>
<path d="M446.5,0.8 V443.6 H669.9000000000001" fill="none" stroke="#000" stroke-width="1.6"/>
<path d="M438.0,443.60 H446.5 M438.0,391.56 H446.5 M438.0,339.52 H446.5 M438.0,287.48 H446.5 M438.0,235.44 H446.5 M438.0,183.40 H446.5 M438.0,131.36 H446.5 M438.0,79.32 H446.5 M438.0,27.28 H446.5 M442.0,417.58 H446.5 M442.0,365.54 H446.5 M442.0,313.50 H446.5 M442.0,261.46 H446.5 M442.0,209.42 H446.5 M442.0,157.38 H446.5 M442.0,105.34 H446.5 M442.0,53.30 H446.5 M442.0,1.26 H446.5 M446.50,443.6 V451.6 M474.30,443.6 V447.8 M502.10,443.6 V451.6 M529.90,443.6 V447.8 M557.70,443.6 V451.6 M585.50,443.6 V447.8 M613.30,443.6 V451.6 M641.10,443.6 V447.8 M668.90,443.6 V451.6" stroke="#000" stroke-width="1.5" fill="none"/>
<text x="447.8" y="469.8" font-size="17.5" text-anchor="middle">36.0</text>
<text x="502.5" y="469.8" font-size="17.5" text-anchor="middle">36.2</text>
<text x="558.1" y="469.8" font-size="17.5" text-anchor="middle">36.4</text>
<text x="613.7" y="469.8" font-size="17.5" text-anchor="middle">36.6</text>
<text x="669.3" y="469.8" font-size="17.5" text-anchor="middle">36.8</text>
<text x="557" y="513.3" font-size="28.5" text-anchor="middle">2<tspan font-family="Liberation Serif, serif">θ</tspan> (deg)</text>
<text x="449.3" y="35.2" font-size="28.5">(b)</text>
<rect x="525.7" y="0.5" width="144.9" height="161.5" fill="#fff" stroke="#444" stroke-width="0.9"/>
<path d="M536.1,19.1 H583.2" stroke="#000000" stroke-width="2.8"/>
<rect x="555.2" y="14.6" width="9.0" height="9.0" fill="#000000"/>
<text x="589.3" y="26.4" font-size="21.5">ZnO</text>
<path d="M536.1,45.3 H583.2" stroke="#ff0000" stroke-width="2.8"/>
<circle cx="559.7" cy="45.3" r="5.1" fill="#ff0000"/>
<text x="589.3" y="52.6" font-size="21.5">ZnO:Mn</text>
<path d="M536.1,71.5 H583.2" stroke="#00ff00" stroke-width="2.8"/>
<path d="M559.7,65.6 L565.6,75.3 H553.8 Z" fill="#00ff00"/>
<text x="589.3" y="78.8" font-size="21.5">ZnO:Fe</text>
<path d="M536.1,97.8 H583.2" stroke="#0000ff" stroke-width="2.8"/>
<path d="M559.7,103.7 L565.6,94.0 H553.8 Z" fill="#0000ff"/>
<text x="589.3" y="105.1" font-size="21.5">ZnO:Co</text>
<path d="M536.1,124.0 H583.2" stroke="#00ffff" stroke-width="2.8"/>
<path d="M559.7,117.8 L565.9,124.0 L559.7,130.2 L553.5,124.0 Z" fill="#00ffff"/>
<text x="589.3" y="131.3" font-size="21.5">ZnO:Ni</text>
<path d="M536.1,150.2 H583.2" stroke="#ff00ff" stroke-width="2.8"/>
<path d="M553.8,150.2 L563.5,144.3 V156.1 Z" fill="#ff00ff"/>
<text x="589.3" y="157.5" font-size="21.5">ZnO:Cu</text>
</g></svg>
</body></html>
